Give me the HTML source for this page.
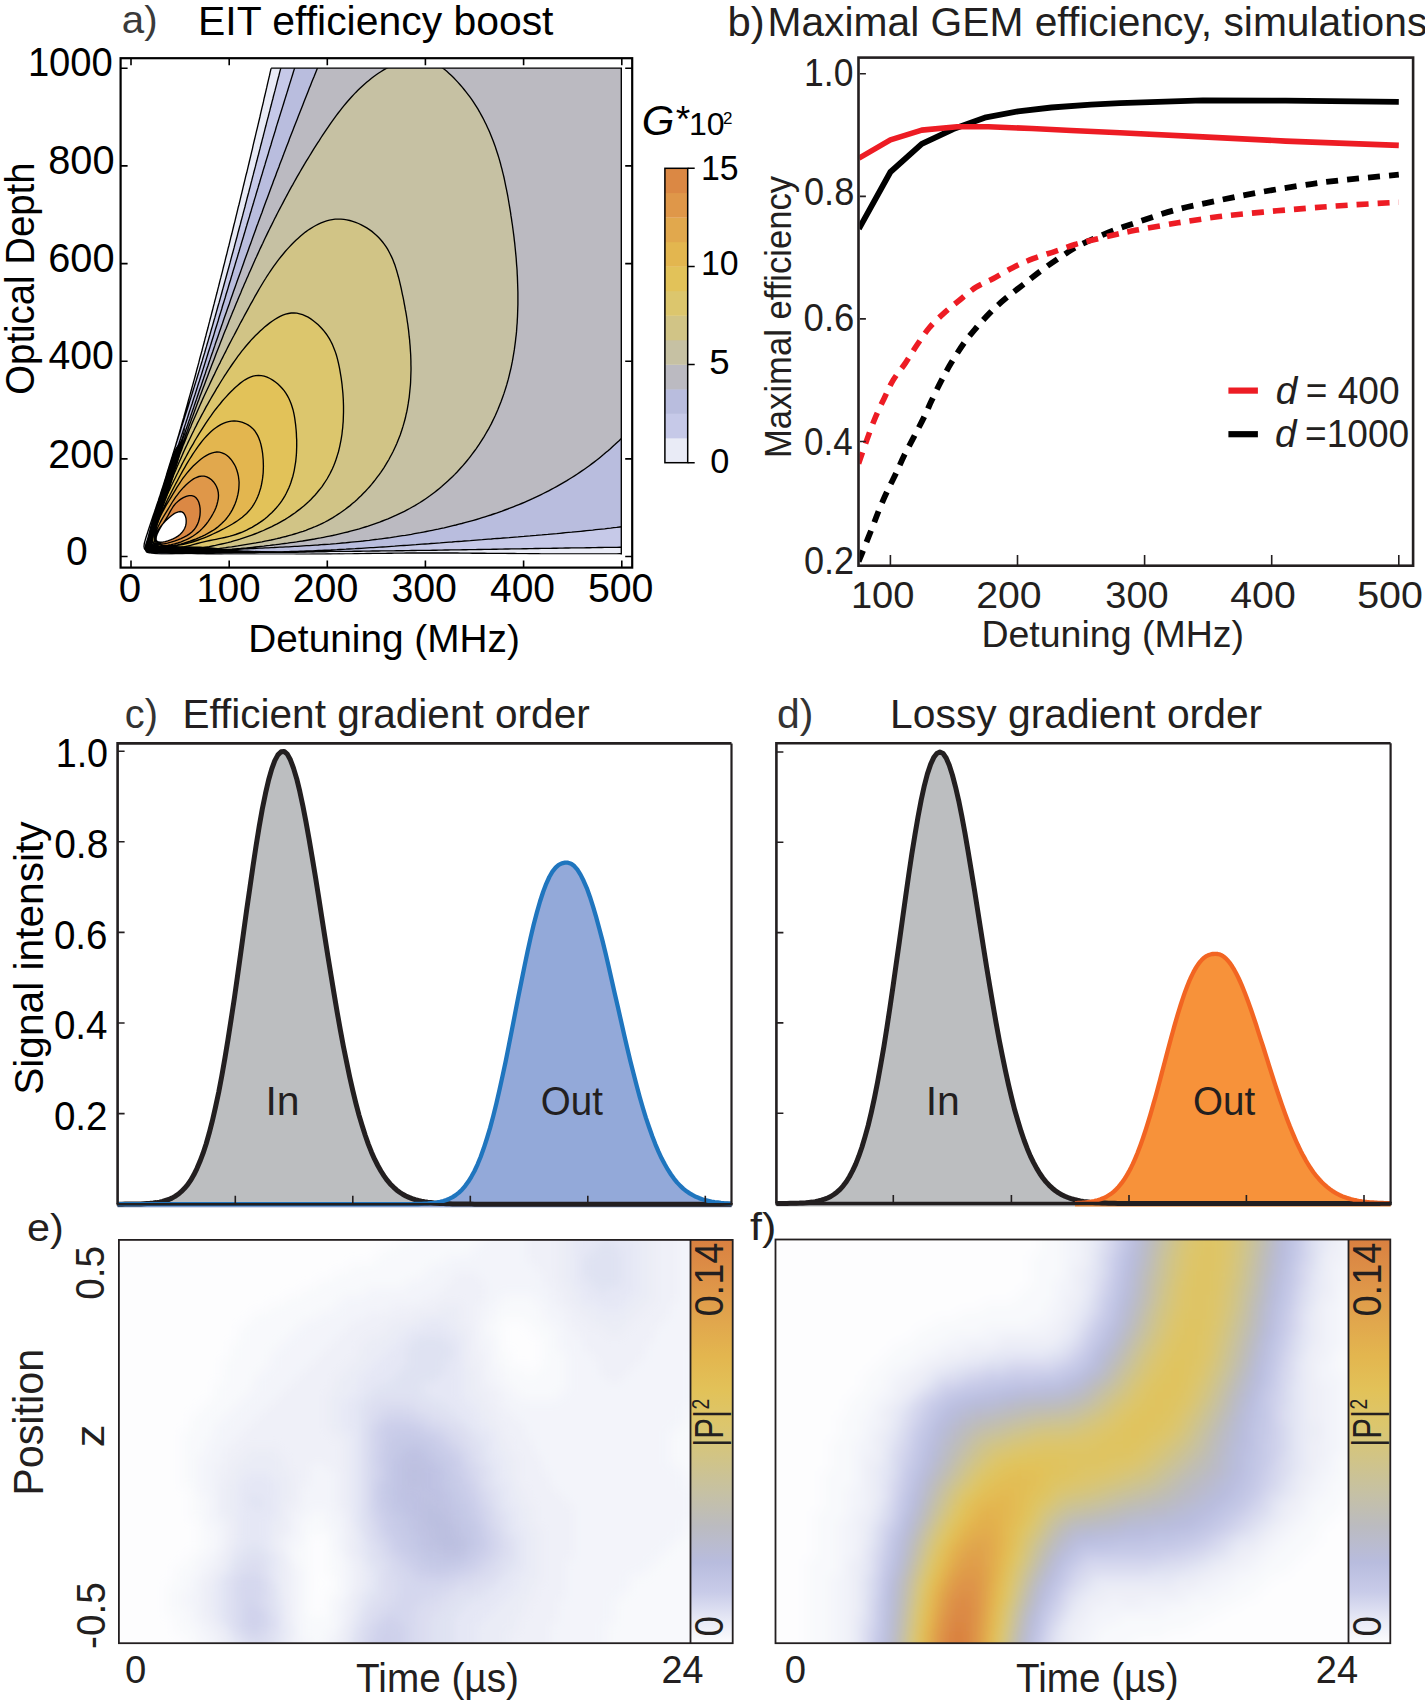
<!DOCTYPE html>
<html><head><meta charset="utf-8"><title>figure</title>
<style>html,body{margin:0;padding:0;background:#fff;}svg{display:block;}
text{font-family:"Liberation Sans",sans-serif;}</style></head>
<body><svg width="1425" height="1700" viewBox="0 0 1425 1700">
<rect width="1425" height="1700" fill="#fff"/>
<clipPath id="aclip"><rect x="111" y="68.3" width="510.3" height="486.2"/></clipPath>
<g clip-path="url(#aclip)">
<path d="M274.8,52.0 L274.2,55.0 L273.5,57.9 L272.8,60.8 L272.1,63.8 L271.5,66.7 L270.8,69.6 L270.1,72.6 L269.5,75.5 L268.8,78.4 L268.1,81.3 L267.4,84.3 L266.8,87.2 L266.1,90.1 L265.4,93.1 L264.7,96.0 L264.0,98.9 L263.4,101.9 L262.7,104.8 L262.0,107.7 L261.3,110.7 L260.6,113.6 L260.0,116.5 L259.3,119.5 L258.6,122.4 L257.9,125.3 L257.2,128.3 L256.5,131.2 L255.8,134.1 L255.1,137.1 L254.4,140.0 L253.7,142.9 L253.0,145.9 L252.4,148.8 L251.7,151.7 L251.0,154.7 L250.3,157.6 L249.6,160.5 L248.9,163.5 L248.2,166.4 L247.5,169.3 L246.8,172.3 L246.0,175.2 L245.3,178.1 L244.6,181.1 L243.9,184.0 L243.2,186.9 L242.5,189.9 L241.8,192.8 L241.1,195.7 L240.4,198.7 L239.7,201.6 L239.0,204.5 L238.2,207.4 L237.5,210.4 L236.8,213.3 L236.1,216.2 L235.4,219.2 L234.7,222.1 L233.9,225.0 L233.2,228.0 L232.5,230.9 L231.8,233.8 L231.0,236.7 L230.3,239.7 L229.6,242.6 L228.9,245.5 L228.1,248.4 L227.4,251.4 L226.7,254.3 L225.9,257.2 L225.2,260.1 L224.5,263.1 L223.7,266.0 L223.0,268.9 L222.3,271.8 L221.5,274.8 L220.8,277.7 L220.0,280.6 L219.3,283.5 L218.6,286.4 L217.8,289.4 L217.1,292.3 L216.3,295.2 L215.6,298.1 L214.8,301.0 L214.1,303.9 L213.3,306.9 L212.6,309.8 L211.8,312.7 L211.1,315.6 L210.3,318.5 L209.6,321.4 L208.8,324.3 L208.1,327.3 L207.3,330.2 L206.5,333.1 L205.8,336.0 L205.0,338.9 L204.3,341.8 L203.5,344.7 L202.7,347.6 L202.0,350.5 L201.2,353.4 L200.4,356.3 L199.6,359.2 L198.9,362.2 L198.1,365.1 L197.3,368.0 L196.5,370.9 L195.8,373.8 L195.0,376.7 L194.2,379.6 L193.4,382.5 L192.6,385.4 L191.8,388.3 L191.0,391.2 L190.2,394.1 L189.4,396.9 L188.6,399.8 L187.8,402.7 L187.0,405.6 L186.2,408.5 L185.4,411.4 L184.6,414.3 L183.8,417.2 L182.9,420.1 L182.1,423.0 L181.3,425.9 L180.5,428.8 L179.6,431.7 L178.8,434.6 L177.9,437.4 L177.1,440.3 L176.2,443.2 L175.4,446.1 L174.5,449.0 L173.6,451.9 L172.8,454.8 L171.9,457.7 L171.0,460.5 L170.1,463.4 L169.2,466.3 L168.3,469.2 L167.4,472.1 L166.5,475.0 L165.6,477.9 L164.7,480.7 L163.8,483.6 L162.9,486.5 L161.9,489.4 L161.0,492.3 L160.1,495.2 L159.1,498.0 L158.2,500.9 L157.2,503.8 L156.2,506.7 L155.3,509.6 L154.3,512.4 L153.3,515.3 L152.3,518.2 L151.3,521.2 L150.3,524.2 L149.3,527.2 L148.3,530.3 L147.3,533.5 L146.2,536.8 L145.2,540.1 L144.3,543.4 L144.0,546.4 L144.4,548.7 L145.9,550.1 L148.3,550.8 L151.1,551.1 L154.0,551.3 L156.8,551.6 L159.7,551.8 L162.6,552.0 L165.5,552.2 L168.4,552.4 L171.3,552.6 L174.2,552.8 L177.1,553.0 L180.1,553.1 L183.0,553.3 L185.9,553.5 L188.8,553.6 L191.8,553.7 L194.7,553.9 L197.7,554.0 L200.6,554.1 L203.6,554.2 L206.5,554.3 L209.5,554.4 L212.5,554.5 L215.5,554.6 L218.4,554.6 L221.4,554.7 L224.4,554.8 L227.4,554.8 L230.4,554.9 L233.4,554.9 L236.4,554.9 L239.4,555.0 L242.4,555.0 L245.4,555.0 L248.4,555.0 L251.4,555.0 L254.4,555.0 L257.4,555.0 L260.4,555.0 L263.5,555.0 L266.5,555.0 L269.5,555.0 L272.5,555.0 L275.6,555.0 L278.6,555.0 L281.6,554.9 L284.7,554.9 L287.7,554.9 L290.7,554.8 L293.8,554.8 L296.8,554.7 L299.8,554.7 L302.9,554.7 L305.9,554.6 L309.0,554.6 L312.0,554.5 L315.1,554.5 L318.1,554.4 L321.2,554.4 L324.2,554.3 L327.3,554.2 L330.3,554.2 L333.3,554.1 L336.4,554.1 L339.4,554.0 L342.5,554.0 L345.5,553.9 L348.6,553.9 L351.6,553.8 L354.7,553.7 L357.7,553.7 L360.8,553.6 L363.8,553.6 L366.9,553.5 L369.9,553.5 L372.9,553.4 L376.0,553.4 L379.0,553.3 L382.1,553.3 L385.1,553.3 L388.1,553.2 L391.2,553.2 L394.2,553.1 L397.2,553.1 L400.2,553.1 L403.3,553.1 L406.3,553.0 L409.3,553.0 L412.3,553.0 L415.4,553.0 L418.4,553.0 L421.4,553.0 L424.4,553.0 L427.4,553.0 L430.4,553.0 L433.4,553.0 L436.4,553.0 L439.4,553.0 L442.4,553.0 L445.4,553.0 L448.4,553.0 L451.4,553.0 L454.4,553.0 L457.4,553.0 L460.4,553.1 L463.4,553.1 L466.4,553.1 L469.4,553.1 L472.4,553.2 L475.4,553.2 L478.4,553.2 L481.4,553.2 L484.4,553.2 L487.4,553.3 L490.4,553.3 L493.4,553.3 L496.4,553.4 L499.4,553.4 L502.4,553.4 L505.3,553.4 L508.3,553.5 L511.3,553.5 L514.3,553.5 L517.3,553.6 L520.3,553.6 L523.3,553.6 L526.3,553.6 L529.3,553.7 L532.3,553.7 L535.3,553.7 L538.3,553.7 L541.3,553.8 L544.3,553.8 L547.3,553.8 L550.3,553.8 L553.3,553.8 L556.3,553.9 L559.3,553.9 L562.3,553.9 L565.3,553.9 L568.3,553.9 L571.3,553.9 L574.3,553.9 L577.3,553.9 L580.3,553.9 L583.3,553.9 L586.4,553.9 L589.4,553.9 L592.4,553.9 L595.4,553.9 L598.4,553.9 L601.5,553.9 L604.5,553.9 L607.5,553.8 L610.5,553.8 L613.6,553.8 L616.6,553.8 L619.6,553.7 L622.7,553.7 L625.7,553.6 L628.8,553.6 L631.8,553.6 L634.9,553.5 L637.9,553.4 L641.0,553.4 L644.0,553.3 L647.1,553.3 L650.2,553.2 L660,600 L660,40 L274.8,40 Z" fill="#E9EBF6"/>
<path d="M285.0,52.1 L284.2,55.0 L283.5,57.9 L282.7,60.9 L281.9,63.8 L281.2,66.7 L280.4,69.7 L279.6,72.6 L278.9,75.5 L278.1,78.5 L277.3,81.4 L276.6,84.3 L275.8,87.3 L275.1,90.2 L274.3,93.1 L273.5,96.0 L272.8,99.0 L272.0,101.9 L271.3,104.8 L270.5,107.7 L269.8,110.7 L269.0,113.6 L268.3,116.5 L267.5,119.4 L266.7,122.4 L266.0,125.3 L265.2,128.2 L264.5,131.1 L263.7,134.1 L263.0,137.0 L262.2,139.9 L261.5,142.8 L260.7,145.7 L260.0,148.7 L259.2,151.6 L258.5,154.5 L257.7,157.4 L257.0,160.3 L256.2,163.2 L255.5,166.2 L254.7,169.1 L253.9,172.0 L253.2,174.9 L252.4,177.8 L251.7,180.7 L250.9,183.7 L250.2,186.6 L249.4,189.5 L248.7,192.4 L247.9,195.3 L247.1,198.2 L246.4,201.1 L245.6,204.0 L244.9,207.0 L244.1,209.9 L243.3,212.8 L242.6,215.7 L241.8,218.6 L241.0,221.5 L240.3,224.4 L239.5,227.3 L238.7,230.2 L237.9,233.1 L237.2,236.1 L236.4,239.0 L235.6,241.9 L234.8,244.8 L234.1,247.7 L233.3,250.6 L232.5,253.5 L231.7,256.4 L230.9,259.3 L230.2,262.2 L229.4,265.1 L228.6,268.0 L227.8,270.9 L227.0,273.8 L226.2,276.7 L225.4,279.6 L224.6,282.5 L223.8,285.5 L223.0,288.4 L222.2,291.3 L221.4,294.2 L220.6,297.1 L219.8,300.0 L219.0,302.9 L218.1,305.8 L217.3,308.7 L216.5,311.6 L215.7,314.5 L214.9,317.4 L214.0,320.3 L213.2,323.2 L212.4,326.1 L211.5,329.0 L210.7,331.9 L209.9,334.8 L209.0,337.7 L208.2,340.6 L207.3,343.5 L206.5,346.4 L205.6,349.3 L204.8,352.2 L203.9,355.1 L203.0,358.0 L202.2,360.9 L201.3,363.7 L200.4,366.6 L199.6,369.5 L198.7,372.4 L197.8,375.3 L196.9,378.2 L196.0,381.1 L195.1,384.0 L194.2,386.9 L193.3,389.8 L192.4,392.7 L191.5,395.6 L190.6,398.5 L189.7,401.4 L188.8,404.3 L187.9,407.2 L187.0,410.1 L186.0,413.0 L185.1,415.9 L184.2,418.8 L183.3,421.6 L182.3,424.5 L181.4,427.4 L180.5,430.3 L179.6,433.2 L178.6,436.1 L177.7,439.0 L176.8,441.9 L175.9,444.8 L174.9,447.7 L174.0,450.6 L173.1,453.5 L172.2,456.4 L171.3,459.2 L170.4,462.1 L169.5,465.0 L168.6,467.9 L167.7,470.8 L166.8,473.7 L166.0,476.6 L165.1,479.5 L164.2,482.4 L163.4,485.2 L162.6,488.1 L161.7,491.0 L160.9,493.9 L160.1,496.8 L159.3,499.7 L158.5,502.6 L157.7,505.5 L156.9,508.3 L156.2,511.2 L155.4,514.1 L154.7,517.0 L153.9,519.9 L153.2,522.8 L152.5,525.6 L151.8,528.5 L151.2,531.4 L150.5,534.3 L149.9,537.2 L149.3,540.0 L148.8,542.8 L148.6,545.4 L148.8,547.8 L149.4,549.8 L150.6,551.5 L152.5,552.7 L155.1,553.5 L158.1,553.9 L161.4,554.1 L164.9,554.1 L168.5,554.1 L172.1,554.0 L175.6,553.9 L179.0,553.8 L182.4,553.8 L185.7,553.7 L189.0,553.6 L192.2,553.5 L195.4,553.5 L198.5,553.4 L201.6,553.3 L204.7,553.2 L207.7,553.1 L210.7,553.0 L213.7,553.0 L216.6,552.9 L219.6,552.8 L222.5,552.7 L225.5,552.6 L228.4,552.6 L231.3,552.5 L234.2,552.4 L237.1,552.4 L240.0,552.3 L242.9,552.2 L245.9,552.2 L248.8,552.1 L251.8,552.1 L254.7,552.0 L257.7,552.0 L260.7,552.0 L263.6,551.9 L266.6,551.9 L269.6,551.9 L272.6,551.8 L275.6,551.8 L278.6,551.8 L281.6,551.8 L284.6,551.7 L287.7,551.7 L290.7,551.7 L293.7,551.7 L296.7,551.7 L299.8,551.6 L302.8,551.6 L305.8,551.6 L308.9,551.6 L311.9,551.6 L314.9,551.6 L318.0,551.5 L321.0,551.5 L324.0,551.5 L327.1,551.5 L330.1,551.4 L333.1,551.4 L336.2,551.4 L339.2,551.4 L342.2,551.3 L345.2,551.3 L348.3,551.3 L351.3,551.3 L354.3,551.2 L357.3,551.2 L360.4,551.2 L363.4,551.1 L366.4,551.1 L369.4,551.1 L372.5,551.0 L375.5,551.0 L378.5,551.0 L381.5,550.9 L384.6,550.9 L387.6,550.9 L390.6,550.8 L393.6,550.8 L396.6,550.7 L399.7,550.7 L402.7,550.7 L405.7,550.6 L408.7,550.6 L411.7,550.5 L414.8,550.5 L417.8,550.4 L420.8,550.4 L423.8,550.4 L426.8,550.3 L429.8,550.3 L432.9,550.2 L435.9,550.2 L438.9,550.1 L441.9,550.1 L444.9,550.0 L447.9,550.0 L450.9,549.9 L454.0,549.9 L457.0,549.8 L460.0,549.8 L463.0,549.7 L466.0,549.7 L469.0,549.6 L472.0,549.6 L475.1,549.6 L478.1,549.5 L481.1,549.5 L484.1,549.4 L487.1,549.4 L490.1,549.3 L493.1,549.2 L496.2,549.2 L499.2,549.1 L502.2,549.1 L505.2,549.0 L508.2,549.0 L511.2,548.9 L514.2,548.9 L517.2,548.8 L520.3,548.8 L523.3,548.7 L526.3,548.7 L529.3,548.6 L532.3,548.6 L535.3,548.5 L538.3,548.5 L541.4,548.4 L544.4,548.4 L547.4,548.3 L550.4,548.3 L553.4,548.2 L556.4,548.2 L559.4,548.1 L562.5,548.1 L565.5,548.0 L568.5,548.0 L571.5,547.9 L574.5,547.9 L577.5,547.9 L580.6,547.8 L583.6,547.8 L586.6,547.7 L589.6,547.7 L592.6,547.6 L595.6,547.6 L598.7,547.5 L601.7,547.5 L604.7,547.4 L607.7,547.4 L610.7,547.4 L613.8,547.3 L616.8,547.3 L619.8,547.2 L622.8,547.2 L625.8,547.2 L628.9,547.1 L631.9,547.1 L634.9,547.0 L637.9,547.0 L641.0,547.0 L644.0,546.9 L647.0,546.9 L650.0,546.9 L660,546.8 L660,40 L284.3,40 Z" fill="#C6C9E8"/>
<path d="M299.8,51.9 L298.9,54.8 L297.9,57.7 L297.0,60.6 L296.1,63.5 L295.2,66.5 L294.2,69.4 L293.3,72.3 L292.4,75.2 L291.5,78.1 L290.6,81.0 L289.7,83.9 L288.8,86.8 L287.9,89.7 L287.0,92.6 L286.1,95.5 L285.2,98.4 L284.3,101.3 L283.4,104.2 L282.5,107.1 L281.6,110.0 L280.7,112.9 L279.8,115.7 L278.9,118.6 L278.0,121.5 L277.1,124.4 L276.2,127.3 L275.4,130.2 L274.5,133.1 L273.6,136.0 L272.7,138.9 L271.8,141.8 L271.0,144.7 L270.1,147.5 L269.2,150.4 L268.4,153.3 L267.5,156.2 L266.6,159.1 L265.7,162.0 L264.9,164.9 L264.0,167.7 L263.1,170.6 L262.3,173.5 L261.4,176.4 L260.5,179.3 L259.7,182.2 L258.8,185.0 L258.0,187.9 L257.1,190.8 L256.2,193.7 L255.4,196.6 L254.5,199.4 L253.7,202.3 L252.8,205.2 L251.9,208.1 L251.1,211.0 L250.2,213.8 L249.4,216.7 L248.5,219.6 L247.6,222.5 L246.8,225.3 L245.9,228.2 L245.1,231.1 L244.2,234.0 L243.4,236.8 L242.5,239.7 L241.6,242.6 L240.8,245.5 L239.9,248.4 L239.1,251.2 L238.2,254.1 L237.4,257.0 L236.5,259.9 L235.6,262.7 L234.8,265.6 L233.9,268.5 L233.0,271.4 L232.2,274.2 L231.3,277.1 L230.5,280.0 L229.6,282.8 L228.7,285.7 L227.9,288.6 L227.0,291.5 L226.1,294.3 L225.3,297.2 L224.4,300.1 L223.5,303.0 L222.6,305.8 L221.8,308.7 L220.9,311.6 L220.0,314.5 L219.1,317.3 L218.3,320.2 L217.4,323.1 L216.5,326.0 L215.6,328.8 L214.7,331.7 L213.9,334.6 L213.0,337.5 L212.1,340.3 L211.2,343.2 L210.3,346.1 L209.4,349.0 L208.5,351.8 L207.6,354.7 L206.7,357.6 L205.8,360.5 L204.9,363.4 L204.0,366.2 L203.1,369.1 L202.2,372.0 L201.3,374.9 L200.4,377.7 L199.5,380.6 L198.5,383.5 L197.6,386.4 L196.7,389.3 L195.8,392.1 L194.9,395.0 L193.9,397.9 L193.0,400.8 L192.1,403.7 L191.1,406.6 L190.2,409.4 L189.2,412.3 L188.3,415.2 L187.4,418.1 L186.4,421.0 L185.5,423.9 L184.5,426.7 L183.5,429.6 L182.6,432.5 L181.6,435.4 L180.7,438.3 L179.7,441.2 L178.7,444.1 L177.7,447.0 L176.8,449.8 L175.8,452.7 L174.8,455.6 L173.8,458.5 L172.8,461.4 L171.8,464.3 L170.8,467.2 L169.8,470.1 L168.8,473.0 L167.8,475.9 L166.8,478.8 L165.8,481.7 L164.8,484.6 L163.7,487.5 L162.7,490.4 L161.7,493.3 L160.7,496.2 L159.7,499.1 L158.7,502.0 L157.8,504.9 L156.8,507.8 L155.9,510.8 L155.0,513.7 L154.1,516.6 L153.3,519.6 L152.5,522.5 L151.8,525.5 L151.1,528.4 L150.4,531.4 L149.8,534.4 L149.3,537.4 L148.8,540.4 L148.7,543.2 L149.0,545.6 L150.0,547.4 L151.9,548.5 L154.5,549.0 L157.4,549.2 L160.3,549.5 L163.2,549.7 L166.1,549.9 L169.0,550.1 L171.9,550.2 L174.8,550.4 L177.8,550.6 L180.7,550.7 L183.6,550.9 L186.6,551.0 L189.5,551.2 L192.5,551.3 L195.4,551.4 L198.4,551.5 L201.3,551.6 L204.3,551.7 L207.3,551.8 L210.2,551.9 L213.2,551.9 L216.2,552.0 L219.2,552.1 L222.1,552.1 L225.1,552.2 L228.1,552.2 L231.1,552.2 L234.1,552.2 L237.1,552.3 L240.1,552.3 L243.1,552.3 L246.1,552.3 L249.1,552.3 L252.1,552.2 L255.1,552.2 L258.1,552.2 L261.1,552.2 L264.1,552.1 L267.1,552.1 L270.1,552.0 L273.2,552.0 L276.2,551.9 L279.2,551.8 L282.2,551.8 L285.3,551.7 L288.3,551.6 L291.3,551.5 L294.3,551.4 L297.4,551.3 L300.4,551.2 L303.4,551.1 L306.5,551.0 L309.5,550.9 L312.5,550.8 L315.6,550.6 L318.6,550.5 L321.7,550.4 L324.7,550.2 L327.7,550.1 L330.8,550.0 L333.8,549.8 L336.9,549.7 L339.9,549.5 L343.0,549.3 L346.0,549.2 L349.0,549.0 L352.1,548.8 L355.1,548.7 L358.2,548.5 L361.2,548.3 L364.3,548.1 L367.3,547.9 L370.4,547.7 L373.4,547.6 L376.4,547.4 L379.5,547.2 L382.5,547.0 L385.6,546.8 L388.6,546.6 L391.7,546.4 L394.7,546.2 L397.7,545.9 L400.8,545.7 L403.8,545.5 L406.9,545.3 L409.9,545.1 L412.9,544.9 L416.0,544.7 L419.0,544.4 L422.0,544.2 L425.0,544.0 L428.1,543.8 L431.1,543.5 L434.1,543.3 L437.2,543.1 L440.2,542.9 L443.2,542.6 L446.2,542.4 L449.2,542.2 L452.2,542.0 L455.3,541.7 L458.3,541.5 L461.3,541.3 L464.3,541.0 L467.3,540.8 L470.3,540.6 L473.3,540.3 L476.3,540.1 L479.3,539.9 L482.3,539.7 L485.3,539.4 L488.3,539.2 L491.3,539.0 L494.2,538.7 L497.2,538.5 L500.2,538.3 L503.2,538.0 L506.2,537.8 L509.2,537.6 L512.1,537.3 L515.1,537.1 L518.1,536.9 L521.1,536.6 L524.0,536.4 L527.0,536.1 L530.0,535.9 L533.0,535.6 L536.0,535.4 L538.9,535.1 L541.9,534.9 L544.9,534.6 L547.9,534.4 L550.8,534.1 L553.8,533.8 L556.8,533.6 L559.8,533.3 L562.8,533.0 L565.7,532.7 L568.7,532.4 L571.7,532.2 L574.7,531.9 L577.7,531.6 L580.7,531.3 L583.7,531.0 L586.7,530.7 L589.7,530.4 L592.7,530.1 L595.7,529.7 L598.7,529.4 L601.7,529.1 L604.7,528.8 L607.7,528.4 L610.7,528.1 L613.7,527.7 L616.7,527.4 L619.8,527.0 L622.8,526.7 L625.8,526.3 L628.9,525.9 L631.9,525.5 L634.9,525.1 L638.0,524.8 L641.0,524.4 L644.1,523.9 L647.1,523.5 L650.2,523.1 L660,523.5 L660,40 L299.3,40 Z" fill="#B9BDDE"/>
<path d="M324.0,52.2 L322.8,54.9 L321.7,57.7 L320.6,60.4 L319.5,63.2 L318.3,65.9 L317.2,68.7 L316.1,71.5 L315.0,74.2 L313.9,77.0 L312.7,79.8 L311.6,82.6 L310.5,85.4 L309.4,88.1 L308.3,90.9 L307.2,93.7 L306.1,96.5 L305.0,99.3 L303.9,102.1 L302.8,104.9 L301.7,107.7 L300.6,110.5 L299.5,113.3 L298.4,116.1 L297.3,118.9 L296.2,121.7 L295.1,124.5 L294.0,127.3 L292.9,130.2 L291.8,133.0 L290.7,135.8 L289.6,138.6 L288.6,141.4 L287.5,144.3 L286.4,147.1 L285.3,149.9 L284.2,152.7 L283.2,155.6 L282.1,158.4 L281.0,161.2 L279.9,164.1 L278.9,166.9 L277.8,169.7 L276.7,172.6 L275.7,175.4 L274.6,178.3 L273.5,181.1 L272.5,183.9 L271.4,186.8 L270.4,189.6 L269.3,192.5 L268.3,195.3 L267.2,198.2 L266.1,201.0 L265.1,203.8 L264.0,206.7 L263.0,209.5 L262.0,212.4 L260.9,215.2 L259.9,218.1 L258.8,220.9 L257.8,223.8 L256.7,226.6 L255.7,229.5 L254.7,232.3 L253.6,235.2 L252.6,238.0 L251.6,240.9 L250.6,243.7 L249.5,246.6 L248.5,249.4 L247.5,252.3 L246.5,255.1 L245.4,258.0 L244.4,260.8 L243.4,263.7 L242.4,266.5 L241.4,269.4 L240.4,272.2 L239.4,275.1 L238.3,277.9 L237.3,280.7 L236.3,283.6 L235.3,286.4 L234.3,289.3 L233.3,292.1 L232.3,295.0 L231.3,297.8 L230.3,300.6 L229.4,303.5 L228.4,306.3 L227.4,309.1 L226.4,312.0 L225.4,314.8 L224.4,317.6 L223.4,320.5 L222.5,323.3 L221.5,326.1 L220.5,328.9 L219.5,331.8 L218.6,334.6 L217.6,337.4 L216.6,340.2 L215.6,343.0 L214.7,345.9 L213.7,348.7 L212.8,351.5 L211.8,354.3 L210.8,357.1 L209.9,359.9 L208.9,362.7 L208.0,365.5 L207.0,368.3 L206.0,371.1 L205.1,374.0 L204.1,376.8 L203.2,379.6 L202.2,382.4 L201.3,385.2 L200.3,388.0 L199.3,390.8 L198.4,393.6 L197.4,396.4 L196.5,399.3 L195.5,402.1 L194.5,404.9 L193.6,407.7 L192.6,410.5 L191.6,413.4 L190.6,416.2 L189.7,419.0 L188.7,421.8 L187.7,424.7 L186.7,427.5 L185.7,430.4 L184.8,433.2 L183.8,436.0 L182.8,438.9 L181.8,441.7 L180.8,444.6 L179.8,447.5 L178.8,450.3 L177.8,453.2 L176.7,456.1 L175.7,459.0 L174.7,461.8 L173.7,464.7 L172.6,467.6 L171.6,470.5 L170.5,473.4 L169.5,476.3 L168.4,479.3 L167.4,482.2 L166.3,485.1 L165.2,488.0 L164.2,491.0 L163.1,493.9 L162.0,496.9 L160.9,499.8 L159.8,502.8 L158.7,505.8 L157.6,508.8 L156.4,511.8 L155.3,514.8 L154.2,517.7 L153.2,520.7 L152.2,523.7 L151.4,526.5 L150.7,529.4 L150.2,532.2 L149.8,534.8 L149.7,537.4 L149.9,539.9 L150.4,542.3 L151.1,544.6 L152.3,546.6 L154.1,548.1 L156.2,549.4 L158.6,550.4 L161.1,551.2 L163.7,551.9 L166.4,552.4 L169.3,552.7 L172.2,553.0 L175.3,553.1 L178.4,553.1 L181.6,553.0 L184.8,552.9 L188.0,552.7 L191.3,552.5 L194.6,552.2 L197.8,552.0 L201.1,551.7 L204.3,551.5 L207.5,551.2 L210.7,551.0 L213.9,550.8 L217.0,550.5 L220.1,550.3 L223.2,550.1 L226.3,550.0 L229.4,549.8 L232.4,549.6 L235.5,549.4 L238.5,549.3 L241.5,549.1 L244.5,548.9 L247.5,548.8 L250.5,548.6 L253.4,548.5 L256.4,548.3 L259.4,548.2 L262.3,548.1 L265.2,547.9 L268.2,547.8 L271.1,547.6 L274.0,547.5 L277.0,547.3 L279.9,547.2 L282.8,547.1 L285.8,546.9 L288.7,546.8 L291.6,546.6 L294.6,546.4 L297.5,546.3 L300.5,546.1 L303.4,545.9 L306.4,545.7 L309.3,545.6 L312.3,545.4 L315.3,545.2 L318.3,545.0 L321.2,544.7 L324.2,544.5 L327.2,544.3 L330.2,544.1 L333.2,543.8 L336.2,543.6 L339.2,543.3 L342.2,543.0 L345.2,542.8 L348.2,542.5 L351.2,542.2 L354.2,541.9 L357.2,541.6 L360.2,541.3 L363.2,541.0 L366.3,540.6 L369.3,540.3 L372.3,539.9 L375.3,539.5 L378.3,539.2 L381.3,538.8 L384.3,538.4 L387.3,538.0 L390.4,537.6 L393.4,537.1 L396.4,536.7 L399.4,536.2 L402.4,535.7 L405.4,535.3 L408.4,534.8 L411.4,534.3 L414.4,533.7 L417.4,533.2 L420.4,532.7 L423.4,532.1 L426.3,531.5 L429.3,530.9 L432.3,530.3 L435.3,529.7 L438.2,529.1 L441.2,528.4 L444.2,527.8 L447.1,527.1 L450.1,526.4 L453.0,525.7 L456.0,525.0 L458.9,524.2 L461.8,523.5 L464.8,522.7 L467.7,521.9 L470.6,521.1 L473.5,520.3 L476.4,519.5 L479.3,518.6 L482.2,517.7 L485.0,516.8 L487.9,515.9 L490.8,515.0 L493.6,514.0 L496.5,513.1 L499.3,512.1 L502.1,511.1 L504.9,510.0 L507.7,509.0 L510.5,507.9 L513.3,506.8 L516.1,505.7 L518.9,504.6 L521.6,503.5 L524.4,502.3 L527.1,501.1 L529.9,499.9 L532.6,498.7 L535.3,497.4 L538.0,496.1 L540.7,494.8 L543.3,493.5 L546.0,492.2 L548.7,490.8 L551.3,489.4 L553.9,488.0 L556.5,486.6 L559.1,485.1 L561.7,483.6 L564.3,482.1 L566.9,480.6 L569.4,479.0 L571.9,477.5 L574.5,475.9 L577.0,474.2 L579.4,472.6 L581.9,470.9 L584.4,469.2 L586.8,467.5 L589.3,465.7 L591.7,463.9 L594.1,462.1 L596.5,460.3 L598.8,458.4 L601.2,456.5 L603.5,454.6 L605.8,452.6 L608.1,450.7 L610.4,448.7 L612.7,446.6 L614.9,444.6 L617.1,442.5 L619.4,440.4 L621.6,438.2 L623.7,436.1 L625.9,433.9 L628.0,431.6 L630.1,429.4 L632.2,427.1 L634.3,424.7 L636.4,422.4 L638.4,420.0 L640.5,417.6 L660,418 L660,40 L324,40 Z" fill="#BBBAC1"/>
<path d="M414.0,57.4 L411.0,58.2 L408.0,59.0 L405.0,60.0 L402.1,61.0 L399.3,62.1 L396.5,63.3 L393.8,64.5 L391.1,65.8 L388.5,67.2 L385.9,68.6 L383.3,70.1 L380.8,71.7 L378.4,73.3 L375.9,75.0 L373.5,76.7 L371.2,78.5 L368.9,80.4 L366.6,82.3 L364.4,84.2 L362.2,86.2 L360.0,88.2 L357.9,90.3 L355.8,92.4 L353.7,94.6 L351.7,96.8 L349.7,99.0 L347.7,101.3 L345.8,103.5 L343.8,105.9 L342.0,108.2 L340.1,110.6 L338.2,113.0 L336.4,115.4 L334.6,117.9 L332.8,120.3 L331.0,122.8 L329.3,125.3 L327.6,127.8 L325.9,130.4 L324.2,132.9 L322.5,135.4 L320.8,138.0 L319.2,140.6 L317.5,143.1 L315.9,145.7 L314.3,148.2 L312.6,150.8 L311.1,153.4 L309.5,156.0 L307.9,158.6 L306.3,161.1 L304.8,163.7 L303.2,166.3 L301.7,168.9 L300.2,171.5 L298.7,174.1 L297.2,176.7 L295.7,179.4 L294.2,182.0 L292.8,184.6 L291.3,187.2 L289.8,189.9 L288.4,192.5 L287.0,195.1 L285.6,197.8 L284.2,200.4 L282.8,203.1 L281.4,205.7 L280.0,208.4 L278.6,211.0 L277.2,213.7 L275.9,216.4 L274.5,219.0 L273.2,221.7 L271.9,224.4 L270.5,227.1 L269.2,229.7 L267.9,232.4 L266.6,235.1 L265.3,237.8 L264.0,240.5 L262.8,243.2 L261.5,245.9 L260.2,248.6 L259.0,251.3 L257.7,254.1 L256.5,256.8 L255.2,259.5 L254.0,262.2 L252.8,264.9 L251.6,267.7 L250.4,270.4 L249.2,273.1 L248.0,275.9 L246.8,278.6 L245.6,281.4 L244.4,284.1 L243.2,286.9 L242.0,289.6 L240.9,292.4 L239.7,295.2 L238.5,297.9 L237.4,300.7 L236.2,303.5 L235.1,306.2 L234.0,309.0 L232.8,311.8 L231.7,314.6 L230.5,317.4 L229.4,320.1 L228.3,322.9 L227.2,325.7 L226.1,328.5 L224.9,331.3 L223.8,334.1 L222.7,336.9 L221.6,339.7 L220.5,342.6 L219.4,345.4 L218.3,348.2 L217.2,351.0 L216.1,353.8 L215.1,356.6 L214.0,359.5 L212.9,362.3 L211.8,365.1 L210.7,368.0 L209.6,370.8 L208.6,373.6 L207.5,376.5 L206.4,379.3 L205.4,382.1 L204.3,385.0 L203.2,387.8 L202.2,390.6 L201.1,393.5 L200.0,396.3 L199.0,399.2 L197.9,402.0 L196.9,404.8 L195.8,407.7 L194.8,410.5 L193.7,413.4 L192.7,416.2 L191.6,419.0 L190.6,421.9 L189.5,424.7 L188.5,427.5 L187.5,430.4 L186.4,433.2 L185.4,436.0 L184.4,438.9 L183.3,441.7 L182.3,444.5 L181.3,447.4 L180.2,450.2 L179.2,453.0 L178.2,455.8 L177.1,458.6 L176.1,461.4 L175.1,464.3 L174.1,467.1 L173.1,469.9 L172.0,472.7 L171.0,475.5 L170.0,478.3 L169.0,481.1 L168.0,483.9 L166.9,486.7 L165.9,489.4 L164.9,492.2 L163.9,495.0 L162.9,497.8 L161.9,500.5 L160.8,503.3 L159.8,506.1 L158.8,509.0 L157.8,511.8 L156.7,514.7 L155.7,517.7 L154.7,520.7 L153.6,523.8 L152.6,527.0 L151.6,530.2 L150.8,533.3 L150.3,536.3 L150.1,539.2 L150.2,541.9 L150.8,544.2 L151.9,546.2 L153.6,547.7 L155.7,548.8 L158.3,549.6 L161.2,550.1 L164.3,550.3 L167.5,550.5 L170.8,550.6 L174.0,550.6 L177.3,550.7 L180.4,550.7 L183.6,550.7 L186.7,550.7 L189.9,550.7 L193.0,550.7 L196.0,550.7 L199.1,550.6 L202.2,550.5 L205.2,550.4 L208.2,550.3 L211.2,550.2 L214.2,550.1 L217.2,550.0 L220.1,549.8 L223.1,549.6 L226.0,549.4 L228.9,549.3 L231.9,549.1 L234.8,548.8 L237.7,548.6 L240.6,548.4 L243.5,548.1 L246.5,547.9 L249.4,547.6 L252.3,547.3 L255.2,547.0 L258.1,546.7 L261.0,546.4 L263.9,546.1 L266.9,545.7 L269.8,545.4 L272.7,545.0 L275.7,544.7 L278.7,544.3 L281.6,543.9 L284.6,543.5 L287.6,543.2 L290.6,542.7 L293.6,542.3 L296.6,541.9 L299.6,541.4 L302.6,541.0 L305.6,540.5 L308.6,540.0 L311.6,539.5 L314.6,539.0 L317.6,538.4 L320.6,537.9 L323.6,537.3 L326.6,536.7 L329.6,536.1 L332.6,535.5 L335.6,534.8 L338.6,534.1 L341.6,533.4 L344.6,532.7 L347.6,532.0 L350.5,531.2 L353.5,530.4 L356.4,529.6 L359.3,528.8 L362.3,527.9 L365.2,527.0 L368.1,526.1 L371.0,525.1 L373.9,524.1 L376.7,523.1 L379.6,522.1 L382.4,521.0 L385.2,519.9 L388.0,518.8 L390.8,517.6 L393.5,516.4 L396.3,515.2 L399.0,513.9 L401.7,512.6 L404.4,511.3 L407.1,509.9 L409.7,508.5 L412.3,507.0 L414.9,505.6 L417.5,504.0 L420.0,502.5 L422.5,500.9 L425.0,499.2 L427.5,497.5 L429.9,495.8 L432.3,494.0 L434.7,492.2 L437.0,490.4 L439.4,488.5 L441.7,486.6 L443.9,484.6 L446.2,482.6 L448.4,480.6 L450.5,478.6 L452.7,476.5 L454.8,474.4 L456.9,472.2 L458.9,470.0 L460.9,467.8 L462.9,465.6 L464.9,463.3 L466.8,461.0 L468.7,458.7 L470.5,456.3 L472.3,453.9 L474.1,451.5 L475.9,449.1 L477.6,446.6 L479.3,444.2 L480.9,441.7 L482.5,439.1 L484.1,436.6 L485.6,434.0 L487.1,431.4 L488.6,428.8 L490.0,426.2 L491.4,423.6 L492.7,420.9 L494.0,418.2 L495.3,415.5 L496.5,412.8 L497.7,410.1 L498.8,407.3 L499.9,404.6 L501.0,401.8 L502.0,399.0 L503.0,396.2 L504.0,393.4 L504.9,390.6 L505.8,387.8 L506.7,384.9 L507.5,382.0 L508.3,379.2 L509.0,376.3 L509.7,373.4 L510.4,370.5 L511.1,367.6 L511.7,364.6 L512.3,361.7 L512.8,358.8 L513.3,355.8 L513.8,352.8 L514.3,349.9 L514.7,346.9 L515.1,343.9 L515.5,340.9 L515.8,337.9 L516.2,334.9 L516.5,331.9 L516.7,328.9 L516.9,325.8 L517.2,322.8 L517.3,319.8 L517.5,316.7 L517.6,313.7 L517.7,310.6 L517.8,307.6 L517.9,304.5 L517.9,301.5 L517.9,298.4 L517.9,295.3 L517.9,292.3 L517.8,289.2 L517.7,286.1 L517.6,283.0 L517.5,280.0 L517.4,276.9 L517.2,273.8 L517.1,270.8 L516.9,267.7 L516.6,264.6 L516.4,261.6 L516.2,258.5 L515.9,255.4 L515.6,252.4 L515.3,249.3 L515.0,246.2 L514.7,243.2 L514.3,240.1 L514.0,237.1 L513.6,234.1 L513.2,231.0 L512.8,228.0 L512.4,225.0 L511.9,221.9 L511.5,218.9 L511.0,215.9 L510.6,212.9 L510.1,209.9 L509.6,206.9 L509.1,204.0 L508.6,201.0 L508.1,198.0 L507.6,195.1 L507.0,192.1 L506.4,189.2 L505.8,186.3 L505.2,183.3 L504.6,180.4 L504.0,177.5 L503.3,174.7 L502.6,171.8 L501.9,168.9 L501.1,166.1 L500.4,163.2 L499.6,160.4 L498.8,157.6 L497.9,154.8 L497.0,152.0 L496.1,149.2 L495.2,146.4 L494.2,143.7 L493.2,140.9 L492.1,138.2 L491.0,135.5 L489.9,132.8 L488.7,130.1 L487.5,127.5 L486.3,124.8 L485.0,122.2 L483.7,119.5 L482.3,116.9 L480.9,114.4 L479.5,111.8 L478.0,109.2 L476.4,106.7 L474.8,104.2 L473.2,101.7 L471.5,99.2 L469.7,96.7 L467.9,94.3 L466.0,91.9 L464.1,89.5 L462.2,87.1 L460.1,84.7 L458.0,82.4 L455.9,80.1 L453.7,77.8 L451.4,75.6 L449.1,73.4 L446.8,71.3 L444.3,69.3 L441.8,67.5 L439.3,65.7 L436.7,64.1 L434.1,62.7 L431.4,61.4 L428.6,60.3 L425.8,59.5 L423.0,58.8 L420.0,58.3 L417.1,58.1 L414.1,58.2 Z" fill="#C6C1A3"/>
<path d="M340.9,219.1 L338.0,219.1 L335.1,219.2 L332.2,219.6 L329.4,220.2 L326.6,220.9 L323.8,221.8 L321.1,222.9 L318.4,224.1 L315.7,225.5 L313.1,227.0 L310.5,228.6 L307.9,230.3 L305.4,232.1 L303.0,234.1 L300.6,236.1 L298.2,238.2 L295.9,240.3 L293.6,242.5 L291.4,244.8 L289.2,247.1 L287.1,249.4 L285.0,251.8 L283.0,254.2 L281.1,256.5 L279.2,258.9 L277.3,261.3 L275.5,263.8 L273.8,266.2 L272.1,268.6 L270.4,271.1 L268.8,273.5 L267.1,276.0 L265.6,278.5 L264.0,281.0 L262.5,283.5 L261.0,286.0 L259.5,288.5 L258.0,291.1 L256.6,293.6 L255.1,296.2 L253.7,298.8 L252.3,301.3 L250.8,303.9 L249.4,306.5 L248.0,309.1 L246.5,311.8 L245.1,314.4 L243.7,317.0 L242.3,319.7 L240.8,322.3 L239.4,325.0 L238.0,327.7 L236.6,330.4 L235.2,333.1 L233.8,335.8 L232.3,338.5 L230.9,341.2 L229.5,343.9 L228.1,346.6 L226.8,349.3 L225.4,352.1 L224.0,354.8 L222.6,357.6 L221.2,360.3 L219.9,363.1 L218.5,365.8 L217.1,368.6 L215.8,371.3 L214.5,374.1 L213.1,376.9 L211.8,379.6 L210.5,382.4 L209.2,385.2 L207.9,388.0 L206.6,390.7 L205.3,393.5 L204.0,396.3 L202.7,399.1 L201.5,401.9 L200.2,404.7 L199.0,407.4 L197.8,410.2 L196.6,413.0 L195.4,415.8 L194.2,418.5 L193.0,421.3 L191.8,424.1 L190.7,426.9 L189.5,429.6 L188.4,432.4 L187.3,435.1 L186.2,437.9 L185.1,440.7 L184.0,443.4 L182.9,446.1 L181.9,448.9 L180.9,451.6 L179.8,454.3 L178.8,457.1 L177.8,459.8 L176.9,462.5 L175.9,465.2 L174.9,467.9 L174.0,470.6 L173.0,473.4 L172.0,476.1 L171.0,478.9 L170.0,481.7 L169.0,484.5 L167.9,487.3 L166.8,490.2 L165.6,493.1 L164.3,496.1 L163.1,499.1 L161.8,502.2 L160.4,505.3 L159.1,508.4 L157.9,511.5 L156.6,514.6 L155.5,517.6 L154.5,520.7 L153.5,523.7 L152.8,526.6 L152.2,529.5 L151.7,532.3 L151.5,535.1 L151.6,537.7 L151.9,540.2 L152.5,542.4 L153.6,544.4 L155.1,546.0 L157.1,547.3 L159.5,548.2 L162.2,548.9 L165.0,549.5 L168.0,549.9 L171.1,550.2 L174.1,550.4 L177.1,550.6 L180.1,550.7 L183.2,550.8 L186.2,550.8 L189.2,550.8 L192.2,550.7 L195.3,550.6 L198.3,550.5 L201.3,550.3 L204.4,550.1 L207.4,549.8 L210.4,549.5 L213.4,549.2 L216.5,548.8 L219.5,548.5 L222.5,548.1 L225.6,547.7 L228.6,547.2 L231.6,546.8 L234.7,546.3 L237.7,545.9 L240.8,545.4 L243.8,544.9 L246.8,544.4 L249.9,543.9 L252.9,543.4 L255.9,542.9 L258.9,542.3 L262.0,541.8 L265.0,541.2 L268.0,540.6 L271.0,540.0 L274.0,539.3 L276.9,538.7 L279.9,538.0 L282.8,537.2 L285.8,536.5 L288.7,535.7 L291.6,534.9 L294.5,534.0 L297.4,533.2 L300.3,532.2 L303.1,531.3 L305.9,530.3 L308.7,529.2 L311.5,528.1 L314.3,527.0 L317.0,525.8 L319.7,524.6 L322.4,523.3 L325.1,522.0 L327.7,520.6 L330.3,519.1 L332.9,517.6 L335.4,516.0 L337.9,514.4 L340.4,512.8 L342.9,511.0 L345.3,509.3 L347.7,507.4 L350.1,505.6 L352.4,503.6 L354.7,501.7 L356.9,499.7 L359.1,497.6 L361.3,495.5 L363.4,493.3 L365.5,491.2 L367.6,488.9 L369.6,486.7 L371.6,484.4 L373.5,482.0 L375.4,479.6 L377.2,477.2 L379.0,474.8 L380.8,472.3 L382.5,469.8 L384.2,467.3 L385.8,464.7 L387.3,462.1 L388.9,459.5 L390.3,456.8 L391.7,454.2 L393.1,451.5 L394.4,448.8 L395.7,446.0 L396.9,443.3 L398.0,440.5 L399.1,437.7 L400.2,434.9 L401.2,432.1 L402.1,429.3 L403.0,426.4 L403.8,423.6 L404.6,420.7 L405.4,417.8 L406.0,414.9 L406.7,412.0 L407.3,409.1 L407.8,406.2 L408.3,403.2 L408.7,400.3 L409.2,397.3 L409.5,394.3 L409.8,391.3 L410.1,388.3 L410.4,385.3 L410.6,382.3 L410.7,379.3 L410.8,376.3 L410.9,373.3 L411.0,370.3 L411.0,367.2 L410.9,364.2 L410.9,361.1 L410.8,358.1 L410.7,355.1 L410.5,352.0 L410.3,349.0 L410.1,345.9 L409.8,342.8 L409.6,339.8 L409.2,336.7 L408.9,333.7 L408.6,330.6 L408.2,327.6 L407.8,324.5 L407.3,321.5 L406.9,318.5 L406.4,315.4 L405.9,312.4 L405.3,309.4 L404.8,306.3 L404.2,303.3 L403.7,300.3 L403.1,297.3 L402.4,294.3 L401.8,291.3 L401.2,288.3 L400.5,285.3 L399.8,282.4 L399.1,279.4 L398.3,276.5 L397.5,273.6 L396.7,270.7 L395.8,267.9 L394.9,265.1 L393.8,262.3 L392.8,259.6 L391.6,256.9 L390.3,254.3 L389.0,251.7 L387.6,249.2 L386.0,246.7 L384.4,244.3 L382.6,242.0 L380.7,239.7 L378.7,237.5 L376.6,235.4 L374.3,233.4 L371.9,231.4 L369.4,229.6 L366.8,227.9 L364.1,226.3 L361.3,224.8 L358.5,223.5 L355.6,222.3 L352.7,221.3 L349.8,220.5 L346.8,219.8 L343.9,219.4 L340.9,219.1Z" fill="#D1C486"/>
<path d="M294.0,312.9 L291.2,313.0 L288.4,313.5 L285.6,314.2 L282.8,315.2 L280.1,316.4 L277.4,317.9 L274.7,319.5 L272.1,321.3 L269.5,323.1 L267.0,325.1 L264.6,327.1 L262.2,329.2 L259.9,331.3 L257.7,333.4 L255.5,335.5 L253.4,337.7 L251.3,339.9 L249.3,342.2 L247.3,344.5 L245.4,346.8 L243.5,349.1 L241.6,351.4 L239.8,353.8 L238.0,356.2 L236.3,358.6 L234.5,361.1 L232.8,363.5 L231.1,366.0 L229.5,368.4 L227.8,370.9 L226.2,373.4 L224.5,375.9 L222.9,378.5 L221.3,381.0 L219.8,383.5 L218.2,386.1 L216.6,388.7 L215.1,391.3 L213.6,393.8 L212.1,396.4 L210.6,399.0 L209.1,401.7 L207.6,404.3 L206.1,406.9 L204.7,409.6 L203.3,412.2 L201.8,414.9 L200.4,417.6 L199.0,420.2 L197.6,422.9 L196.3,425.6 L194.9,428.3 L193.6,431.0 L192.2,433.7 L190.9,436.5 L189.6,439.2 L188.3,441.9 L187.0,444.7 L185.7,447.4 L184.5,450.1 L183.2,452.9 L182.0,455.7 L180.8,458.4 L179.5,461.2 L178.3,464.0 L177.1,466.7 L176.0,469.5 L174.8,472.3 L173.6,475.1 L172.5,477.9 L171.3,480.6 L170.2,483.4 L169.1,486.2 L167.9,489.0 L166.8,491.8 L165.8,494.6 L164.7,497.4 L163.6,500.2 L162.5,503.0 L161.5,505.9 L160.4,508.7 L159.4,511.6 L158.3,514.6 L157.3,517.5 L156.3,520.6 L155.2,523.7 L154.2,526.8 L153.3,529.9 L152.6,533.0 L152.2,535.9 L152.1,538.6 L152.6,541.0 L153.6,543.0 L155.1,544.7 L157.2,546.0 L159.6,547.1 L162.2,547.9 L164.8,548.6 L167.5,549.1 L170.2,549.5 L173.0,549.8 L175.9,550.0 L178.8,550.0 L181.7,550.0 L184.7,549.8 L187.7,549.6 L190.7,549.3 L193.8,548.9 L196.9,548.5 L199.9,548.1 L203.0,547.6 L206.1,547.1 L209.2,546.6 L212.3,546.0 L215.4,545.4 L218.5,544.7 L221.6,544.0 L224.6,543.3 L227.7,542.6 L230.8,541.8 L233.8,540.9 L236.8,540.1 L239.9,539.2 L242.9,538.2 L245.9,537.2 L248.8,536.2 L251.8,535.1 L254.7,534.0 L257.6,532.9 L260.5,531.7 L263.4,530.5 L266.2,529.2 L269.0,527.9 L271.8,526.6 L274.5,525.2 L277.2,523.8 L279.9,522.3 L282.5,520.8 L285.2,519.3 L287.7,517.7 L290.2,516.1 L292.7,514.4 L295.2,512.7 L297.5,510.9 L299.9,509.1 L302.2,507.2 L304.4,505.4 L306.6,503.4 L308.8,501.4 L310.9,499.4 L312.9,497.3 L314.9,495.2 L316.8,493.0 L318.6,490.8 L320.4,488.6 L322.2,486.3 L323.8,483.9 L325.4,481.5 L327.0,479.0 L328.4,476.5 L329.8,474.0 L331.1,471.4 L332.4,468.8 L333.6,466.1 L334.7,463.3 L335.7,460.6 L336.6,457.7 L337.5,454.9 L338.4,452.0 L339.1,449.1 L339.8,446.1 L340.4,443.1 L341.0,440.1 L341.5,437.1 L342.0,434.0 L342.3,430.9 L342.7,427.8 L342.9,424.7 L343.2,421.6 L343.3,418.5 L343.4,415.4 L343.5,412.2 L343.5,409.1 L343.5,405.9 L343.4,402.8 L343.3,399.7 L343.1,396.5 L342.9,393.4 L342.6,390.3 L342.3,387.2 L342.0,384.1 L341.6,381.1 L341.2,378.1 L340.7,375.1 L340.2,372.1 L339.7,369.1 L339.1,366.2 L338.5,363.3 L337.8,360.4 L337.1,357.6 L336.3,354.8 L335.4,352.1 L334.4,349.4 L333.3,346.7 L332.2,344.1 L330.9,341.5 L329.5,338.9 L327.9,336.4 L326.3,334.0 L324.5,331.6 L322.5,329.3 L320.4,327.0 L318.2,324.8 L315.8,322.7 L313.3,320.7 L310.8,318.9 L308.1,317.2 L305.3,315.8 L302.6,314.7 L299.7,313.8 L296.9,313.2 L294.0,312.9Z" fill="#DCC66D"/>
<path d="M261.4,375.6 L258.5,375.4 L255.7,375.6 L253.0,376.2 L250.3,377.2 L247.6,378.4 L245.0,379.8 L242.5,381.5 L240.0,383.4 L237.6,385.4 L235.2,387.5 L232.9,389.8 L230.6,392.0 L228.4,394.3 L226.3,396.6 L224.2,398.9 L222.1,401.3 L220.2,403.7 L218.2,406.1 L216.3,408.5 L214.4,410.9 L212.6,413.4 L210.9,415.9 L209.1,418.3 L207.4,420.8 L205.7,423.3 L204.1,425.8 L202.5,428.4 L200.9,430.9 L199.3,433.4 L197.8,435.9 L196.2,438.5 L194.7,441.0 L193.3,443.6 L191.8,446.1 L190.3,448.7 L188.9,451.3 L187.5,453.9 L186.1,456.5 L184.7,459.1 L183.3,461.8 L181.9,464.4 L180.6,467.1 L179.2,469.8 L177.9,472.5 L176.5,475.2 L175.2,478.0 L173.8,480.7 L172.5,483.5 L171.1,486.3 L169.8,489.1 L168.4,491.9 L167.1,494.8 L165.7,497.7 L164.3,500.6 L163.0,503.5 L161.7,506.4 L160.4,509.4 L159.2,512.3 L158.1,515.2 L157.1,518.2 L156.2,521.1 L155.4,524.0 L154.8,526.9 L154.3,529.7 L154.0,532.5 L153.9,535.3 L154.0,538.0 L154.5,540.6 L155.3,542.8 L156.6,544.8 L158.4,546.3 L160.5,547.5 L162.8,548.3 L165.4,548.8 L168.1,549.1 L171.0,549.0 L174.1,548.8 L177.3,548.3 L180.5,547.7 L183.9,547.0 L187.2,546.1 L190.6,545.3 L194.0,544.4 L197.3,543.5 L200.6,542.7 L203.8,541.9 L206.9,541.2 L210.0,540.5 L213.0,539.9 L216.0,539.3 L218.9,538.7 L221.7,538.1 L224.6,537.5 L227.4,536.8 L230.1,536.1 L232.9,535.3 L235.6,534.5 L238.4,533.5 L241.1,532.5 L243.9,531.3 L246.6,530.1 L249.3,528.7 L252.0,527.3 L254.7,525.7 L257.3,524.1 L259.9,522.4 L262.5,520.6 L265.0,518.7 L267.4,516.7 L269.7,514.6 L272.0,512.5 L274.1,510.3 L276.2,508.0 L278.2,505.7 L280.0,503.3 L281.8,500.9 L283.4,498.3 L284.9,495.8 L286.3,493.2 L287.6,490.5 L288.9,487.8 L290.0,485.0 L291.0,482.2 L291.9,479.3 L292.8,476.5 L293.5,473.6 L294.2,470.6 L294.7,467.6 L295.2,464.6 L295.7,461.6 L296.0,458.6 L296.3,455.5 L296.5,452.5 L296.6,449.4 L296.7,446.3 L296.7,443.2 L296.7,440.1 L296.5,437.0 L296.4,433.9 L296.2,430.8 L295.9,427.8 L295.6,424.7 L295.2,421.6 L294.8,418.6 L294.3,415.6 L293.7,412.6 L293.0,409.7 L292.1,406.8 L291.2,404.0 L290.1,401.2 L288.9,398.5 L287.5,395.9 L286.0,393.3 L284.3,390.8 L282.3,388.5 L280.2,386.2 L277.9,384.0 L275.4,382.0 L272.7,380.1 L270.0,378.5 L267.1,377.2 L264.2,376.2 L261.4,375.6Z" fill="#E2C259"/>
<path d="M236.9,421.2 L234.1,421.0 L231.3,421.2 L228.6,421.7 L225.9,422.4 L223.3,423.4 L220.7,424.6 L218.2,426.1 L215.8,427.7 L213.4,429.5 L211.1,431.5 L208.8,433.7 L206.6,436.0 L204.4,438.4 L202.3,440.9 L200.3,443.5 L198.3,446.1 L196.4,448.8 L194.6,451.5 L192.8,454.2 L191.1,456.9 L189.4,459.5 L187.8,462.2 L186.3,464.7 L184.8,467.3 L183.3,469.8 L181.9,472.3 L180.6,474.7 L179.2,477.2 L177.9,479.7 L176.6,482.2 L175.2,484.7 L173.9,487.2 L172.6,489.8 L171.2,492.5 L169.8,495.2 L168.4,497.9 L167.0,500.8 L165.6,503.6 L164.2,506.6 L162.8,509.5 L161.4,512.5 L160.1,515.5 L158.9,518.5 L157.8,521.5 L156.8,524.5 L155.9,527.5 L155.2,530.5 L154.6,533.4 L154.2,536.3 L154.1,539.0 L154.5,541.4 L155.6,543.3 L157.5,544.6 L160.0,545.2 L162.9,545.6 L165.8,545.8 L168.7,545.9 L171.6,545.8 L174.6,545.6 L177.5,545.3 L180.5,544.8 L183.5,544.3 L186.4,543.6 L189.4,542.8 L192.4,542.0 L195.4,541.0 L198.3,540.0 L201.3,538.9 L204.2,537.8 L207.2,536.6 L210.1,535.3 L213.0,534.0 L215.9,532.7 L218.7,531.3 L221.5,529.9 L224.3,528.5 L227.1,527.0 L229.8,525.5 L232.4,524.0 L235.0,522.4 L237.5,520.8 L239.9,519.0 L242.3,517.2 L244.5,515.3 L246.6,513.4 L248.6,511.3 L250.5,509.1 L252.2,506.8 L253.8,504.4 L255.3,501.8 L256.6,499.2 L257.8,496.5 L258.9,493.7 L259.8,490.9 L260.7,488.0 L261.4,485.0 L262.0,482.0 L262.5,478.9 L262.9,475.7 L263.2,472.6 L263.3,469.4 L263.4,466.2 L263.3,463.0 L263.2,459.7 L262.9,456.5 L262.6,453.3 L262.1,450.1 L261.5,447.0 L260.8,443.9 L259.9,440.9 L258.8,438.1 L257.6,435.4 L256.1,432.9 L254.5,430.5 L252.6,428.4 L250.4,426.5 L248.0,424.9 L245.4,423.5 L242.6,422.4 L239.7,421.6 L236.9,421.2Z" fill="#E3B64F"/>
<path d="M219.5,452.2 L216.9,452.0 L214.3,452.4 L211.6,453.1 L208.9,454.2 L206.2,455.6 L203.5,457.3 L200.8,459.3 L198.2,461.4 L195.7,463.7 L193.2,466.1 L190.9,468.5 L188.7,471.0 L186.7,473.4 L184.8,475.8 L183.0,478.1 L181.4,480.5 L179.9,482.8 L178.4,485.1 L176.9,487.4 L175.5,489.8 L174.1,492.2 L172.6,494.7 L171.0,497.3 L169.4,500.0 L167.8,502.7 L166.1,505.5 L164.5,508.4 L162.9,511.3 L161.4,514.3 L159.9,517.2 L158.6,520.2 L157.5,523.2 L156.5,526.1 L155.7,529.1 L155.1,532.0 L154.9,534.8 L154.9,537.5 L155.3,539.9 L156.3,542.0 L157.7,543.6 L159.7,544.8 L162.2,545.5 L164.9,545.9 L167.9,546.0 L171.1,545.8 L174.2,545.4 L177.4,544.8 L180.6,544.1 L183.8,543.2 L187.0,542.2 L190.1,541.2 L193.2,540.0 L196.2,538.9 L199.1,537.7 L202.0,536.4 L204.7,535.1 L207.4,533.7 L210.0,532.2 L212.5,530.7 L215.0,529.1 L217.3,527.4 L219.5,525.5 L221.7,523.6 L223.7,521.6 L225.7,519.5 L227.5,517.2 L229.2,514.8 L230.8,512.3 L232.4,509.6 L233.7,506.9 L235.0,504.0 L236.1,501.0 L237.0,498.0 L237.8,494.9 L238.4,491.8 L238.8,488.6 L239.0,485.5 L239.1,482.3 L238.8,479.2 L238.4,476.0 L237.7,473.0 L236.8,470.0 L235.7,467.0 L234.3,464.3 L232.6,461.6 L230.8,459.2 L228.8,457.1 L226.7,455.3 L224.4,453.8 L222.0,452.8 L219.5,452.2Z" fill="#E1A84D"/>
<path d="M204.2,476.1 L201.6,476.1 L198.9,476.5 L196.2,477.5 L193.5,478.9 L190.9,480.7 L188.4,482.7 L185.9,485.0 L183.5,487.4 L181.3,489.9 L179.2,492.4 L177.4,494.8 L175.6,497.2 L174.0,499.6 L172.4,502.0 L170.9,504.5 L169.4,507.0 L167.8,509.6 L166.1,512.3 L164.4,515.2 L162.6,518.2 L160.9,521.2 L159.3,524.2 L157.8,527.2 L156.7,530.1 L155.8,533.0 L155.4,535.7 L155.3,538.2 L155.8,540.4 L156.7,542.2 L158.1,543.6 L160.1,544.6 L162.4,545.1 L165.1,545.3 L168.1,545.1 L171.2,544.6 L174.5,543.9 L177.8,543.0 L181.2,541.8 L184.4,540.5 L187.5,539.1 L190.4,537.6 L193.1,536.0 L195.6,534.2 L198.0,532.4 L200.3,530.5 L202.4,528.4 L204.4,526.3 L206.3,524.0 L208.1,521.6 L209.9,519.0 L211.5,516.3 L213.1,513.5 L214.6,510.7 L215.9,507.7 L216.9,504.7 L217.7,501.7 L218.3,498.7 L218.5,495.6 L218.3,492.7 L217.7,489.8 L216.7,487.0 L215.3,484.3 L213.6,481.9 L211.5,479.8 L209.2,478.1 L206.8,476.8 L204.2,476.1Z" fill="#DF9749"/>
<path d="M191.8,495.6 L189.1,495.7 L186.2,496.4 L183.3,497.7 L180.4,499.4 L177.8,501.4 L175.5,503.6 L173.6,506.0 L172.0,508.5 L170.4,511.1 L168.9,513.9 L167.4,516.7 L165.6,519.6 L163.7,522.6 L161.8,525.5 L160.0,528.5 L158.4,531.4 L157.1,534.2 L156.3,536.8 L156.1,539.2 L156.4,541.3 L157.5,542.7 L159.3,543.5 L161.7,543.8 L164.5,543.6 L167.6,543.1 L171.0,542.2 L174.4,541.1 L177.8,539.9 L181.0,538.6 L184.0,537.2 L186.9,535.6 L189.5,533.9 L191.9,532.0 L194.0,529.8 L195.8,527.4 L197.3,524.7 L198.5,521.7 L199.4,518.5 L200.0,515.1 L200.2,511.7 L200.1,508.3 L199.6,505.2 L198.8,502.3 L197.6,499.8 L196.0,497.8 L194.1,496.3 L191.8,495.6Z" fill="#DB8844"/>
<path d="M181.9,511.9 L180.3,511.5 L178.4,511.8 L176.4,512.5 L174.2,513.7 L172.0,515.2 L169.8,517.0 L167.6,519.0 L165.4,521.1 L163.4,523.3 L161.5,525.4 L159.8,527.6 L158.4,529.8 L157.2,532.0 L156.3,534.1 L155.8,536.1 L155.7,538.1 L156.0,539.9 L156.9,541.2 L158.4,542.0 L160.4,542.2 L162.7,542.1 L165.2,541.6 L167.8,540.8 L170.5,539.9 L173.0,538.8 L175.5,537.6 L177.9,536.1 L180.0,534.4 L181.9,532.6 L183.5,530.5 L184.7,528.3 L185.6,525.9 L186.1,523.3 L186.2,520.8 L186.0,518.4 L185.4,516.2 L184.5,514.3 L183.4,512.8 L181.9,511.9Z" fill="#FFFFFF"/>
<path d="M274.8,52.0 L274.2,55.0 L273.5,57.9 L272.8,60.8 L272.1,63.8 L271.5,66.7 L270.8,69.6 L270.1,72.6 L269.5,75.5 L268.8,78.4 L268.1,81.3 L267.4,84.3 L266.8,87.2 L266.1,90.1 L265.4,93.1 L264.7,96.0 L264.0,98.9 L263.4,101.9 L262.7,104.8 L262.0,107.7 L261.3,110.7 L260.6,113.6 L260.0,116.5 L259.3,119.5 L258.6,122.4 L257.9,125.3 L257.2,128.3 L256.5,131.2 L255.8,134.1 L255.1,137.1 L254.4,140.0 L253.7,142.9 L253.0,145.9 L252.4,148.8 L251.7,151.7 L251.0,154.7 L250.3,157.6 L249.6,160.5 L248.9,163.5 L248.2,166.4 L247.5,169.3 L246.8,172.3 L246.0,175.2 L245.3,178.1 L244.6,181.1 L243.9,184.0 L243.2,186.9 L242.5,189.9 L241.8,192.8 L241.1,195.7 L240.4,198.7 L239.7,201.6 L239.0,204.5 L238.2,207.4 L237.5,210.4 L236.8,213.3 L236.1,216.2 L235.4,219.2 L234.7,222.1 L233.9,225.0 L233.2,228.0 L232.5,230.9 L231.8,233.8 L231.0,236.7 L230.3,239.7 L229.6,242.6 L228.9,245.5 L228.1,248.4 L227.4,251.4 L226.7,254.3 L225.9,257.2 L225.2,260.1 L224.5,263.1 L223.7,266.0 L223.0,268.9 L222.3,271.8 L221.5,274.8 L220.8,277.7 L220.0,280.6 L219.3,283.5 L218.6,286.4 L217.8,289.4 L217.1,292.3 L216.3,295.2 L215.6,298.1 L214.8,301.0 L214.1,303.9 L213.3,306.9 L212.6,309.8 L211.8,312.7 L211.1,315.6 L210.3,318.5 L209.6,321.4 L208.8,324.3 L208.1,327.3 L207.3,330.2 L206.5,333.1 L205.8,336.0 L205.0,338.9 L204.3,341.8 L203.5,344.7 L202.7,347.6 L202.0,350.5 L201.2,353.4 L200.4,356.3 L199.6,359.2 L198.9,362.2 L198.1,365.1 L197.3,368.0 L196.5,370.9 L195.8,373.8 L195.0,376.7 L194.2,379.6 L193.4,382.5 L192.6,385.4 L191.8,388.3 L191.0,391.2 L190.2,394.1 L189.4,396.9 L188.6,399.8 L187.8,402.7 L187.0,405.6 L186.2,408.5 L185.4,411.4 L184.6,414.3 L183.8,417.2 L182.9,420.1 L182.1,423.0 L181.3,425.9 L180.5,428.8 L179.6,431.7 L178.8,434.6 L177.9,437.4 L177.1,440.3 L176.2,443.2 L175.4,446.1 L174.5,449.0 L173.6,451.9 L172.8,454.8 L171.9,457.7 L171.0,460.5 L170.1,463.4 L169.2,466.3 L168.3,469.2 L167.4,472.1 L166.5,475.0 L165.6,477.9 L164.7,480.7 L163.8,483.6 L162.9,486.5 L161.9,489.4 L161.0,492.3 L160.1,495.2 L159.1,498.0 L158.2,500.9 L157.2,503.8 L156.2,506.7 L155.3,509.6 L154.3,512.4 L153.3,515.3 L152.3,518.2 L151.3,521.2 L150.3,524.2 L149.3,527.2 L148.3,530.3 L147.3,533.5 L146.2,536.8 L145.2,540.1 L144.3,543.4 L144.0,546.4 L144.4,548.7 L145.9,550.1 L148.3,550.8 L151.1,551.1 L154.0,551.3 L156.8,551.6 L159.7,551.8 L162.6,552.0 L165.5,552.2 L168.4,552.4 L171.3,552.6 L174.2,552.8 L177.1,553.0 L180.1,553.1 L183.0,553.3 L185.9,553.5 L188.8,553.6 L191.8,553.7 L194.7,553.9 L197.7,554.0 L200.6,554.1 L203.6,554.2 L206.5,554.3 L209.5,554.4 L212.5,554.5 L215.5,554.6 L218.4,554.6 L221.4,554.7 L224.4,554.8 L227.4,554.8 L230.4,554.9 L233.4,554.9 L236.4,554.9 L239.4,555.0 L242.4,555.0 L245.4,555.0 L248.4,555.0 L251.4,555.0 L254.4,555.0 L257.4,555.0 L260.4,555.0 L263.5,555.0 L266.5,555.0 L269.5,555.0 L272.5,555.0 L275.6,555.0 L278.6,555.0 L281.6,554.9 L284.7,554.9 L287.7,554.9 L290.7,554.8 L293.8,554.8 L296.8,554.7 L299.8,554.7 L302.9,554.7 L305.9,554.6 L309.0,554.6 L312.0,554.5 L315.1,554.5 L318.1,554.4 L321.2,554.4 L324.2,554.3 L327.3,554.2 L330.3,554.2 L333.3,554.1 L336.4,554.1 L339.4,554.0 L342.5,554.0 L345.5,553.9 L348.6,553.9 L351.6,553.8 L354.7,553.7 L357.7,553.7 L360.8,553.6 L363.8,553.6 L366.9,553.5 L369.9,553.5 L372.9,553.4 L376.0,553.4 L379.0,553.3 L382.1,553.3 L385.1,553.3 L388.1,553.2 L391.2,553.2 L394.2,553.1 L397.2,553.1 L400.2,553.1 L403.3,553.1 L406.3,553.0 L409.3,553.0 L412.3,553.0 L415.4,553.0 L418.4,553.0 L421.4,553.0 L424.4,553.0 L427.4,553.0 L430.4,553.0 L433.4,553.0 L436.4,553.0 L439.4,553.0 L442.4,553.0 L445.4,553.0 L448.4,553.0 L451.4,553.0 L454.4,553.0 L457.4,553.0 L460.4,553.1 L463.4,553.1 L466.4,553.1 L469.4,553.1 L472.4,553.2 L475.4,553.2 L478.4,553.2 L481.4,553.2 L484.4,553.2 L487.4,553.3 L490.4,553.3 L493.4,553.3 L496.4,553.4 L499.4,553.4 L502.4,553.4 L505.3,553.4 L508.3,553.5 L511.3,553.5 L514.3,553.5 L517.3,553.6 L520.3,553.6 L523.3,553.6 L526.3,553.6 L529.3,553.7 L532.3,553.7 L535.3,553.7 L538.3,553.7 L541.3,553.8 L544.3,553.8 L547.3,553.8 L550.3,553.8 L553.3,553.8 L556.3,553.9 L559.3,553.9 L562.3,553.9 L565.3,553.9 L568.3,553.9 L571.3,553.9 L574.3,553.9 L577.3,553.9 L580.3,553.9 L583.3,553.9 L586.4,553.9 L589.4,553.9 L592.4,553.9 L595.4,553.9 L598.4,553.9 L601.5,553.9 L604.5,553.9 L607.5,553.8 L610.5,553.8 L613.6,553.8 L616.6,553.8 L619.6,553.7 L622.7,553.7 L625.7,553.6 L628.8,553.6 L631.8,553.6 L634.9,553.5 L637.9,553.4 L641.0,553.4 L644.0,553.3 L647.1,553.3 L650.2,553.2 M285.0,52.1 L284.2,55.0 L283.5,57.9 L282.7,60.9 L281.9,63.8 L281.2,66.7 L280.4,69.7 L279.6,72.6 L278.9,75.5 L278.1,78.5 L277.3,81.4 L276.6,84.3 L275.8,87.3 L275.1,90.2 L274.3,93.1 L273.5,96.0 L272.8,99.0 L272.0,101.9 L271.3,104.8 L270.5,107.7 L269.8,110.7 L269.0,113.6 L268.3,116.5 L267.5,119.4 L266.7,122.4 L266.0,125.3 L265.2,128.2 L264.5,131.1 L263.7,134.1 L263.0,137.0 L262.2,139.9 L261.5,142.8 L260.7,145.7 L260.0,148.7 L259.2,151.6 L258.5,154.5 L257.7,157.4 L257.0,160.3 L256.2,163.2 L255.5,166.2 L254.7,169.1 L253.9,172.0 L253.2,174.9 L252.4,177.8 L251.7,180.7 L250.9,183.7 L250.2,186.6 L249.4,189.5 L248.7,192.4 L247.9,195.3 L247.1,198.2 L246.4,201.1 L245.6,204.0 L244.9,207.0 L244.1,209.9 L243.3,212.8 L242.6,215.7 L241.8,218.6 L241.0,221.5 L240.3,224.4 L239.5,227.3 L238.7,230.2 L237.9,233.1 L237.2,236.1 L236.4,239.0 L235.6,241.9 L234.8,244.8 L234.1,247.7 L233.3,250.6 L232.5,253.5 L231.7,256.4 L230.9,259.3 L230.2,262.2 L229.4,265.1 L228.6,268.0 L227.8,270.9 L227.0,273.8 L226.2,276.7 L225.4,279.6 L224.6,282.5 L223.8,285.5 L223.0,288.4 L222.2,291.3 L221.4,294.2 L220.6,297.1 L219.8,300.0 L219.0,302.9 L218.1,305.8 L217.3,308.7 L216.5,311.6 L215.7,314.5 L214.9,317.4 L214.0,320.3 L213.2,323.2 L212.4,326.1 L211.5,329.0 L210.7,331.9 L209.9,334.8 L209.0,337.7 L208.2,340.6 L207.3,343.5 L206.5,346.4 L205.6,349.3 L204.8,352.2 L203.9,355.1 L203.0,358.0 L202.2,360.9 L201.3,363.7 L200.4,366.6 L199.6,369.5 L198.7,372.4 L197.8,375.3 L196.9,378.2 L196.0,381.1 L195.1,384.0 L194.2,386.9 L193.3,389.8 L192.4,392.7 L191.5,395.6 L190.6,398.5 L189.7,401.4 L188.8,404.3 L187.9,407.2 L187.0,410.1 L186.0,413.0 L185.1,415.9 L184.2,418.8 L183.3,421.6 L182.3,424.5 L181.4,427.4 L180.5,430.3 L179.6,433.2 L178.6,436.1 L177.7,439.0 L176.8,441.9 L175.9,444.8 L174.9,447.7 L174.0,450.6 L173.1,453.5 L172.2,456.4 L171.3,459.2 L170.4,462.1 L169.5,465.0 L168.6,467.9 L167.7,470.8 L166.8,473.7 L166.0,476.6 L165.1,479.5 L164.2,482.4 L163.4,485.2 L162.6,488.1 L161.7,491.0 L160.9,493.9 L160.1,496.8 L159.3,499.7 L158.5,502.6 L157.7,505.5 L156.9,508.3 L156.2,511.2 L155.4,514.1 L154.7,517.0 L153.9,519.9 L153.2,522.8 L152.5,525.6 L151.8,528.5 L151.2,531.4 L150.5,534.3 L149.9,537.2 L149.3,540.0 L148.8,542.8 L148.6,545.4 L148.8,547.8 L149.4,549.8 L150.6,551.5 L152.5,552.7 L155.1,553.5 L158.1,553.9 L161.4,554.1 L164.9,554.1 L168.5,554.1 L172.1,554.0 L175.6,553.9 L179.0,553.8 L182.4,553.8 L185.7,553.7 L189.0,553.6 L192.2,553.5 L195.4,553.5 L198.5,553.4 L201.6,553.3 L204.7,553.2 L207.7,553.1 L210.7,553.0 L213.7,553.0 L216.6,552.9 L219.6,552.8 L222.5,552.7 L225.5,552.6 L228.4,552.6 L231.3,552.5 L234.2,552.4 L237.1,552.4 L240.0,552.3 L242.9,552.2 L245.9,552.2 L248.8,552.1 L251.8,552.1 L254.7,552.0 L257.7,552.0 L260.7,552.0 L263.6,551.9 L266.6,551.9 L269.6,551.9 L272.6,551.8 L275.6,551.8 L278.6,551.8 L281.6,551.8 L284.6,551.7 L287.7,551.7 L290.7,551.7 L293.7,551.7 L296.7,551.7 L299.8,551.6 L302.8,551.6 L305.8,551.6 L308.9,551.6 L311.9,551.6 L314.9,551.6 L318.0,551.5 L321.0,551.5 L324.0,551.5 L327.1,551.5 L330.1,551.4 L333.1,551.4 L336.2,551.4 L339.2,551.4 L342.2,551.3 L345.2,551.3 L348.3,551.3 L351.3,551.3 L354.3,551.2 L357.3,551.2 L360.4,551.2 L363.4,551.1 L366.4,551.1 L369.4,551.1 L372.5,551.0 L375.5,551.0 L378.5,551.0 L381.5,550.9 L384.6,550.9 L387.6,550.9 L390.6,550.8 L393.6,550.8 L396.6,550.7 L399.7,550.7 L402.7,550.7 L405.7,550.6 L408.7,550.6 L411.7,550.5 L414.8,550.5 L417.8,550.4 L420.8,550.4 L423.8,550.4 L426.8,550.3 L429.8,550.3 L432.9,550.2 L435.9,550.2 L438.9,550.1 L441.9,550.1 L444.9,550.0 L447.9,550.0 L450.9,549.9 L454.0,549.9 L457.0,549.8 L460.0,549.8 L463.0,549.7 L466.0,549.7 L469.0,549.6 L472.0,549.6 L475.1,549.6 L478.1,549.5 L481.1,549.5 L484.1,549.4 L487.1,549.4 L490.1,549.3 L493.1,549.2 L496.2,549.2 L499.2,549.1 L502.2,549.1 L505.2,549.0 L508.2,549.0 L511.2,548.9 L514.2,548.9 L517.2,548.8 L520.3,548.8 L523.3,548.7 L526.3,548.7 L529.3,548.6 L532.3,548.6 L535.3,548.5 L538.3,548.5 L541.4,548.4 L544.4,548.4 L547.4,548.3 L550.4,548.3 L553.4,548.2 L556.4,548.2 L559.4,548.1 L562.5,548.1 L565.5,548.0 L568.5,548.0 L571.5,547.9 L574.5,547.9 L577.5,547.9 L580.6,547.8 L583.6,547.8 L586.6,547.7 L589.6,547.7 L592.6,547.6 L595.6,547.6 L598.7,547.5 L601.7,547.5 L604.7,547.4 L607.7,547.4 L610.7,547.4 L613.8,547.3 L616.8,547.3 L619.8,547.2 L622.8,547.2 L625.8,547.2 L628.9,547.1 L631.9,547.1 L634.9,547.0 L637.9,547.0 L641.0,547.0 L644.0,546.9 L647.0,546.9 L650.0,546.9 M299.8,51.9 L298.9,54.8 L297.9,57.7 L297.0,60.6 L296.1,63.5 L295.2,66.5 L294.2,69.4 L293.3,72.3 L292.4,75.2 L291.5,78.1 L290.6,81.0 L289.7,83.9 L288.8,86.8 L287.9,89.7 L287.0,92.6 L286.1,95.5 L285.2,98.4 L284.3,101.3 L283.4,104.2 L282.5,107.1 L281.6,110.0 L280.7,112.9 L279.8,115.7 L278.9,118.6 L278.0,121.5 L277.1,124.4 L276.2,127.3 L275.4,130.2 L274.5,133.1 L273.6,136.0 L272.7,138.9 L271.8,141.8 L271.0,144.7 L270.1,147.5 L269.2,150.4 L268.4,153.3 L267.5,156.2 L266.6,159.1 L265.7,162.0 L264.9,164.9 L264.0,167.7 L263.1,170.6 L262.3,173.5 L261.4,176.4 L260.5,179.3 L259.7,182.2 L258.8,185.0 L258.0,187.9 L257.1,190.8 L256.2,193.7 L255.4,196.6 L254.5,199.4 L253.7,202.3 L252.8,205.2 L251.9,208.1 L251.1,211.0 L250.2,213.8 L249.4,216.7 L248.5,219.6 L247.6,222.5 L246.8,225.3 L245.9,228.2 L245.1,231.1 L244.2,234.0 L243.4,236.8 L242.5,239.7 L241.6,242.6 L240.8,245.5 L239.9,248.4 L239.1,251.2 L238.2,254.1 L237.4,257.0 L236.5,259.9 L235.6,262.7 L234.8,265.6 L233.9,268.5 L233.0,271.4 L232.2,274.2 L231.3,277.1 L230.5,280.0 L229.6,282.8 L228.7,285.7 L227.9,288.6 L227.0,291.5 L226.1,294.3 L225.3,297.2 L224.4,300.1 L223.5,303.0 L222.6,305.8 L221.8,308.7 L220.9,311.6 L220.0,314.5 L219.1,317.3 L218.3,320.2 L217.4,323.1 L216.5,326.0 L215.6,328.8 L214.7,331.7 L213.9,334.6 L213.0,337.5 L212.1,340.3 L211.2,343.2 L210.3,346.1 L209.4,349.0 L208.5,351.8 L207.6,354.7 L206.7,357.6 L205.8,360.5 L204.9,363.4 L204.0,366.2 L203.1,369.1 L202.2,372.0 L201.3,374.9 L200.4,377.7 L199.5,380.6 L198.5,383.5 L197.6,386.4 L196.7,389.3 L195.8,392.1 L194.9,395.0 L193.9,397.9 L193.0,400.8 L192.1,403.7 L191.1,406.6 L190.2,409.4 L189.2,412.3 L188.3,415.2 L187.4,418.1 L186.4,421.0 L185.5,423.9 L184.5,426.7 L183.5,429.6 L182.6,432.5 L181.6,435.4 L180.7,438.3 L179.7,441.2 L178.7,444.1 L177.7,447.0 L176.8,449.8 L175.8,452.7 L174.8,455.6 L173.8,458.5 L172.8,461.4 L171.8,464.3 L170.8,467.2 L169.8,470.1 L168.8,473.0 L167.8,475.9 L166.8,478.8 L165.8,481.7 L164.8,484.6 L163.7,487.5 L162.7,490.4 L161.7,493.3 L160.7,496.2 L159.7,499.1 L158.7,502.0 L157.8,504.9 L156.8,507.8 L155.9,510.8 L155.0,513.7 L154.1,516.6 L153.3,519.6 L152.5,522.5 L151.8,525.5 L151.1,528.4 L150.4,531.4 L149.8,534.4 L149.3,537.4 L148.8,540.4 L148.7,543.2 L149.0,545.6 L150.0,547.4 L151.9,548.5 L154.5,549.0 L157.4,549.2 L160.3,549.5 L163.2,549.7 L166.1,549.9 L169.0,550.1 L171.9,550.2 L174.8,550.4 L177.8,550.6 L180.7,550.7 L183.6,550.9 L186.6,551.0 L189.5,551.2 L192.5,551.3 L195.4,551.4 L198.4,551.5 L201.3,551.6 L204.3,551.7 L207.3,551.8 L210.2,551.9 L213.2,551.9 L216.2,552.0 L219.2,552.1 L222.1,552.1 L225.1,552.2 L228.1,552.2 L231.1,552.2 L234.1,552.2 L237.1,552.3 L240.1,552.3 L243.1,552.3 L246.1,552.3 L249.1,552.3 L252.1,552.2 L255.1,552.2 L258.1,552.2 L261.1,552.2 L264.1,552.1 L267.1,552.1 L270.1,552.0 L273.2,552.0 L276.2,551.9 L279.2,551.8 L282.2,551.8 L285.3,551.7 L288.3,551.6 L291.3,551.5 L294.3,551.4 L297.4,551.3 L300.4,551.2 L303.4,551.1 L306.5,551.0 L309.5,550.9 L312.5,550.8 L315.6,550.6 L318.6,550.5 L321.7,550.4 L324.7,550.2 L327.7,550.1 L330.8,550.0 L333.8,549.8 L336.9,549.7 L339.9,549.5 L343.0,549.3 L346.0,549.2 L349.0,549.0 L352.1,548.8 L355.1,548.7 L358.2,548.5 L361.2,548.3 L364.3,548.1 L367.3,547.9 L370.4,547.7 L373.4,547.6 L376.4,547.4 L379.5,547.2 L382.5,547.0 L385.6,546.8 L388.6,546.6 L391.7,546.4 L394.7,546.2 L397.7,545.9 L400.8,545.7 L403.8,545.5 L406.9,545.3 L409.9,545.1 L412.9,544.9 L416.0,544.7 L419.0,544.4 L422.0,544.2 L425.0,544.0 L428.1,543.8 L431.1,543.5 L434.1,543.3 L437.2,543.1 L440.2,542.9 L443.2,542.6 L446.2,542.4 L449.2,542.2 L452.2,542.0 L455.3,541.7 L458.3,541.5 L461.3,541.3 L464.3,541.0 L467.3,540.8 L470.3,540.6 L473.3,540.3 L476.3,540.1 L479.3,539.9 L482.3,539.7 L485.3,539.4 L488.3,539.2 L491.3,539.0 L494.2,538.7 L497.2,538.5 L500.2,538.3 L503.2,538.0 L506.2,537.8 L509.2,537.6 L512.1,537.3 L515.1,537.1 L518.1,536.9 L521.1,536.6 L524.0,536.4 L527.0,536.1 L530.0,535.9 L533.0,535.6 L536.0,535.4 L538.9,535.1 L541.9,534.9 L544.9,534.6 L547.9,534.4 L550.8,534.1 L553.8,533.8 L556.8,533.6 L559.8,533.3 L562.8,533.0 L565.7,532.7 L568.7,532.4 L571.7,532.2 L574.7,531.9 L577.7,531.6 L580.7,531.3 L583.7,531.0 L586.7,530.7 L589.7,530.4 L592.7,530.1 L595.7,529.7 L598.7,529.4 L601.7,529.1 L604.7,528.8 L607.7,528.4 L610.7,528.1 L613.7,527.7 L616.7,527.4 L619.8,527.0 L622.8,526.7 L625.8,526.3 L628.9,525.9 L631.9,525.5 L634.9,525.1 L638.0,524.8 L641.0,524.4 L644.1,523.9 L647.1,523.5 L650.2,523.1 M324.0,52.2 L322.8,54.9 L321.7,57.7 L320.6,60.4 L319.5,63.2 L318.3,65.9 L317.2,68.7 L316.1,71.5 L315.0,74.2 L313.9,77.0 L312.7,79.8 L311.6,82.6 L310.5,85.4 L309.4,88.1 L308.3,90.9 L307.2,93.7 L306.1,96.5 L305.0,99.3 L303.9,102.1 L302.8,104.9 L301.7,107.7 L300.6,110.5 L299.5,113.3 L298.4,116.1 L297.3,118.9 L296.2,121.7 L295.1,124.5 L294.0,127.3 L292.9,130.2 L291.8,133.0 L290.7,135.8 L289.6,138.6 L288.6,141.4 L287.5,144.3 L286.4,147.1 L285.3,149.9 L284.2,152.7 L283.2,155.6 L282.1,158.4 L281.0,161.2 L279.9,164.1 L278.9,166.9 L277.8,169.7 L276.7,172.6 L275.7,175.4 L274.6,178.3 L273.5,181.1 L272.5,183.9 L271.4,186.8 L270.4,189.6 L269.3,192.5 L268.3,195.3 L267.2,198.2 L266.1,201.0 L265.1,203.8 L264.0,206.7 L263.0,209.5 L262.0,212.4 L260.9,215.2 L259.9,218.1 L258.8,220.9 L257.8,223.8 L256.7,226.6 L255.7,229.5 L254.7,232.3 L253.6,235.2 L252.6,238.0 L251.6,240.9 L250.6,243.7 L249.5,246.6 L248.5,249.4 L247.5,252.3 L246.5,255.1 L245.4,258.0 L244.4,260.8 L243.4,263.7 L242.4,266.5 L241.4,269.4 L240.4,272.2 L239.4,275.1 L238.3,277.9 L237.3,280.7 L236.3,283.6 L235.3,286.4 L234.3,289.3 L233.3,292.1 L232.3,295.0 L231.3,297.8 L230.3,300.6 L229.4,303.5 L228.4,306.3 L227.4,309.1 L226.4,312.0 L225.4,314.8 L224.4,317.6 L223.4,320.5 L222.5,323.3 L221.5,326.1 L220.5,328.9 L219.5,331.8 L218.6,334.6 L217.6,337.4 L216.6,340.2 L215.6,343.0 L214.7,345.9 L213.7,348.7 L212.8,351.5 L211.8,354.3 L210.8,357.1 L209.9,359.9 L208.9,362.7 L208.0,365.5 L207.0,368.3 L206.0,371.1 L205.1,374.0 L204.1,376.8 L203.2,379.6 L202.2,382.4 L201.3,385.2 L200.3,388.0 L199.3,390.8 L198.4,393.6 L197.4,396.4 L196.5,399.3 L195.5,402.1 L194.5,404.9 L193.6,407.7 L192.6,410.5 L191.6,413.4 L190.6,416.2 L189.7,419.0 L188.7,421.8 L187.7,424.7 L186.7,427.5 L185.7,430.4 L184.8,433.2 L183.8,436.0 L182.8,438.9 L181.8,441.7 L180.8,444.6 L179.8,447.5 L178.8,450.3 L177.8,453.2 L176.7,456.1 L175.7,459.0 L174.7,461.8 L173.7,464.7 L172.6,467.6 L171.6,470.5 L170.5,473.4 L169.5,476.3 L168.4,479.3 L167.4,482.2 L166.3,485.1 L165.2,488.0 L164.2,491.0 L163.1,493.9 L162.0,496.9 L160.9,499.8 L159.8,502.8 L158.7,505.8 L157.6,508.8 L156.4,511.8 L155.3,514.8 L154.2,517.7 L153.2,520.7 L152.2,523.7 L151.4,526.5 L150.7,529.4 L150.2,532.2 L149.8,534.8 L149.7,537.4 L149.9,539.9 L150.4,542.3 L151.1,544.6 L152.3,546.6 L154.1,548.1 L156.2,549.4 L158.6,550.4 L161.1,551.2 L163.7,551.9 L166.4,552.4 L169.3,552.7 L172.2,553.0 L175.3,553.1 L178.4,553.1 L181.6,553.0 L184.8,552.9 L188.0,552.7 L191.3,552.5 L194.6,552.2 L197.8,552.0 L201.1,551.7 L204.3,551.5 L207.5,551.2 L210.7,551.0 L213.9,550.8 L217.0,550.5 L220.1,550.3 L223.2,550.1 L226.3,550.0 L229.4,549.8 L232.4,549.6 L235.5,549.4 L238.5,549.3 L241.5,549.1 L244.5,548.9 L247.5,548.8 L250.5,548.6 L253.4,548.5 L256.4,548.3 L259.4,548.2 L262.3,548.1 L265.2,547.9 L268.2,547.8 L271.1,547.6 L274.0,547.5 L277.0,547.3 L279.9,547.2 L282.8,547.1 L285.8,546.9 L288.7,546.8 L291.6,546.6 L294.6,546.4 L297.5,546.3 L300.5,546.1 L303.4,545.9 L306.4,545.7 L309.3,545.6 L312.3,545.4 L315.3,545.2 L318.3,545.0 L321.2,544.7 L324.2,544.5 L327.2,544.3 L330.2,544.1 L333.2,543.8 L336.2,543.6 L339.2,543.3 L342.2,543.0 L345.2,542.8 L348.2,542.5 L351.2,542.2 L354.2,541.9 L357.2,541.6 L360.2,541.3 L363.2,541.0 L366.3,540.6 L369.3,540.3 L372.3,539.9 L375.3,539.5 L378.3,539.2 L381.3,538.8 L384.3,538.4 L387.3,538.0 L390.4,537.6 L393.4,537.1 L396.4,536.7 L399.4,536.2 L402.4,535.7 L405.4,535.3 L408.4,534.8 L411.4,534.3 L414.4,533.7 L417.4,533.2 L420.4,532.7 L423.4,532.1 L426.3,531.5 L429.3,530.9 L432.3,530.3 L435.3,529.7 L438.2,529.1 L441.2,528.4 L444.2,527.8 L447.1,527.1 L450.1,526.4 L453.0,525.7 L456.0,525.0 L458.9,524.2 L461.8,523.5 L464.8,522.7 L467.7,521.9 L470.6,521.1 L473.5,520.3 L476.4,519.5 L479.3,518.6 L482.2,517.7 L485.0,516.8 L487.9,515.9 L490.8,515.0 L493.6,514.0 L496.5,513.1 L499.3,512.1 L502.1,511.1 L504.9,510.0 L507.7,509.0 L510.5,507.9 L513.3,506.8 L516.1,505.7 L518.9,504.6 L521.6,503.5 L524.4,502.3 L527.1,501.1 L529.9,499.9 L532.6,498.7 L535.3,497.4 L538.0,496.1 L540.7,494.8 L543.3,493.5 L546.0,492.2 L548.7,490.8 L551.3,489.4 L553.9,488.0 L556.5,486.6 L559.1,485.1 L561.7,483.6 L564.3,482.1 L566.9,480.6 L569.4,479.0 L571.9,477.5 L574.5,475.9 L577.0,474.2 L579.4,472.6 L581.9,470.9 L584.4,469.2 L586.8,467.5 L589.3,465.7 L591.7,463.9 L594.1,462.1 L596.5,460.3 L598.8,458.4 L601.2,456.5 L603.5,454.6 L605.8,452.6 L608.1,450.7 L610.4,448.7 L612.7,446.6 L614.9,444.6 L617.1,442.5 L619.4,440.4 L621.6,438.2 L623.7,436.1 L625.9,433.9 L628.0,431.6 L630.1,429.4 L632.2,427.1 L634.3,424.7 L636.4,422.4 L638.4,420.0 L640.5,417.6 M414.0,57.4 L411.0,58.2 L408.0,59.0 L405.0,60.0 L402.1,61.0 L399.3,62.1 L396.5,63.3 L393.8,64.5 L391.1,65.8 L388.5,67.2 L385.9,68.6 L383.3,70.1 L380.8,71.7 L378.4,73.3 L375.9,75.0 L373.5,76.7 L371.2,78.5 L368.9,80.4 L366.6,82.3 L364.4,84.2 L362.2,86.2 L360.0,88.2 L357.9,90.3 L355.8,92.4 L353.7,94.6 L351.7,96.8 L349.7,99.0 L347.7,101.3 L345.8,103.5 L343.8,105.9 L342.0,108.2 L340.1,110.6 L338.2,113.0 L336.4,115.4 L334.6,117.9 L332.8,120.3 L331.0,122.8 L329.3,125.3 L327.6,127.8 L325.9,130.4 L324.2,132.9 L322.5,135.4 L320.8,138.0 L319.2,140.6 L317.5,143.1 L315.9,145.7 L314.3,148.2 L312.6,150.8 L311.1,153.4 L309.5,156.0 L307.9,158.6 L306.3,161.1 L304.8,163.7 L303.2,166.3 L301.7,168.9 L300.2,171.5 L298.7,174.1 L297.2,176.7 L295.7,179.4 L294.2,182.0 L292.8,184.6 L291.3,187.2 L289.8,189.9 L288.4,192.5 L287.0,195.1 L285.6,197.8 L284.2,200.4 L282.8,203.1 L281.4,205.7 L280.0,208.4 L278.6,211.0 L277.2,213.7 L275.9,216.4 L274.5,219.0 L273.2,221.7 L271.9,224.4 L270.5,227.1 L269.2,229.7 L267.9,232.4 L266.6,235.1 L265.3,237.8 L264.0,240.5 L262.8,243.2 L261.5,245.9 L260.2,248.6 L259.0,251.3 L257.7,254.1 L256.5,256.8 L255.2,259.5 L254.0,262.2 L252.8,264.9 L251.6,267.7 L250.4,270.4 L249.2,273.1 L248.0,275.9 L246.8,278.6 L245.6,281.4 L244.4,284.1 L243.2,286.9 L242.0,289.6 L240.9,292.4 L239.7,295.2 L238.5,297.9 L237.4,300.7 L236.2,303.5 L235.1,306.2 L234.0,309.0 L232.8,311.8 L231.7,314.6 L230.5,317.4 L229.4,320.1 L228.3,322.9 L227.2,325.7 L226.1,328.5 L224.9,331.3 L223.8,334.1 L222.7,336.9 L221.6,339.7 L220.5,342.6 L219.4,345.4 L218.3,348.2 L217.2,351.0 L216.1,353.8 L215.1,356.6 L214.0,359.5 L212.9,362.3 L211.8,365.1 L210.7,368.0 L209.6,370.8 L208.6,373.6 L207.5,376.5 L206.4,379.3 L205.4,382.1 L204.3,385.0 L203.2,387.8 L202.2,390.6 L201.1,393.5 L200.0,396.3 L199.0,399.2 L197.9,402.0 L196.9,404.8 L195.8,407.7 L194.8,410.5 L193.7,413.4 L192.7,416.2 L191.6,419.0 L190.6,421.9 L189.5,424.7 L188.5,427.5 L187.5,430.4 L186.4,433.2 L185.4,436.0 L184.4,438.9 L183.3,441.7 L182.3,444.5 L181.3,447.4 L180.2,450.2 L179.2,453.0 L178.2,455.8 L177.1,458.6 L176.1,461.4 L175.1,464.3 L174.1,467.1 L173.1,469.9 L172.0,472.7 L171.0,475.5 L170.0,478.3 L169.0,481.1 L168.0,483.9 L166.9,486.7 L165.9,489.4 L164.9,492.2 L163.9,495.0 L162.9,497.8 L161.9,500.5 L160.8,503.3 L159.8,506.1 L158.8,509.0 L157.8,511.8 L156.7,514.7 L155.7,517.7 L154.7,520.7 L153.6,523.8 L152.6,527.0 L151.6,530.2 L150.8,533.3 L150.3,536.3 L150.1,539.2 L150.2,541.9 L150.8,544.2 L151.9,546.2 L153.6,547.7 L155.7,548.8 L158.3,549.6 L161.2,550.1 L164.3,550.3 L167.5,550.5 L170.8,550.6 L174.0,550.6 L177.3,550.7 L180.4,550.7 L183.6,550.7 L186.7,550.7 L189.9,550.7 L193.0,550.7 L196.0,550.7 L199.1,550.6 L202.2,550.5 L205.2,550.4 L208.2,550.3 L211.2,550.2 L214.2,550.1 L217.2,550.0 L220.1,549.8 L223.1,549.6 L226.0,549.4 L228.9,549.3 L231.9,549.1 L234.8,548.8 L237.7,548.6 L240.6,548.4 L243.5,548.1 L246.5,547.9 L249.4,547.6 L252.3,547.3 L255.2,547.0 L258.1,546.7 L261.0,546.4 L263.9,546.1 L266.9,545.7 L269.8,545.4 L272.7,545.0 L275.7,544.7 L278.7,544.3 L281.6,543.9 L284.6,543.5 L287.6,543.2 L290.6,542.7 L293.6,542.3 L296.6,541.9 L299.6,541.4 L302.6,541.0 L305.6,540.5 L308.6,540.0 L311.6,539.5 L314.6,539.0 L317.6,538.4 L320.6,537.9 L323.6,537.3 L326.6,536.7 L329.6,536.1 L332.6,535.5 L335.6,534.8 L338.6,534.1 L341.6,533.4 L344.6,532.7 L347.6,532.0 L350.5,531.2 L353.5,530.4 L356.4,529.6 L359.3,528.8 L362.3,527.9 L365.2,527.0 L368.1,526.1 L371.0,525.1 L373.9,524.1 L376.7,523.1 L379.6,522.1 L382.4,521.0 L385.2,519.9 L388.0,518.8 L390.8,517.6 L393.5,516.4 L396.3,515.2 L399.0,513.9 L401.7,512.6 L404.4,511.3 L407.1,509.9 L409.7,508.5 L412.3,507.0 L414.9,505.6 L417.5,504.0 L420.0,502.5 L422.5,500.9 L425.0,499.2 L427.5,497.5 L429.9,495.8 L432.3,494.0 L434.7,492.2 L437.0,490.4 L439.4,488.5 L441.7,486.6 L443.9,484.6 L446.2,482.6 L448.4,480.6 L450.5,478.6 L452.7,476.5 L454.8,474.4 L456.9,472.2 L458.9,470.0 L460.9,467.8 L462.9,465.6 L464.9,463.3 L466.8,461.0 L468.7,458.7 L470.5,456.3 L472.3,453.9 L474.1,451.5 L475.9,449.1 L477.6,446.6 L479.3,444.2 L480.9,441.7 L482.5,439.1 L484.1,436.6 L485.6,434.0 L487.1,431.4 L488.6,428.8 L490.0,426.2 L491.4,423.6 L492.7,420.9 L494.0,418.2 L495.3,415.5 L496.5,412.8 L497.7,410.1 L498.8,407.3 L499.9,404.6 L501.0,401.8 L502.0,399.0 L503.0,396.2 L504.0,393.4 L504.9,390.6 L505.8,387.8 L506.7,384.9 L507.5,382.0 L508.3,379.2 L509.0,376.3 L509.7,373.4 L510.4,370.5 L511.1,367.6 L511.7,364.6 L512.3,361.7 L512.8,358.8 L513.3,355.8 L513.8,352.8 L514.3,349.9 L514.7,346.9 L515.1,343.9 L515.5,340.9 L515.8,337.9 L516.2,334.9 L516.5,331.9 L516.7,328.9 L516.9,325.8 L517.2,322.8 L517.3,319.8 L517.5,316.7 L517.6,313.7 L517.7,310.6 L517.8,307.6 L517.9,304.5 L517.9,301.5 L517.9,298.4 L517.9,295.3 L517.9,292.3 L517.8,289.2 L517.7,286.1 L517.6,283.0 L517.5,280.0 L517.4,276.9 L517.2,273.8 L517.1,270.8 L516.9,267.7 L516.6,264.6 L516.4,261.6 L516.2,258.5 L515.9,255.4 L515.6,252.4 L515.3,249.3 L515.0,246.2 L514.7,243.2 L514.3,240.1 L514.0,237.1 L513.6,234.1 L513.2,231.0 L512.8,228.0 L512.4,225.0 L511.9,221.9 L511.5,218.9 L511.0,215.9 L510.6,212.9 L510.1,209.9 L509.6,206.9 L509.1,204.0 L508.6,201.0 L508.1,198.0 L507.6,195.1 L507.0,192.1 L506.4,189.2 L505.8,186.3 L505.2,183.3 L504.6,180.4 L504.0,177.5 L503.3,174.7 L502.6,171.8 L501.9,168.9 L501.1,166.1 L500.4,163.2 L499.6,160.4 L498.8,157.6 L497.9,154.8 L497.0,152.0 L496.1,149.2 L495.2,146.4 L494.2,143.7 L493.2,140.9 L492.1,138.2 L491.0,135.5 L489.9,132.8 L488.7,130.1 L487.5,127.5 L486.3,124.8 L485.0,122.2 L483.7,119.5 L482.3,116.9 L480.9,114.4 L479.5,111.8 L478.0,109.2 L476.4,106.7 L474.8,104.2 L473.2,101.7 L471.5,99.2 L469.7,96.7 L467.9,94.3 L466.0,91.9 L464.1,89.5 L462.2,87.1 L460.1,84.7 L458.0,82.4 L455.9,80.1 L453.7,77.8 L451.4,75.6 L449.1,73.4 L446.8,71.3 L444.3,69.3 L441.8,67.5 L439.3,65.7 L436.7,64.1 L434.1,62.7 L431.4,61.4 L428.6,60.3 L425.8,59.5 L423.0,58.8 L420.0,58.3 L417.1,58.1 L414.1,58.2 M340.9,219.1 L338.0,219.1 L335.1,219.2 L332.2,219.6 L329.4,220.2 L326.6,220.9 L323.8,221.8 L321.1,222.9 L318.4,224.1 L315.7,225.5 L313.1,227.0 L310.5,228.6 L307.9,230.3 L305.4,232.1 L303.0,234.1 L300.6,236.1 L298.2,238.2 L295.9,240.3 L293.6,242.5 L291.4,244.8 L289.2,247.1 L287.1,249.4 L285.0,251.8 L283.0,254.2 L281.1,256.5 L279.2,258.9 L277.3,261.3 L275.5,263.8 L273.8,266.2 L272.1,268.6 L270.4,271.1 L268.8,273.5 L267.1,276.0 L265.6,278.5 L264.0,281.0 L262.5,283.5 L261.0,286.0 L259.5,288.5 L258.0,291.1 L256.6,293.6 L255.1,296.2 L253.7,298.8 L252.3,301.3 L250.8,303.9 L249.4,306.5 L248.0,309.1 L246.5,311.8 L245.1,314.4 L243.7,317.0 L242.3,319.7 L240.8,322.3 L239.4,325.0 L238.0,327.7 L236.6,330.4 L235.2,333.1 L233.8,335.8 L232.3,338.5 L230.9,341.2 L229.5,343.9 L228.1,346.6 L226.8,349.3 L225.4,352.1 L224.0,354.8 L222.6,357.6 L221.2,360.3 L219.9,363.1 L218.5,365.8 L217.1,368.6 L215.8,371.3 L214.5,374.1 L213.1,376.9 L211.8,379.6 L210.5,382.4 L209.2,385.2 L207.9,388.0 L206.6,390.7 L205.3,393.5 L204.0,396.3 L202.7,399.1 L201.5,401.9 L200.2,404.7 L199.0,407.4 L197.8,410.2 L196.6,413.0 L195.4,415.8 L194.2,418.5 L193.0,421.3 L191.8,424.1 L190.7,426.9 L189.5,429.6 L188.4,432.4 L187.3,435.1 L186.2,437.9 L185.1,440.7 L184.0,443.4 L182.9,446.1 L181.9,448.9 L180.9,451.6 L179.8,454.3 L178.8,457.1 L177.8,459.8 L176.9,462.5 L175.9,465.2 L174.9,467.9 L174.0,470.6 L173.0,473.4 L172.0,476.1 L171.0,478.9 L170.0,481.7 L169.0,484.5 L167.9,487.3 L166.8,490.2 L165.6,493.1 L164.3,496.1 L163.1,499.1 L161.8,502.2 L160.4,505.3 L159.1,508.4 L157.9,511.5 L156.6,514.6 L155.5,517.6 L154.5,520.7 L153.5,523.7 L152.8,526.6 L152.2,529.5 L151.7,532.3 L151.5,535.1 L151.6,537.7 L151.9,540.2 L152.5,542.4 L153.6,544.4 L155.1,546.0 L157.1,547.3 L159.5,548.2 L162.2,548.9 L165.0,549.5 L168.0,549.9 L171.1,550.2 L174.1,550.4 L177.1,550.6 L180.1,550.7 L183.2,550.8 L186.2,550.8 L189.2,550.8 L192.2,550.7 L195.3,550.6 L198.3,550.5 L201.3,550.3 L204.4,550.1 L207.4,549.8 L210.4,549.5 L213.4,549.2 L216.5,548.8 L219.5,548.5 L222.5,548.1 L225.6,547.7 L228.6,547.2 L231.6,546.8 L234.7,546.3 L237.7,545.9 L240.8,545.4 L243.8,544.9 L246.8,544.4 L249.9,543.9 L252.9,543.4 L255.9,542.9 L258.9,542.3 L262.0,541.8 L265.0,541.2 L268.0,540.6 L271.0,540.0 L274.0,539.3 L276.9,538.7 L279.9,538.0 L282.8,537.2 L285.8,536.5 L288.7,535.7 L291.6,534.9 L294.5,534.0 L297.4,533.2 L300.3,532.2 L303.1,531.3 L305.9,530.3 L308.7,529.2 L311.5,528.1 L314.3,527.0 L317.0,525.8 L319.7,524.6 L322.4,523.3 L325.1,522.0 L327.7,520.6 L330.3,519.1 L332.9,517.6 L335.4,516.0 L337.9,514.4 L340.4,512.8 L342.9,511.0 L345.3,509.3 L347.7,507.4 L350.1,505.6 L352.4,503.6 L354.7,501.7 L356.9,499.7 L359.1,497.6 L361.3,495.5 L363.4,493.3 L365.5,491.2 L367.6,488.9 L369.6,486.7 L371.6,484.4 L373.5,482.0 L375.4,479.6 L377.2,477.2 L379.0,474.8 L380.8,472.3 L382.5,469.8 L384.2,467.3 L385.8,464.7 L387.3,462.1 L388.9,459.5 L390.3,456.8 L391.7,454.2 L393.1,451.5 L394.4,448.8 L395.7,446.0 L396.9,443.3 L398.0,440.5 L399.1,437.7 L400.2,434.9 L401.2,432.1 L402.1,429.3 L403.0,426.4 L403.8,423.6 L404.6,420.7 L405.4,417.8 L406.0,414.9 L406.7,412.0 L407.3,409.1 L407.8,406.2 L408.3,403.2 L408.7,400.3 L409.2,397.3 L409.5,394.3 L409.8,391.3 L410.1,388.3 L410.4,385.3 L410.6,382.3 L410.7,379.3 L410.8,376.3 L410.9,373.3 L411.0,370.3 L411.0,367.2 L410.9,364.2 L410.9,361.1 L410.8,358.1 L410.7,355.1 L410.5,352.0 L410.3,349.0 L410.1,345.9 L409.8,342.8 L409.6,339.8 L409.2,336.7 L408.9,333.7 L408.6,330.6 L408.2,327.6 L407.8,324.5 L407.3,321.5 L406.9,318.5 L406.4,315.4 L405.9,312.4 L405.3,309.4 L404.8,306.3 L404.2,303.3 L403.7,300.3 L403.1,297.3 L402.4,294.3 L401.8,291.3 L401.2,288.3 L400.5,285.3 L399.8,282.4 L399.1,279.4 L398.3,276.5 L397.5,273.6 L396.7,270.7 L395.8,267.9 L394.9,265.1 L393.8,262.3 L392.8,259.6 L391.6,256.9 L390.3,254.3 L389.0,251.7 L387.6,249.2 L386.0,246.7 L384.4,244.3 L382.6,242.0 L380.7,239.7 L378.7,237.5 L376.6,235.4 L374.3,233.4 L371.9,231.4 L369.4,229.6 L366.8,227.9 L364.1,226.3 L361.3,224.8 L358.5,223.5 L355.6,222.3 L352.7,221.3 L349.8,220.5 L346.8,219.8 L343.9,219.4 L340.9,219.1Z M294.0,312.9 L291.2,313.0 L288.4,313.5 L285.6,314.2 L282.8,315.2 L280.1,316.4 L277.4,317.9 L274.7,319.5 L272.1,321.3 L269.5,323.1 L267.0,325.1 L264.6,327.1 L262.2,329.2 L259.9,331.3 L257.7,333.4 L255.5,335.5 L253.4,337.7 L251.3,339.9 L249.3,342.2 L247.3,344.5 L245.4,346.8 L243.5,349.1 L241.6,351.4 L239.8,353.8 L238.0,356.2 L236.3,358.6 L234.5,361.1 L232.8,363.5 L231.1,366.0 L229.5,368.4 L227.8,370.9 L226.2,373.4 L224.5,375.9 L222.9,378.5 L221.3,381.0 L219.8,383.5 L218.2,386.1 L216.6,388.7 L215.1,391.3 L213.6,393.8 L212.1,396.4 L210.6,399.0 L209.1,401.7 L207.6,404.3 L206.1,406.9 L204.7,409.6 L203.3,412.2 L201.8,414.9 L200.4,417.6 L199.0,420.2 L197.6,422.9 L196.3,425.6 L194.9,428.3 L193.6,431.0 L192.2,433.7 L190.9,436.5 L189.6,439.2 L188.3,441.9 L187.0,444.7 L185.7,447.4 L184.5,450.1 L183.2,452.9 L182.0,455.7 L180.8,458.4 L179.5,461.2 L178.3,464.0 L177.1,466.7 L176.0,469.5 L174.8,472.3 L173.6,475.1 L172.5,477.9 L171.3,480.6 L170.2,483.4 L169.1,486.2 L167.9,489.0 L166.8,491.8 L165.8,494.6 L164.7,497.4 L163.6,500.2 L162.5,503.0 L161.5,505.9 L160.4,508.7 L159.4,511.6 L158.3,514.6 L157.3,517.5 L156.3,520.6 L155.2,523.7 L154.2,526.8 L153.3,529.9 L152.6,533.0 L152.2,535.9 L152.1,538.6 L152.6,541.0 L153.6,543.0 L155.1,544.7 L157.2,546.0 L159.6,547.1 L162.2,547.9 L164.8,548.6 L167.5,549.1 L170.2,549.5 L173.0,549.8 L175.9,550.0 L178.8,550.0 L181.7,550.0 L184.7,549.8 L187.7,549.6 L190.7,549.3 L193.8,548.9 L196.9,548.5 L199.9,548.1 L203.0,547.6 L206.1,547.1 L209.2,546.6 L212.3,546.0 L215.4,545.4 L218.5,544.7 L221.6,544.0 L224.6,543.3 L227.7,542.6 L230.8,541.8 L233.8,540.9 L236.8,540.1 L239.9,539.2 L242.9,538.2 L245.9,537.2 L248.8,536.2 L251.8,535.1 L254.7,534.0 L257.6,532.9 L260.5,531.7 L263.4,530.5 L266.2,529.2 L269.0,527.9 L271.8,526.6 L274.5,525.2 L277.2,523.8 L279.9,522.3 L282.5,520.8 L285.2,519.3 L287.7,517.7 L290.2,516.1 L292.7,514.4 L295.2,512.7 L297.5,510.9 L299.9,509.1 L302.2,507.2 L304.4,505.4 L306.6,503.4 L308.8,501.4 L310.9,499.4 L312.9,497.3 L314.9,495.2 L316.8,493.0 L318.6,490.8 L320.4,488.6 L322.2,486.3 L323.8,483.9 L325.4,481.5 L327.0,479.0 L328.4,476.5 L329.8,474.0 L331.1,471.4 L332.4,468.8 L333.6,466.1 L334.7,463.3 L335.7,460.6 L336.6,457.7 L337.5,454.9 L338.4,452.0 L339.1,449.1 L339.8,446.1 L340.4,443.1 L341.0,440.1 L341.5,437.1 L342.0,434.0 L342.3,430.9 L342.7,427.8 L342.9,424.7 L343.2,421.6 L343.3,418.5 L343.4,415.4 L343.5,412.2 L343.5,409.1 L343.5,405.9 L343.4,402.8 L343.3,399.7 L343.1,396.5 L342.9,393.4 L342.6,390.3 L342.3,387.2 L342.0,384.1 L341.6,381.1 L341.2,378.1 L340.7,375.1 L340.2,372.1 L339.7,369.1 L339.1,366.2 L338.5,363.3 L337.8,360.4 L337.1,357.6 L336.3,354.8 L335.4,352.1 L334.4,349.4 L333.3,346.7 L332.2,344.1 L330.9,341.5 L329.5,338.9 L327.9,336.4 L326.3,334.0 L324.5,331.6 L322.5,329.3 L320.4,327.0 L318.2,324.8 L315.8,322.7 L313.3,320.7 L310.8,318.9 L308.1,317.2 L305.3,315.8 L302.6,314.7 L299.7,313.8 L296.9,313.2 L294.0,312.9Z M261.4,375.6 L258.5,375.4 L255.7,375.6 L253.0,376.2 L250.3,377.2 L247.6,378.4 L245.0,379.8 L242.5,381.5 L240.0,383.4 L237.6,385.4 L235.2,387.5 L232.9,389.8 L230.6,392.0 L228.4,394.3 L226.3,396.6 L224.2,398.9 L222.1,401.3 L220.2,403.7 L218.2,406.1 L216.3,408.5 L214.4,410.9 L212.6,413.4 L210.9,415.9 L209.1,418.3 L207.4,420.8 L205.7,423.3 L204.1,425.8 L202.5,428.4 L200.9,430.9 L199.3,433.4 L197.8,435.9 L196.2,438.5 L194.7,441.0 L193.3,443.6 L191.8,446.1 L190.3,448.7 L188.9,451.3 L187.5,453.9 L186.1,456.5 L184.7,459.1 L183.3,461.8 L181.9,464.4 L180.6,467.1 L179.2,469.8 L177.9,472.5 L176.5,475.2 L175.2,478.0 L173.8,480.7 L172.5,483.5 L171.1,486.3 L169.8,489.1 L168.4,491.9 L167.1,494.8 L165.7,497.7 L164.3,500.6 L163.0,503.5 L161.7,506.4 L160.4,509.4 L159.2,512.3 L158.1,515.2 L157.1,518.2 L156.2,521.1 L155.4,524.0 L154.8,526.9 L154.3,529.7 L154.0,532.5 L153.9,535.3 L154.0,538.0 L154.5,540.6 L155.3,542.8 L156.6,544.8 L158.4,546.3 L160.5,547.5 L162.8,548.3 L165.4,548.8 L168.1,549.1 L171.0,549.0 L174.1,548.8 L177.3,548.3 L180.5,547.7 L183.9,547.0 L187.2,546.1 L190.6,545.3 L194.0,544.4 L197.3,543.5 L200.6,542.7 L203.8,541.9 L206.9,541.2 L210.0,540.5 L213.0,539.9 L216.0,539.3 L218.9,538.7 L221.7,538.1 L224.6,537.5 L227.4,536.8 L230.1,536.1 L232.9,535.3 L235.6,534.5 L238.4,533.5 L241.1,532.5 L243.9,531.3 L246.6,530.1 L249.3,528.7 L252.0,527.3 L254.7,525.7 L257.3,524.1 L259.9,522.4 L262.5,520.6 L265.0,518.7 L267.4,516.7 L269.7,514.6 L272.0,512.5 L274.1,510.3 L276.2,508.0 L278.2,505.7 L280.0,503.3 L281.8,500.9 L283.4,498.3 L284.9,495.8 L286.3,493.2 L287.6,490.5 L288.9,487.8 L290.0,485.0 L291.0,482.2 L291.9,479.3 L292.8,476.5 L293.5,473.6 L294.2,470.6 L294.7,467.6 L295.2,464.6 L295.7,461.6 L296.0,458.6 L296.3,455.5 L296.5,452.5 L296.6,449.4 L296.7,446.3 L296.7,443.2 L296.7,440.1 L296.5,437.0 L296.4,433.9 L296.2,430.8 L295.9,427.8 L295.6,424.7 L295.2,421.6 L294.8,418.6 L294.3,415.6 L293.7,412.6 L293.0,409.7 L292.1,406.8 L291.2,404.0 L290.1,401.2 L288.9,398.5 L287.5,395.9 L286.0,393.3 L284.3,390.8 L282.3,388.5 L280.2,386.2 L277.9,384.0 L275.4,382.0 L272.7,380.1 L270.0,378.5 L267.1,377.2 L264.2,376.2 L261.4,375.6Z M236.9,421.2 L234.1,421.0 L231.3,421.2 L228.6,421.7 L225.9,422.4 L223.3,423.4 L220.7,424.6 L218.2,426.1 L215.8,427.7 L213.4,429.5 L211.1,431.5 L208.8,433.7 L206.6,436.0 L204.4,438.4 L202.3,440.9 L200.3,443.5 L198.3,446.1 L196.4,448.8 L194.6,451.5 L192.8,454.2 L191.1,456.9 L189.4,459.5 L187.8,462.2 L186.3,464.7 L184.8,467.3 L183.3,469.8 L181.9,472.3 L180.6,474.7 L179.2,477.2 L177.9,479.7 L176.6,482.2 L175.2,484.7 L173.9,487.2 L172.6,489.8 L171.2,492.5 L169.8,495.2 L168.4,497.9 L167.0,500.8 L165.6,503.6 L164.2,506.6 L162.8,509.5 L161.4,512.5 L160.1,515.5 L158.9,518.5 L157.8,521.5 L156.8,524.5 L155.9,527.5 L155.2,530.5 L154.6,533.4 L154.2,536.3 L154.1,539.0 L154.5,541.4 L155.6,543.3 L157.5,544.6 L160.0,545.2 L162.9,545.6 L165.8,545.8 L168.7,545.9 L171.6,545.8 L174.6,545.6 L177.5,545.3 L180.5,544.8 L183.5,544.3 L186.4,543.6 L189.4,542.8 L192.4,542.0 L195.4,541.0 L198.3,540.0 L201.3,538.9 L204.2,537.8 L207.2,536.6 L210.1,535.3 L213.0,534.0 L215.9,532.7 L218.7,531.3 L221.5,529.9 L224.3,528.5 L227.1,527.0 L229.8,525.5 L232.4,524.0 L235.0,522.4 L237.5,520.8 L239.9,519.0 L242.3,517.2 L244.5,515.3 L246.6,513.4 L248.6,511.3 L250.5,509.1 L252.2,506.8 L253.8,504.4 L255.3,501.8 L256.6,499.2 L257.8,496.5 L258.9,493.7 L259.8,490.9 L260.7,488.0 L261.4,485.0 L262.0,482.0 L262.5,478.9 L262.9,475.7 L263.2,472.6 L263.3,469.4 L263.4,466.2 L263.3,463.0 L263.2,459.7 L262.9,456.5 L262.6,453.3 L262.1,450.1 L261.5,447.0 L260.8,443.9 L259.9,440.9 L258.8,438.1 L257.6,435.4 L256.1,432.9 L254.5,430.5 L252.6,428.4 L250.4,426.5 L248.0,424.9 L245.4,423.5 L242.6,422.4 L239.7,421.6 L236.9,421.2Z M219.5,452.2 L216.9,452.0 L214.3,452.4 L211.6,453.1 L208.9,454.2 L206.2,455.6 L203.5,457.3 L200.8,459.3 L198.2,461.4 L195.7,463.7 L193.2,466.1 L190.9,468.5 L188.7,471.0 L186.7,473.4 L184.8,475.8 L183.0,478.1 L181.4,480.5 L179.9,482.8 L178.4,485.1 L176.9,487.4 L175.5,489.8 L174.1,492.2 L172.6,494.7 L171.0,497.3 L169.4,500.0 L167.8,502.7 L166.1,505.5 L164.5,508.4 L162.9,511.3 L161.4,514.3 L159.9,517.2 L158.6,520.2 L157.5,523.2 L156.5,526.1 L155.7,529.1 L155.1,532.0 L154.9,534.8 L154.9,537.5 L155.3,539.9 L156.3,542.0 L157.7,543.6 L159.7,544.8 L162.2,545.5 L164.9,545.9 L167.9,546.0 L171.1,545.8 L174.2,545.4 L177.4,544.8 L180.6,544.1 L183.8,543.2 L187.0,542.2 L190.1,541.2 L193.2,540.0 L196.2,538.9 L199.1,537.7 L202.0,536.4 L204.7,535.1 L207.4,533.7 L210.0,532.2 L212.5,530.7 L215.0,529.1 L217.3,527.4 L219.5,525.5 L221.7,523.6 L223.7,521.6 L225.7,519.5 L227.5,517.2 L229.2,514.8 L230.8,512.3 L232.4,509.6 L233.7,506.9 L235.0,504.0 L236.1,501.0 L237.0,498.0 L237.8,494.9 L238.4,491.8 L238.8,488.6 L239.0,485.5 L239.1,482.3 L238.8,479.2 L238.4,476.0 L237.7,473.0 L236.8,470.0 L235.7,467.0 L234.3,464.3 L232.6,461.6 L230.8,459.2 L228.8,457.1 L226.7,455.3 L224.4,453.8 L222.0,452.8 L219.5,452.2Z M204.2,476.1 L201.6,476.1 L198.9,476.5 L196.2,477.5 L193.5,478.9 L190.9,480.7 L188.4,482.7 L185.9,485.0 L183.5,487.4 L181.3,489.9 L179.2,492.4 L177.4,494.8 L175.6,497.2 L174.0,499.6 L172.4,502.0 L170.9,504.5 L169.4,507.0 L167.8,509.6 L166.1,512.3 L164.4,515.2 L162.6,518.2 L160.9,521.2 L159.3,524.2 L157.8,527.2 L156.7,530.1 L155.8,533.0 L155.4,535.7 L155.3,538.2 L155.8,540.4 L156.7,542.2 L158.1,543.6 L160.1,544.6 L162.4,545.1 L165.1,545.3 L168.1,545.1 L171.2,544.6 L174.5,543.9 L177.8,543.0 L181.2,541.8 L184.4,540.5 L187.5,539.1 L190.4,537.6 L193.1,536.0 L195.6,534.2 L198.0,532.4 L200.3,530.5 L202.4,528.4 L204.4,526.3 L206.3,524.0 L208.1,521.6 L209.9,519.0 L211.5,516.3 L213.1,513.5 L214.6,510.7 L215.9,507.7 L216.9,504.7 L217.7,501.7 L218.3,498.7 L218.5,495.6 L218.3,492.7 L217.7,489.8 L216.7,487.0 L215.3,484.3 L213.6,481.9 L211.5,479.8 L209.2,478.1 L206.8,476.8 L204.2,476.1Z M191.8,495.6 L189.1,495.7 L186.2,496.4 L183.3,497.7 L180.4,499.4 L177.8,501.4 L175.5,503.6 L173.6,506.0 L172.0,508.5 L170.4,511.1 L168.9,513.9 L167.4,516.7 L165.6,519.6 L163.7,522.6 L161.8,525.5 L160.0,528.5 L158.4,531.4 L157.1,534.2 L156.3,536.8 L156.1,539.2 L156.4,541.3 L157.5,542.7 L159.3,543.5 L161.7,543.8 L164.5,543.6 L167.6,543.1 L171.0,542.2 L174.4,541.1 L177.8,539.9 L181.0,538.6 L184.0,537.2 L186.9,535.6 L189.5,533.9 L191.9,532.0 L194.0,529.8 L195.8,527.4 L197.3,524.7 L198.5,521.7 L199.4,518.5 L200.0,515.1 L200.2,511.7 L200.1,508.3 L199.6,505.2 L198.8,502.3 L197.6,499.8 L196.0,497.8 L194.1,496.3 L191.8,495.6Z M181.9,511.9 L180.3,511.5 L178.4,511.8 L176.4,512.5 L174.2,513.7 L172.0,515.2 L169.8,517.0 L167.6,519.0 L165.4,521.1 L163.4,523.3 L161.5,525.4 L159.8,527.6 L158.4,529.8 L157.2,532.0 L156.3,534.1 L155.8,536.1 L155.7,538.1 L156.0,539.9 L156.9,541.2 L158.4,542.0 L160.4,542.2 L162.7,542.1 L165.2,541.6 L167.8,540.8 L170.5,539.9 L173.0,538.8 L175.5,537.6 L177.9,536.1 L180.0,534.4 L181.9,532.6 L183.5,530.5 L184.7,528.3 L185.6,525.9 L186.1,523.3 L186.2,520.8 L186.0,518.4 L185.4,516.2 L184.5,514.3 L183.4,512.8 L181.9,511.9Z" fill="none" stroke="#000" stroke-width="1.35"/>
<path d="M184.5,428C183.9,430 182.7,436.3 181,440C179.3,443.7 176.2,446.7 174.5,450C172.8,453.3 172.8,454.4 171,460C169.2,465.6 165.5,477.6 163.6,483.6C161.7,489.6 161.1,491.3 159.7,495.8C158.3,500.3 156.4,506 155,510.5C153.6,515 152.4,518.6 151.2,523C149.9,527.4 148.6,533 147.5,537C146.4,541 144.9,544.6 144.6,547C144.2,549.4 144.6,550.1 145.4,551.2C146.2,552.3 145.4,553 149.5,553.4C153.6,553.8 154.9,553.7 170,553.7C185.1,553.8 211.7,553.7 240,553.7C268.3,553.7 323.3,553.6 340,553.6 L340,553.1C333.3,553 311.7,552.5 300,552.2C288.3,551.9 280,551.6 270,551.3C260,551 248.3,550.7 240,550.2C231.7,549.7 226.7,549 220,548.4C213.3,547.8 208.3,547 200,546.6C191.7,546.2 176.7,546 170,545.9C163.3,545.8 162.8,545.9 160,545.7C157.2,545.5 154.7,545.7 153.5,544.8C152.3,543.9 152.3,542.6 152.6,540.5C152.9,538.4 154.3,535.4 155.4,532C156.5,528.6 157.7,524.5 159.2,520C160.7,515.5 162.5,510 164.2,505C165.9,500 167.9,495 169.5,490C171.1,485 172.5,480 174,475C175.5,470 177.4,464.2 178.6,460C179.8,455.8 180.3,453.3 181,450C181.7,446.7 182.3,443.7 183,440C183.7,436.3 184.8,430 185.2,428 Z" fill="#000"/>
</g>
<path d="M271.1,68.1 H621.3 V554.5" fill="none" stroke="#000" stroke-width="1.35"/>
<rect x="120.6" y="58.2" width="511.6" height="509.4" fill="none" stroke="#000" stroke-width="2.2"/>
<path d="M131,567.6 v-7 M131,58.2 v7 M229.2,567.6 v-7 M229.2,58.2 v7 M327.3,567.6 v-7 M327.3,58.2 v7 M425.4,567.6 v-7 M425.4,58.2 v7 M523.6,567.6 v-7 M523.6,58.2 v7 M621.8,567.6 v-7 M621.8,58.2 v7 M120.6,556.5 h7 M632.2,556.5 h-7 M120.6,458.9 h7 M632.2,458.9 h-7 M120.6,361.2 h7 M632.2,361.2 h-7 M120.6,263.6 h7 M632.2,263.6 h-7 M120.6,165.9 h7 M632.2,165.9 h-7 M120.6,68.3 h7 M632.2,68.3 h-7" stroke="#000" stroke-width="1.6" fill="none"/>
<text x="27.9" y="76.1" font-size="40" textLength="84.9" lengthAdjust="spacingAndGlyphs">1000</text>
<text x="48.2" y="173.8" font-size="40" textLength="66.3" lengthAdjust="spacingAndGlyphs">800</text>
<text x="48.2" y="271.8" font-size="40" textLength="66.3" lengthAdjust="spacingAndGlyphs">600</text>
<text x="48.4" y="368.9" font-size="40" textLength="65.3" lengthAdjust="spacingAndGlyphs">400</text>
<text x="48.3" y="467.5" font-size="40" textLength="65.9" lengthAdjust="spacingAndGlyphs">200</text>
<text x="66.1" y="565" font-size="40" textLength="21.7" lengthAdjust="spacingAndGlyphs">0</text>
<text x="118.8" y="602.4" font-size="40" textLength="22.4" lengthAdjust="spacingAndGlyphs">0</text>
<text x="196.5" y="602.4" font-size="40" textLength="64" lengthAdjust="spacingAndGlyphs">100</text>
<text x="292.7" y="602.4" font-size="40" textLength="65.6" lengthAdjust="spacingAndGlyphs">200</text>
<text x="391.4" y="602.4" font-size="40" textLength="65.6" lengthAdjust="spacingAndGlyphs">300</text>
<text x="490" y="602.4" font-size="40" textLength="65" lengthAdjust="spacingAndGlyphs">400</text>
<text x="587.9" y="602.4" font-size="40" textLength="65.6" lengthAdjust="spacingAndGlyphs">500</text>
<text x="248.3" y="651.7" font-size="39.5" textLength="271.5" lengthAdjust="spacingAndGlyphs">Detuning (MHz)</text>
<text transform="translate(33.8,394.7) rotate(-90)" font-size="40" textLength="232.3" lengthAdjust="spacingAndGlyphs">Optical Depth</text>
<text x="121.8" y="32.8" font-size="39.5" fill="#3a3a3a" textLength="35.8" lengthAdjust="spacingAndGlyphs">a)</text>
<text x="198.1" y="34.7" font-size="41.5" textLength="355.4" lengthAdjust="spacingAndGlyphs">EIT efficiency boost</text>
<rect x="664.9" y="438.2" width="22.8" height="24.8" fill="#E9EBF6"/>
<rect x="664.9" y="413.6" width="22.8" height="24.8" fill="#C6C9E8"/>
<rect x="664.9" y="389.1" width="22.8" height="24.8" fill="#B9BDDE"/>
<rect x="664.9" y="364.6" width="22.8" height="24.8" fill="#BBBAC1"/>
<rect x="664.9" y="340" width="22.8" height="24.8" fill="#C6C1A3"/>
<rect x="664.9" y="315.5" width="22.8" height="24.8" fill="#D1C486"/>
<rect x="664.9" y="291" width="22.8" height="24.8" fill="#DCC66D"/>
<rect x="664.9" y="266.4" width="22.8" height="24.8" fill="#E2C259"/>
<rect x="664.9" y="241.9" width="22.8" height="24.8" fill="#E3B64F"/>
<rect x="664.9" y="217.4" width="22.8" height="24.8" fill="#E1A84D"/>
<rect x="664.9" y="192.8" width="22.8" height="24.8" fill="#DF9749"/>
<rect x="664.9" y="168.3" width="22.8" height="24.8" fill="#DB8844"/>
<rect x="664.9" y="168.3" width="22.8" height="294.4" fill="none" stroke="#000" stroke-width="1.5"/>
<text x="701" y="179.9" font-size="35.5" textLength="37.6" lengthAdjust="spacingAndGlyphs">15</text>
<text x="701" y="275.1" font-size="35.5" textLength="37.6" lengthAdjust="spacingAndGlyphs">10</text>
<text x="709.2" y="374.4" font-size="35.5" textLength="20.4" lengthAdjust="spacingAndGlyphs">5</text>
<text x="710.2" y="472.6" font-size="35.5" textLength="19.1" lengthAdjust="spacingAndGlyphs">0</text>
<path d="M687.7,168.3 h7 M687.7,266.4 h7 M687.7,364.6 h7 M687.7,462.7 h7" stroke="#000" stroke-width="1.5"/>
<text x="641.7" y="134.6" font-size="42" font-style="italic" >G</text>
<text x="674.2" y="131.5" font-size="37" font-style="italic" >*</text>
<text x="689" y="135" font-size="32" >10</text>
<text x="723" y="124.2" font-size="17" >2</text>
<clipPath id="bclip"><rect x="859.5" y="58" width="553" height="507"/></clipPath>
<g clip-path="url(#bclip)" fill="none" stroke-linejoin="round">
<path d="M858.6,561.5C859.2,560 860.1,558 862.4,552.3C864.7,546.6 869.4,534.8 872.3,527.5C875.2,520.2 877.2,514.4 879.7,508.4C882.2,502.4 884.4,497.3 887.1,491.5C889.8,485.7 892.9,479.9 895.8,473.8C898.7,467.7 901.3,461.3 904.4,455C907.5,448.7 911,442.6 914.3,436.2C917.6,429.8 921.3,422.8 924.2,416.9C927.1,411 928.7,406.7 931.6,400.6C934.5,394.5 938.2,386.7 941.5,380.4C944.8,374.1 947.7,368.8 951.4,362.6C955.1,356.5 959.6,349.3 963.7,343.5C967.8,337.7 971.6,333.3 976.1,328C980.6,322.7 986,316.8 990.9,311.9C995.8,306.9 1000.4,302.8 1005.8,298.3C1011.2,293.8 1017.3,289.2 1023.1,284.7C1028.9,280.2 1034.2,275.7 1040.4,271.1C1046.6,266.5 1053.9,261.4 1060.1,257.3C1066.3,253.2 1071.2,249.8 1077.4,246.4C1083.6,243.1 1090.6,240.1 1097.2,237.2C1103.8,234.3 1111.1,231.3 1117,229.1C1122.9,226.9 1122.9,227 1132.4,223.9C1141.9,220.8 1160,214.2 1173.8,210.4C1187.6,206.6 1201.4,204 1215.2,201.1C1229,198.2 1242.8,195.3 1256.6,192.8C1270.4,190.3 1284.2,188.1 1298,186C1311.8,183.9 1322.6,182.3 1339.4,180.4C1356.2,178.5 1388.9,175.6 1398.8,174.6" stroke="#000" stroke-width="5.8" stroke-dasharray="12,9"/>
<path d="M858.6,463.5C861.1,456.6 869.1,432.9 873.5,421.9C877.9,410.8 881.4,404.2 884.7,397.2C888,390.2 889.8,385.7 893.3,379.9C896.8,374.1 901.8,368.4 905.7,362.6C909.6,356.8 912.9,351.1 916.8,345.3C920.7,339.5 924.6,333.4 929.1,328C933.6,322.6 939,317.6 944,313.1C949,308.6 953.4,305.1 958.8,300.8C964.1,296.5 970.3,290.9 976.1,287.2C981.9,283.5 987.2,281.8 993.4,278.5C999.6,275.2 1006.6,270.7 1013.2,267.4C1019.8,264.1 1026,261.4 1033,258.7C1040,256 1048.2,253.7 1055.2,251.3C1062.2,248.9 1068.4,246.5 1075,244.5C1081.6,242.5 1087.7,241.2 1094.7,239.5C1101.7,237.8 1110,235.8 1117,234.2C1124,232.6 1126.4,232 1136.6,230.1C1146.8,228.2 1164.2,225.1 1178,222.8C1191.8,220.6 1205.3,218.4 1219.4,216.6C1233.5,214.8 1248.3,213.5 1262.8,212.1C1277.3,210.7 1292.1,209.5 1306.3,208.3C1320.5,207.2 1332.3,206.2 1347.7,205.2C1363.1,204.2 1390.3,202.7 1398.8,202.2" stroke="#ED1C24" stroke-width="5.6" stroke-dasharray="12,9"/>
<path d="M858.9,228.8 L890.4,172 L921.8,143.9 L953.3,129.1 L984.7,117.7 L1018.1,111.4 L1051.5,107.5 L1090.8,104.6 L1120,103.2 L1202.8,100.3 L1285.6,100.7 L1398.8,101.8" stroke="#000" stroke-width="5.8"/>
<path d="M858.9,158.2 L890.4,139.9 L921.8,130.1 L957.2,126.8 L988.6,126.8 L1031.9,128.5 L1071.2,130.5 L1120,132.8 L1202.8,136.9 L1285.6,141.1 L1398.8,145.4" stroke="#ED1C24" stroke-width="5.6"/>
</g>
<rect x="858.5" y="57.6" width="554.6" height="508.1" fill="none" stroke="#231F20" stroke-width="2.6"/>
<path d="M859.9,73.8 h6 M859.9,196.4 h6 M859.9,318.9 h6 M859.9,441.5 h6 M890.4,565.6 v-10.5 M1017.5,565.6 v-10.5 M1144.6,565.6 v-10.5 M1271.7,565.6 v-10.5 M1398.8,565.6 v-10.5" stroke="#231F20" stroke-width="1.6"/>
<text x="804.1" y="86.1" font-size="38" fill="#231F20" textLength="49.3" lengthAdjust="spacingAndGlyphs">1.0</text>
<text x="804" y="205.1" font-size="38" fill="#231F20" textLength="50.3" lengthAdjust="spacingAndGlyphs">0.8</text>
<text x="803.6" y="330.8" font-size="38" fill="#231F20" textLength="50.7" lengthAdjust="spacingAndGlyphs">0.6</text>
<text x="804.1" y="454.5" font-size="38" fill="#231F20" textLength="48.7" lengthAdjust="spacingAndGlyphs">0.4</text>
<text x="804" y="574" font-size="38" fill="#231F20" textLength="50.2" lengthAdjust="spacingAndGlyphs">0.2</text>
<text x="850.9" y="608.3" font-size="37" fill="#231F20" textLength="63.5" lengthAdjust="spacingAndGlyphs">100</text>
<text x="976.2" y="608.3" font-size="37" fill="#231F20" textLength="65.4" lengthAdjust="spacingAndGlyphs">200</text>
<text x="1105.3" y="608.3" font-size="37" fill="#231F20" textLength="63.3" lengthAdjust="spacingAndGlyphs">300</text>
<text x="1230.3" y="608.3" font-size="37" fill="#231F20" textLength="65.4" lengthAdjust="spacingAndGlyphs">400</text>
<text x="1357.2" y="608.3" font-size="37" fill="#231F20" textLength="65.7" lengthAdjust="spacingAndGlyphs">500</text>
<text x="981.4" y="647.2" font-size="37.5" fill="#231F20" textLength="262.6" lengthAdjust="spacingAndGlyphs">Detuning (MHz)</text>
<text transform="translate(790.5,458) rotate(-90)" font-size="37.5" fill="#231F20" textLength="282.1" lengthAdjust="spacingAndGlyphs">Maximal efficiency</text>
<text x="727.4" y="36.2" font-size="41" fill="#231F20" textLength="37.2" lengthAdjust="spacingAndGlyphs">b)</text>
<text x="767.5" y="36.2" font-size="41" fill="#231F20" textLength="659.8" lengthAdjust="spacingAndGlyphs">Maximal GEM efficiency, simulations</text>
<path d="M1228.4,390.6 h29.5" stroke="#ED1C24" stroke-width="6.2"/>
<path d="M1228.4,434.2 h29.5" stroke="#000" stroke-width="6.2"/>
<text x="1275.8" y="403.6" font-size="38.5" font-style="italic" fill="#231F20" textLength="21.5" lengthAdjust="spacingAndGlyphs">d</text>
<text x="1305.8" y="403.6" font-size="38.5" fill="#231F20" textLength="93.8" lengthAdjust="spacingAndGlyphs">= 400</text>
<text x="1275.1" y="447.1" font-size="38.5" font-style="italic" fill="#231F20" textLength="21.5" lengthAdjust="spacingAndGlyphs">d</text>
<text x="1305.1" y="447.1" font-size="38.5" fill="#231F20" textLength="104.1" lengthAdjust="spacingAndGlyphs">=1000</text>
<clipPath id="clip118"><rect x="117.6" y="743.4" width="613.9" height="463.8"/></clipPath>
<g clip-path="url(#clip118)">
<path d="M112.6,1204.2 L115.7,1204.2 L118.8,1204.2 L122,1204.2 L125.1,1204.1 L128.2,1204.1 L131.3,1204.1 L134.4,1204 L137.6,1203.9 L140.7,1203.9 L143.8,1203.7 L146.9,1203.5 L150,1203.3 L153.2,1203 L156.3,1202.6 L159.4,1202.1 L162.5,1201.4 L165.6,1200.5 L168.8,1199.5 L171.9,1198.1 L175,1196.4 L178.1,1194.3 L181.2,1191.7 L184.3,1188.6 L187.5,1184.9 L190.6,1180.4 L193.7,1175.1 L196.8,1168.8 L199.9,1161.6 L203.1,1153.2 L206.2,1143.7 L209.3,1132.8 L212.4,1120.7 L215.5,1107.1 L218.7,1092.2 L221.8,1075.9 L224.9,1058.3 L228,1039.5 L231.1,1019.5 L234.3,998.6 L237.4,976.9 L240.5,954.7 L243.6,932.2 L246.7,909.7 L249.9,887.6 L253,866.1 L256.1,845.6 L259.2,826.5 L262.3,809 L265.5,793.4 L268.6,780 L271.7,769.1 L274.8,760.6 L277.9,754.9 L281.1,751.8 L284.2,751.4 L287.3,754.1 L290.4,759.8 L293.5,768.1 L296.7,778.7 L299.8,791.4 L302.9,805.9 L306,821.9 L309.1,839.2 L312.2,857.5 L315.4,876.6 L318.5,896.2 L321.6,916.1 L324.7,936 L327.8,955.7 L331,975.1 L334.1,994 L337.2,1012.3 L340.3,1029.8 L343.4,1046.4 L346.6,1062.1 L349.7,1076.9 L352.8,1090.6 L355.9,1103.4 L359,1115.1 L362.2,1125.8 L365.3,1135.5 L368.4,1144.3 L371.5,1152.2 L374.6,1159.2 L377.8,1165.5 L380.9,1171 L384,1175.9 L387.1,1180.2 L390.2,1183.9 L393.4,1187.1 L396.5,1189.9 L399.6,1192.2 L402.7,1194.3 L405.8,1196 L409,1197.4 L412.1,1198.6 L415.2,1199.7 L418.3,1200.5 L421.4,1201.2 L424.5,1201.8 L427.7,1202.3 L430.8,1202.6 L433.9,1203 L437,1203.2 L440.1,1203.4 L443.3,1203.6 L446.4,1203.7 L449.5,1203.8 L452.6,1203.9 L455.7,1204 L458.9,1204 L462,1204.1 L465.1,1204.1 L468.2,1204.1 L471.3,1204.1 L474.5,1204.2 L477.6,1204.2 L480.7,1204.2 L483.8,1204.2 L486.9,1204.2 L490.1,1204.2 L493.2,1204.2 L496.3,1204.2 L499.4,1204.2 L502.5,1204.2 L505.7,1204.2 L508.8,1204.2 L511.9,1204.2 L515,1204.2 L518.1,1204.2 L521.3,1204.2 L524.4,1204.2 L527.5,1204.2 L530.6,1204.2 L533.7,1204.2 L536.9,1204.2 L540,1204.2 L543.1,1204.2 L546.2,1204.2 L549.3,1204.2 L552.4,1204.2 L555.6,1204.2 L558.7,1204.2 L561.8,1204.2 L564.9,1204.2 L568,1204.2 L571.2,1204.2 L574.3,1204.2 L577.4,1204.2 L580.5,1204.2 L583.6,1204.2 L586.8,1204.2 L589.9,1204.2 L593,1204.2 L596.1,1204.2 L599.2,1204.2 L602.4,1204.2 L605.5,1204.2 L608.6,1204.2 L611.7,1204.2 L614.8,1204.2 L618,1204.2 L621.1,1204.2 L624.2,1204.2 L627.3,1204.2 L630.4,1204.2 L633.6,1204.2 L636.7,1204.2 L639.8,1204.2 L642.9,1204.2 L646,1204.2 L649.2,1204.2 L652.3,1204.2 L655.4,1204.2 L658.5,1204.2 L661.6,1204.2 L664.8,1204.2 L667.9,1204.2 L671,1204.2 L674.1,1204.2 L677.2,1204.2 L680.3,1204.2 L683.5,1204.2 L686.6,1204.2 L689.7,1204.2 L692.8,1204.2 L695.9,1204.2 L699.1,1204.2 L702.2,1204.2 L705.3,1204.2 L708.4,1204.2 L711.5,1204.2 L714.7,1204.2 L717.8,1204.2 L720.9,1204.2 L724,1204.2 L727.1,1204.2 L730.3,1204.2 L733.4,1204.2 L736.5,1204.2 L736.5,1209.2 L112.6,1209.2 Z" fill="#BCBEC0"/>
<path d="M112.6,1204.2 L115.7,1204.2 L118.8,1204.2 L122,1204.2 L125.1,1204.2 L128.2,1204.2 L131.3,1204.2 L134.4,1204.2 L137.6,1204.2 L140.7,1204.2 L143.8,1204.2 L146.9,1204.2 L150,1204.2 L153.2,1204.2 L156.3,1204.2 L159.4,1204.2 L162.5,1204.2 L165.6,1204.2 L168.8,1204.2 L171.9,1204.2 L175,1204.2 L178.1,1204.2 L181.2,1204.2 L184.3,1204.2 L187.5,1204.2 L190.6,1204.2 L193.7,1204.2 L196.8,1204.2 L199.9,1204.2 L203.1,1204.2 L206.2,1204.2 L209.3,1204.2 L212.4,1204.2 L215.5,1204.2 L218.7,1204.2 L221.8,1204.2 L224.9,1204.2 L228,1204.2 L231.1,1204.2 L234.3,1204.2 L237.4,1204.2 L240.5,1204.2 L243.6,1204.2 L246.7,1204.2 L249.9,1204.2 L253,1204.2 L256.1,1204.2 L259.2,1204.2 L262.3,1204.2 L265.5,1204.2 L268.6,1204.2 L271.7,1204.2 L274.8,1204.2 L277.9,1204.2 L281.1,1204.2 L284.2,1204.2 L287.3,1204.2 L290.4,1204.2 L293.5,1204.2 L296.7,1204.2 L299.8,1204.2 L302.9,1204.2 L306,1204.2 L309.1,1204.2 L312.2,1204.2 L315.4,1204.2 L318.5,1204.2 L321.6,1204.2 L324.7,1204.2 L327.8,1204.2 L331,1204.2 L334.1,1204.2 L337.2,1204.2 L340.3,1204.2 L343.4,1204.2 L346.6,1204.2 L349.7,1204.2 L352.8,1204.2 L355.9,1204.2 L359,1204.2 L362.2,1204.2 L365.3,1204.2 L368.4,1204.2 L371.5,1204.2 L374.6,1204.2 L377.8,1204.2 L380.9,1204.2 L384,1204.2 L387.1,1204.2 L390.2,1204.2 L393.4,1204.2 L396.5,1204.2 L399.6,1204.2 L402.7,1204.2 L405.8,1204.1 L409,1204.1 L412.1,1204.1 L415.2,1204 L418.3,1204 L421.4,1203.9 L424.5,1203.7 L427.7,1203.5 L430.8,1203.2 L433.9,1202.9 L437,1202.4 L440.1,1201.8 L443.3,1201 L446.4,1200 L449.5,1198.7 L452.6,1197.1 L455.7,1195.1 L458.9,1192.6 L462,1189.7 L465.1,1186.1 L468.2,1181.8 L471.3,1176.8 L474.5,1171 L477.6,1164.3 L480.7,1156.7 L483.8,1148.1 L486.9,1138.5 L490.1,1127.9 L493.2,1116.3 L496.3,1103.7 L499.4,1090.3 L502.5,1076.1 L505.7,1061.2 L508.8,1045.7 L511.9,1029.9 L515,1013.9 L518.1,997.9 L521.3,982 L524.4,966.6 L527.5,951.7 L530.6,937.6 L533.7,924.5 L536.9,912.4 L540,901.5 L543.1,892 L546.2,883.8 L549.3,877 L552.4,871.7 L555.6,867.7 L558.7,864.9 L561.8,863.3 L564.9,862.7 L568,862.7 L571.2,863.8 L574.3,866.1 L577.4,869.7 L580.5,874.6 L583.6,880.8 L586.8,888.1 L589.9,896.7 L593,906.3 L596.1,916.8 L599.2,928.2 L602.4,940.4 L605.5,953.1 L608.6,966.3 L611.7,979.9 L614.8,993.7 L618,1007.5 L621.1,1021.3 L624.2,1034.9 L627.3,1048.3 L630.4,1061.2 L633.6,1073.8 L636.7,1085.8 L639.8,1097.2 L642.9,1108 L646,1118.1 L649.2,1127.5 L652.3,1136.2 L655.4,1144.3 L658.5,1151.6 L661.6,1158.3 L664.8,1164.3 L667.9,1169.7 L671,1174.5 L674.1,1178.8 L677.2,1182.6 L680.3,1185.9 L683.5,1188.8 L686.6,1191.3 L689.7,1193.4 L692.8,1195.2 L695.9,1196.8 L699.1,1198.1 L702.2,1199.2 L705.3,1200.2 L708.4,1200.9 L711.5,1201.6 L714.7,1202.1 L717.8,1202.5 L720.9,1202.9 L724,1203.2 L727.1,1203.4 L730.3,1203.6 L733.4,1203.7 L736.5,1203.8 L736.5,1209.2 L112.6,1209.2 Z" fill="#93A9D9"/>
<path d="M112.6,1204.2 L115.7,1204.2 L118.8,1204.2 L122,1204.2 L125.1,1204.1 L128.2,1204.1 L131.3,1204.1 L134.4,1204 L137.6,1203.9 L140.7,1203.9 L143.8,1203.7 L146.9,1203.5 L150,1203.3 L153.2,1203 L156.3,1202.6 L159.4,1202.1 L162.5,1201.4 L165.6,1200.5 L168.8,1199.5 L171.9,1198.1 L175,1196.4 L178.1,1194.3 L181.2,1191.7 L184.3,1188.6 L187.5,1184.9 L190.6,1180.4 L193.7,1175.1 L196.8,1168.8 L199.9,1161.6 L203.1,1153.2 L206.2,1143.7 L209.3,1132.8 L212.4,1120.7 L215.5,1107.1 L218.7,1092.2 L221.8,1075.9 L224.9,1058.3 L228,1039.5 L231.1,1019.5 L234.3,998.6 L237.4,976.9 L240.5,954.7 L243.6,932.2 L246.7,909.7 L249.9,887.6 L253,866.1 L256.1,845.6 L259.2,826.5 L262.3,809 L265.5,793.4 L268.6,780 L271.7,769.1 L274.8,760.6 L277.9,754.9 L281.1,751.8 L284.2,751.4 L287.3,754.1 L290.4,759.8 L293.5,768.1 L296.7,778.7 L299.8,791.4 L302.9,805.9 L306,821.9 L309.1,839.2 L312.2,857.5 L315.4,876.6 L318.5,896.2 L321.6,916.1 L324.7,936 L327.8,955.7 L331,975.1 L334.1,994 L337.2,1012.3 L340.3,1029.8 L343.4,1046.4 L346.6,1062.1 L349.7,1076.9 L352.8,1090.6 L355.9,1103.4 L359,1115.1 L362.2,1125.8 L365.3,1135.5 L368.4,1144.3 L371.5,1152.2 L374.6,1159.2 L377.8,1165.5 L380.9,1171 L384,1175.9 L387.1,1180.2 L390.2,1183.9 L393.4,1187.1 L396.5,1189.9 L399.6,1192.2 L402.7,1194.3 L405.8,1196 L409,1197.4 L412.1,1198.6 L415.2,1199.7 L418.3,1200.5 L421.4,1201.2 L424.5,1201.8 L427.7,1202.3 L430.8,1202.6 L433.9,1203 L437,1203.2 L440.1,1203.4 L443.3,1203.6 L446.4,1203.7 L449.5,1203.8 L452.6,1203.9 L455.7,1204 L458.9,1204 L462,1204.1 L465.1,1204.1 L468.2,1204.1 L471.3,1204.1 L474.5,1204.2 L477.6,1204.2 L480.7,1204.2 L483.8,1204.2 L486.9,1204.2 L490.1,1204.2 L493.2,1204.2 L496.3,1204.2 L499.4,1204.2 L502.5,1204.2 L505.7,1204.2 L508.8,1204.2 L511.9,1204.2 L515,1204.2 L518.1,1204.2 L521.3,1204.2 L524.4,1204.2 L527.5,1204.2 L530.6,1204.2 L533.7,1204.2 L536.9,1204.2 L540,1204.2 L543.1,1204.2 L546.2,1204.2 L549.3,1204.2 L552.4,1204.2 L555.6,1204.2 L558.7,1204.2 L561.8,1204.2 L564.9,1204.2 L568,1204.2 L571.2,1204.2 L574.3,1204.2 L577.4,1204.2 L580.5,1204.2 L583.6,1204.2 L586.8,1204.2 L589.9,1204.2 L593,1204.2 L596.1,1204.2 L599.2,1204.2 L602.4,1204.2 L605.5,1204.2 L608.6,1204.2 L611.7,1204.2 L614.8,1204.2 L618,1204.2 L621.1,1204.2 L624.2,1204.2 L627.3,1204.2 L630.4,1204.2 L633.6,1204.2 L636.7,1204.2 L639.8,1204.2 L642.9,1204.2 L646,1204.2 L649.2,1204.2 L652.3,1204.2 L655.4,1204.2 L658.5,1204.2 L661.6,1204.2 L664.8,1204.2 L667.9,1204.2 L671,1204.2 L674.1,1204.2 L677.2,1204.2 L680.3,1204.2 L683.5,1204.2 L686.6,1204.2 L689.7,1204.2 L692.8,1204.2 L695.9,1204.2 L699.1,1204.2 L702.2,1204.2 L705.3,1204.2 L708.4,1204.2 L711.5,1204.2 L714.7,1204.2 L717.8,1204.2 L720.9,1204.2 L724,1204.2 L727.1,1204.2 L730.3,1204.2 L733.4,1204.2 L736.5,1204.2" fill="none" stroke="#231F20" stroke-width="5" stroke-linejoin="round"/>
<path d="M112.6,1204.2 L115.7,1204.2 L118.8,1204.2 L122,1204.2 L125.1,1204.2 L128.2,1204.2 L131.3,1204.2 L134.4,1204.2 L137.6,1204.2 L140.7,1204.2 L143.8,1204.2 L146.9,1204.2 L150,1204.2 L153.2,1204.2 L156.3,1204.2 L159.4,1204.2 L162.5,1204.2 L165.6,1204.2 L168.8,1204.2 L171.9,1204.2 L175,1204.2 L178.1,1204.2 L181.2,1204.2 L184.3,1204.2 L187.5,1204.2 L190.6,1204.2 L193.7,1204.2 L196.8,1204.2 L199.9,1204.2 L203.1,1204.2 L206.2,1204.2 L209.3,1204.2 L212.4,1204.2 L215.5,1204.2 L218.7,1204.2 L221.8,1204.2 L224.9,1204.2 L228,1204.2 L231.1,1204.2 L234.3,1204.2 L237.4,1204.2 L240.5,1204.2 L243.6,1204.2 L246.7,1204.2 L249.9,1204.2 L253,1204.2 L256.1,1204.2 L259.2,1204.2 L262.3,1204.2 L265.5,1204.2 L268.6,1204.2 L271.7,1204.2 L274.8,1204.2 L277.9,1204.2 L281.1,1204.2 L284.2,1204.2 L287.3,1204.2 L290.4,1204.2 L293.5,1204.2 L296.7,1204.2 L299.8,1204.2 L302.9,1204.2 L306,1204.2 L309.1,1204.2 L312.2,1204.2 L315.4,1204.2 L318.5,1204.2 L321.6,1204.2 L324.7,1204.2 L327.8,1204.2 L331,1204.2 L334.1,1204.2 L337.2,1204.2 L340.3,1204.2 L343.4,1204.2 L346.6,1204.2 L349.7,1204.2 L352.8,1204.2 L355.9,1204.2 L359,1204.2 L362.2,1204.2 L365.3,1204.2 L368.4,1204.2 L371.5,1204.2 L374.6,1204.2 L377.8,1204.2 L380.9,1204.2 L384,1204.2 L387.1,1204.2 L390.2,1204.2 L393.4,1204.2 L396.5,1204.2 L399.6,1204.2 L402.7,1204.2 L405.8,1204.1 L409,1204.1 L412.1,1204.1 L415.2,1204 L418.3,1204 L421.4,1203.9 L424.5,1203.7 L427.7,1203.5 L430.8,1203.2 L433.9,1202.9 L437,1202.4 L440.1,1201.8 L443.3,1201 L446.4,1200 L449.5,1198.7 L452.6,1197.1 L455.7,1195.1 L458.9,1192.6 L462,1189.7 L465.1,1186.1 L468.2,1181.8 L471.3,1176.8 L474.5,1171 L477.6,1164.3 L480.7,1156.7 L483.8,1148.1 L486.9,1138.5 L490.1,1127.9 L493.2,1116.3 L496.3,1103.7 L499.4,1090.3 L502.5,1076.1 L505.7,1061.2 L508.8,1045.7 L511.9,1029.9 L515,1013.9 L518.1,997.9 L521.3,982 L524.4,966.6 L527.5,951.7 L530.6,937.6 L533.7,924.5 L536.9,912.4 L540,901.5 L543.1,892 L546.2,883.8 L549.3,877 L552.4,871.7 L555.6,867.7 L558.7,864.9 L561.8,863.3 L564.9,862.7 L568,862.7 L571.2,863.8 L574.3,866.1 L577.4,869.7 L580.5,874.6 L583.6,880.8 L586.8,888.1 L589.9,896.7 L593,906.3 L596.1,916.8 L599.2,928.2 L602.4,940.4 L605.5,953.1 L608.6,966.3 L611.7,979.9 L614.8,993.7 L618,1007.5 L621.1,1021.3 L624.2,1034.9 L627.3,1048.3 L630.4,1061.2 L633.6,1073.8 L636.7,1085.8 L639.8,1097.2 L642.9,1108 L646,1118.1 L649.2,1127.5 L652.3,1136.2 L655.4,1144.3 L658.5,1151.6 L661.6,1158.3 L664.8,1164.3 L667.9,1169.7 L671,1174.5 L674.1,1178.8 L677.2,1182.6 L680.3,1185.9 L683.5,1188.8 L686.6,1191.3 L689.7,1193.4 L692.8,1195.2 L695.9,1196.8 L699.1,1198.1 L702.2,1199.2 L705.3,1200.2 L708.4,1200.9 L711.5,1201.6 L714.7,1202.1 L717.8,1202.5 L720.9,1202.9 L724,1203.2 L727.1,1203.4 L730.3,1203.6 L733.4,1203.7 L736.5,1203.8" fill="none" stroke="#1F75BE" stroke-width="4.3" stroke-linejoin="round"/>
</g>
<path d="M117.6,1204.2 V743.4 H731.5" fill="none" stroke="#231F20" stroke-width="2.6"/>
<path d="M731.5,743.4 V1204.2" fill="none" stroke="#231F20" stroke-width="2.2"/>
<path d="M116.6,1204.2 H732.7" fill="none" stroke="#231F20" stroke-width="2.6"/>
<path d="M117.6,751.2 h7 M117.6,841.8 h7 M117.6,932.4 h7 M117.6,1023 h7 M117.6,1113.6 h7 M235.3,1204.2 v-8.5 M352.8,1204.2 v-8.5 M470.3,1204.2 v-8.5 M587.8,1204.2 v-8.5 M705.3,1204.2 v-8.5" stroke="#231F20" stroke-width="1.6"/>
<text x="265.4" y="1114.8" font-size="40" fill="#231F20" textLength="34.1" lengthAdjust="spacingAndGlyphs">In</text>
<text x="540.8" y="1114.9" font-size="40" fill="#231F20" textLength="62.1" lengthAdjust="spacingAndGlyphs">Out</text>
<text x="124.8" y="727.9" font-size="40" fill="#333" textLength="33.1" lengthAdjust="spacingAndGlyphs">c)</text>
<text x="182.4" y="727.9" font-size="41" fill="#231F20" textLength="407.3" lengthAdjust="spacingAndGlyphs">Efficient gradient order</text>
<text x="55.7" y="766.7" font-size="40" textLength="52.4" lengthAdjust="spacingAndGlyphs">1.0</text>
<text x="54.2" y="858.1" font-size="40" textLength="54.1" lengthAdjust="spacingAndGlyphs">0.8</text>
<text x="53.9" y="948.7" font-size="40" textLength="53.6" lengthAdjust="spacingAndGlyphs">0.6</text>
<text x="53.9" y="1039.1" font-size="40" textLength="53.6" lengthAdjust="spacingAndGlyphs">0.4</text>
<text x="53.9" y="1129.5" font-size="40" textLength="53.6" lengthAdjust="spacingAndGlyphs">0.2</text>
<text transform="translate(43.1,1094.8) rotate(-90)" font-size="40" textLength="273.4" lengthAdjust="spacingAndGlyphs">Signal intensity</text>
<clipPath id="clip777"><rect x="776.4" y="743.3" width="614.2" height="463.2"/></clipPath>
<g clip-path="url(#clip777)">
<path d="M771.4,1203.5 L774.5,1203.5 L777.6,1203.5 L780.8,1203.4 L783.9,1203.4 L787,1203.4 L790.1,1203.3 L793.2,1203.3 L796.4,1203.2 L799.5,1203.1 L802.6,1202.9 L805.7,1202.7 L808.9,1202.4 L812,1202.1 L815.1,1201.6 L818.2,1201 L821.3,1200.2 L824.5,1199.2 L827.6,1198 L830.7,1196.5 L833.8,1194.5 L836.9,1192.2 L840.1,1189.3 L843.2,1185.8 L846.3,1181.7 L849.4,1176.7 L852.5,1170.9 L855.7,1164.1 L858.8,1156.2 L861.9,1147.2 L865,1136.9 L868.2,1125.4 L871.3,1112.4 L874.4,1098.1 L877.5,1082.4 L880.6,1065.4 L883.8,1047.1 L886.9,1027.6 L890,1007.1 L893.1,985.8 L896.2,963.8 L899.4,941.4 L902.5,919 L905.6,896.8 L908.7,875 L911.8,854.2 L915,834.5 L918.1,816.4 L921.2,800 L924.3,785.8 L927.4,773.9 L930.6,764.4 L933.7,757.6 L936.8,753.5 L939.9,752 L943.1,753.5 L946.2,758 L949.3,765.3 L952.4,775 L955.5,786.8 L958.7,800.6 L961.8,816 L964.9,832.8 L968,850.7 L971.1,869.5 L974.3,888.8 L977.4,908.6 L980.5,928.4 L983.6,948.2 L986.7,967.7 L989.9,986.8 L993,1005.2 L996.1,1023 L999.2,1039.9 L1002.4,1056 L1005.5,1071 L1008.6,1085.1 L1011.7,1098.2 L1014.8,1110.3 L1018,1121.3 L1021.1,1131.4 L1024.2,1140.5 L1027.3,1148.7 L1030.4,1156.1 L1033.6,1162.6 L1036.7,1168.4 L1039.8,1173.5 L1042.9,1178 L1046,1181.9 L1049.2,1185.3 L1052.3,1188.2 L1055.4,1190.7 L1058.5,1192.9 L1061.7,1194.7 L1064.8,1196.2 L1067.9,1197.5 L1071,1198.6 L1074.1,1199.5 L1077.3,1200.3 L1080.4,1200.9 L1083.5,1201.4 L1086.6,1201.8 L1089.7,1202.2 L1092.9,1202.4 L1096,1202.7 L1099.1,1202.8 L1102.2,1203 L1105.3,1203.1 L1108.5,1203.2 L1111.6,1203.3 L1114.7,1203.3 L1117.8,1203.4 L1121,1203.4 L1124.1,1203.4 L1127.2,1203.4 L1130.3,1203.5 L1133.4,1203.5 L1136.6,1203.5 L1139.7,1203.5 L1142.8,1203.5 L1145.9,1203.5 L1149,1203.5 L1152.2,1203.5 L1155.3,1203.5 L1158.4,1203.5 L1161.5,1203.5 L1164.6,1203.5 L1167.8,1203.5 L1170.9,1203.5 L1174,1203.5 L1177.1,1203.5 L1180.3,1203.5 L1183.4,1203.5 L1186.5,1203.5 L1189.6,1203.5 L1192.7,1203.5 L1195.9,1203.5 L1199,1203.5 L1202.1,1203.5 L1205.2,1203.5 L1208.3,1203.5 L1211.5,1203.5 L1214.6,1203.5 L1217.7,1203.5 L1220.8,1203.5 L1223.9,1203.5 L1227.1,1203.5 L1230.2,1203.5 L1233.3,1203.5 L1236.4,1203.5 L1239.5,1203.5 L1242.7,1203.5 L1245.8,1203.5 L1248.9,1203.5 L1252,1203.5 L1255.2,1203.5 L1258.3,1203.5 L1261.4,1203.5 L1264.5,1203.5 L1267.6,1203.5 L1270.8,1203.5 L1273.9,1203.5 L1277,1203.5 L1280.1,1203.5 L1283.2,1203.5 L1286.4,1203.5 L1289.5,1203.5 L1292.6,1203.5 L1295.7,1203.5 L1298.8,1203.5 L1302,1203.5 L1305.1,1203.5 L1308.2,1203.5 L1311.3,1203.5 L1314.5,1203.5 L1317.6,1203.5 L1320.7,1203.5 L1323.8,1203.5 L1326.9,1203.5 L1330.1,1203.5 L1333.2,1203.5 L1336.3,1203.5 L1339.4,1203.5 L1342.5,1203.5 L1345.7,1203.5 L1348.8,1203.5 L1351.9,1203.5 L1355,1203.5 L1358.1,1203.5 L1361.3,1203.5 L1364.4,1203.5 L1367.5,1203.5 L1370.6,1203.5 L1373.8,1203.5 L1376.9,1203.5 L1380,1203.5 L1383.1,1203.5 L1386.2,1203.5 L1389.4,1203.5 L1392.5,1203.5 L1395.6,1203.5 L1395.6,1208.5 L771.4,1208.5 Z" fill="#BCBEC0"/>
<path d="M1075,1203.2 L1076.6,1203.1 L1078.2,1203 L1079.8,1202.9 L1081.4,1202.8 L1083,1202.7 L1084.6,1202.6 L1086.2,1202.4 L1087.8,1202.2 L1089.4,1202 L1091,1201.7 L1092.6,1201.4 L1094.2,1201.1 L1095.8,1200.7 L1097.4,1200.3 L1099,1199.8 L1100.6,1199.3 L1102.3,1198.6 L1103.9,1197.9 L1105.5,1197.2 L1107.1,1196.3 L1108.7,1195.3 L1110.3,1194.3 L1111.9,1193.1 L1113.5,1191.8 L1115.1,1190.4 L1116.7,1188.8 L1118.3,1187.1 L1119.9,1185.2 L1121.5,1183.2 L1123.1,1181 L1124.7,1178.7 L1126.3,1176.1 L1127.9,1173.4 L1129.5,1170.5 L1131.1,1167.4 L1132.7,1164.1 L1134.3,1160.6 L1135.9,1156.9 L1137.5,1153 L1139.1,1148.8 L1140.7,1144.5 L1142.3,1140 L1143.9,1135.3 L1145.5,1130.5 L1147.1,1125.4 L1148.7,1120.2 L1150.3,1114.8 L1151.9,1109.3 L1153.5,1103.6 L1155.2,1097.8 L1156.8,1092 L1158.4,1086 L1160,1080 L1161.6,1073.9 L1163.2,1067.8 L1164.8,1061.7 L1166.4,1055.6 L1168,1049.5 L1169.6,1043.5 L1171.2,1037.5 L1172.8,1031.7 L1174.4,1025.9 L1176,1020.3 L1177.6,1014.9 L1179.2,1009.6 L1180.8,1004.5 L1182.4,999.6 L1184,994.9 L1185.6,990.4 L1187.2,986.2 L1188.8,982.2 L1190.4,978.5 L1192,975.1 L1193.6,971.9 L1195.2,969 L1196.8,966.4 L1198.4,964 L1200,961.9 L1201.6,960.1 L1203.2,958.5 L1204.8,957.2 L1206.4,956.1 L1208,955.3 L1209.7,954.7 L1211.3,954.2 L1212.9,954 L1214.5,953.8 L1216.1,953.8 L1217.7,954 L1219.3,954.3 L1220.9,954.9 L1222.5,955.8 L1224.1,956.9 L1225.7,958.3 L1227.3,959.9 L1228.9,961.8 L1230.5,963.9 L1232.1,966.3 L1233.7,968.9 L1235.3,971.7 L1236.9,974.8 L1238.5,978 L1240.1,981.5 L1241.7,985.1 L1243.3,989 L1244.9,993 L1246.5,997.2 L1248.1,1001.5 L1249.7,1005.9 L1251.3,1010.5 L1252.9,1015.2 L1254.5,1020 L1256.1,1024.8 L1257.7,1029.8 L1259.3,1034.8 L1260.9,1039.8 L1262.6,1044.9 L1264.2,1050 L1265.8,1055.1 L1267.4,1060.2 L1269,1065.3 L1270.6,1070.4 L1272.2,1075.4 L1273.8,1080.4 L1275.4,1085.4 L1277,1090.2 L1278.6,1095 L1280.2,1099.8 L1281.8,1104.4 L1283.4,1108.9 L1285,1113.4 L1286.6,1117.7 L1288.2,1121.9 L1289.8,1126.1 L1291.4,1130 L1293,1133.9 L1294.6,1137.7 L1296.2,1141.3 L1297.8,1144.8 L1299.4,1148.1 L1301,1151.4 L1302.6,1154.5 L1304.2,1157.4 L1305.8,1160.3 L1307.4,1163 L1309,1165.6 L1310.6,1168.1 L1312.2,1170.4 L1313.8,1172.7 L1315.4,1174.8 L1317.1,1176.8 L1318.7,1178.7 L1320.3,1180.5 L1321.9,1182.2 L1323.5,1183.7 L1325.1,1185.2 L1326.7,1186.6 L1328.3,1187.9 L1329.9,1189.2 L1331.5,1190.3 L1333.1,1191.4 L1334.7,1192.4 L1336.3,1193.3 L1337.9,1194.2 L1339.5,1195 L1341.1,1195.7 L1342.7,1196.4 L1344.3,1197 L1345.9,1197.6 L1347.5,1198.2 L1349.1,1198.6 L1350.7,1199.1 L1352.3,1199.5 L1353.9,1199.9 L1355.5,1200.2 L1357.1,1200.6 L1358.7,1200.9 L1360.3,1201.1 L1361.9,1201.4 L1363.5,1201.6 L1365.1,1201.8 L1366.7,1202 L1368.3,1202.1 L1370,1202.3 L1371.6,1202.4 L1373.2,1202.5 L1374.8,1202.6 L1376.4,1202.7 L1378,1202.8 L1379.6,1202.9 L1381.2,1203 L1382.8,1203 L1384.4,1203.1 L1386,1203.1 L1387.6,1203.2 L1389.2,1203.2 L1390.8,1203.2 L1392.4,1203.3 L1394,1203.3 L1395.6,1203.3 L1395.6,1208.5 L1075,1208.5 Z" fill="#F7923A"/>
<path d="M771.4,1203.5 L774.5,1203.5 L777.6,1203.5 L780.8,1203.4 L783.9,1203.4 L787,1203.4 L790.1,1203.3 L793.2,1203.3 L796.4,1203.2 L799.5,1203.1 L802.6,1202.9 L805.7,1202.7 L808.9,1202.4 L812,1202.1 L815.1,1201.6 L818.2,1201 L821.3,1200.2 L824.5,1199.2 L827.6,1198 L830.7,1196.5 L833.8,1194.5 L836.9,1192.2 L840.1,1189.3 L843.2,1185.8 L846.3,1181.7 L849.4,1176.7 L852.5,1170.9 L855.7,1164.1 L858.8,1156.2 L861.9,1147.2 L865,1136.9 L868.2,1125.4 L871.3,1112.4 L874.4,1098.1 L877.5,1082.4 L880.6,1065.4 L883.8,1047.1 L886.9,1027.6 L890,1007.1 L893.1,985.8 L896.2,963.8 L899.4,941.4 L902.5,919 L905.6,896.8 L908.7,875 L911.8,854.2 L915,834.5 L918.1,816.4 L921.2,800 L924.3,785.8 L927.4,773.9 L930.6,764.4 L933.7,757.6 L936.8,753.5 L939.9,752 L943.1,753.5 L946.2,758 L949.3,765.3 L952.4,775 L955.5,786.8 L958.7,800.6 L961.8,816 L964.9,832.8 L968,850.7 L971.1,869.5 L974.3,888.8 L977.4,908.6 L980.5,928.4 L983.6,948.2 L986.7,967.7 L989.9,986.8 L993,1005.2 L996.1,1023 L999.2,1039.9 L1002.4,1056 L1005.5,1071 L1008.6,1085.1 L1011.7,1098.2 L1014.8,1110.3 L1018,1121.3 L1021.1,1131.4 L1024.2,1140.5 L1027.3,1148.7 L1030.4,1156.1 L1033.6,1162.6 L1036.7,1168.4 L1039.8,1173.5 L1042.9,1178 L1046,1181.9 L1049.2,1185.3 L1052.3,1188.2 L1055.4,1190.7 L1058.5,1192.9 L1061.7,1194.7 L1064.8,1196.2 L1067.9,1197.5 L1071,1198.6 L1074.1,1199.5 L1077.3,1200.3 L1080.4,1200.9 L1083.5,1201.4 L1086.6,1201.8 L1089.7,1202.2 L1092.9,1202.4 L1096,1202.7 L1099.1,1202.8 L1102.2,1203 L1105.3,1203.1 L1108.5,1203.2 L1111.6,1203.3 L1114.7,1203.3 L1117.8,1203.4 L1121,1203.4 L1124.1,1203.4 L1127.2,1203.4 L1130.3,1203.5 L1133.4,1203.5 L1136.6,1203.5 L1139.7,1203.5 L1142.8,1203.5 L1145.9,1203.5 L1149,1203.5 L1152.2,1203.5 L1155.3,1203.5 L1158.4,1203.5 L1161.5,1203.5 L1164.6,1203.5 L1167.8,1203.5 L1170.9,1203.5 L1174,1203.5 L1177.1,1203.5 L1180.3,1203.5 L1183.4,1203.5 L1186.5,1203.5 L1189.6,1203.5 L1192.7,1203.5 L1195.9,1203.5 L1199,1203.5 L1202.1,1203.5 L1205.2,1203.5 L1208.3,1203.5 L1211.5,1203.5 L1214.6,1203.5 L1217.7,1203.5 L1220.8,1203.5 L1223.9,1203.5 L1227.1,1203.5 L1230.2,1203.5 L1233.3,1203.5 L1236.4,1203.5 L1239.5,1203.5 L1242.7,1203.5 L1245.8,1203.5 L1248.9,1203.5 L1252,1203.5 L1255.2,1203.5 L1258.3,1203.5 L1261.4,1203.5 L1264.5,1203.5 L1267.6,1203.5 L1270.8,1203.5 L1273.9,1203.5 L1277,1203.5 L1280.1,1203.5 L1283.2,1203.5 L1286.4,1203.5 L1289.5,1203.5 L1292.6,1203.5 L1295.7,1203.5 L1298.8,1203.5 L1302,1203.5 L1305.1,1203.5 L1308.2,1203.5 L1311.3,1203.5 L1314.5,1203.5 L1317.6,1203.5 L1320.7,1203.5 L1323.8,1203.5 L1326.9,1203.5 L1330.1,1203.5 L1333.2,1203.5 L1336.3,1203.5 L1339.4,1203.5 L1342.5,1203.5 L1345.7,1203.5 L1348.8,1203.5 L1351.9,1203.5 L1355,1203.5 L1358.1,1203.5 L1361.3,1203.5 L1364.4,1203.5 L1367.5,1203.5 L1370.6,1203.5 L1373.8,1203.5 L1376.9,1203.5 L1380,1203.5 L1383.1,1203.5 L1386.2,1203.5 L1389.4,1203.5 L1392.5,1203.5 L1395.6,1203.5" fill="none" stroke="#231F20" stroke-width="5" stroke-linejoin="round"/>
<path d="M1075,1203.2 L1076.6,1203.1 L1078.2,1203 L1079.8,1202.9 L1081.4,1202.8 L1083,1202.7 L1084.6,1202.6 L1086.2,1202.4 L1087.8,1202.2 L1089.4,1202 L1091,1201.7 L1092.6,1201.4 L1094.2,1201.1 L1095.8,1200.7 L1097.4,1200.3 L1099,1199.8 L1100.6,1199.3 L1102.3,1198.6 L1103.9,1197.9 L1105.5,1197.2 L1107.1,1196.3 L1108.7,1195.3 L1110.3,1194.3 L1111.9,1193.1 L1113.5,1191.8 L1115.1,1190.4 L1116.7,1188.8 L1118.3,1187.1 L1119.9,1185.2 L1121.5,1183.2 L1123.1,1181 L1124.7,1178.7 L1126.3,1176.1 L1127.9,1173.4 L1129.5,1170.5 L1131.1,1167.4 L1132.7,1164.1 L1134.3,1160.6 L1135.9,1156.9 L1137.5,1153 L1139.1,1148.8 L1140.7,1144.5 L1142.3,1140 L1143.9,1135.3 L1145.5,1130.5 L1147.1,1125.4 L1148.7,1120.2 L1150.3,1114.8 L1151.9,1109.3 L1153.5,1103.6 L1155.2,1097.8 L1156.8,1092 L1158.4,1086 L1160,1080 L1161.6,1073.9 L1163.2,1067.8 L1164.8,1061.7 L1166.4,1055.6 L1168,1049.5 L1169.6,1043.5 L1171.2,1037.5 L1172.8,1031.7 L1174.4,1025.9 L1176,1020.3 L1177.6,1014.9 L1179.2,1009.6 L1180.8,1004.5 L1182.4,999.6 L1184,994.9 L1185.6,990.4 L1187.2,986.2 L1188.8,982.2 L1190.4,978.5 L1192,975.1 L1193.6,971.9 L1195.2,969 L1196.8,966.4 L1198.4,964 L1200,961.9 L1201.6,960.1 L1203.2,958.5 L1204.8,957.2 L1206.4,956.1 L1208,955.3 L1209.7,954.7 L1211.3,954.2 L1212.9,954 L1214.5,953.8 L1216.1,953.8 L1217.7,954 L1219.3,954.3 L1220.9,954.9 L1222.5,955.8 L1224.1,956.9 L1225.7,958.3 L1227.3,959.9 L1228.9,961.8 L1230.5,963.9 L1232.1,966.3 L1233.7,968.9 L1235.3,971.7 L1236.9,974.8 L1238.5,978 L1240.1,981.5 L1241.7,985.1 L1243.3,989 L1244.9,993 L1246.5,997.2 L1248.1,1001.5 L1249.7,1005.9 L1251.3,1010.5 L1252.9,1015.2 L1254.5,1020 L1256.1,1024.8 L1257.7,1029.8 L1259.3,1034.8 L1260.9,1039.8 L1262.6,1044.9 L1264.2,1050 L1265.8,1055.1 L1267.4,1060.2 L1269,1065.3 L1270.6,1070.4 L1272.2,1075.4 L1273.8,1080.4 L1275.4,1085.4 L1277,1090.2 L1278.6,1095 L1280.2,1099.8 L1281.8,1104.4 L1283.4,1108.9 L1285,1113.4 L1286.6,1117.7 L1288.2,1121.9 L1289.8,1126.1 L1291.4,1130 L1293,1133.9 L1294.6,1137.7 L1296.2,1141.3 L1297.8,1144.8 L1299.4,1148.1 L1301,1151.4 L1302.6,1154.5 L1304.2,1157.4 L1305.8,1160.3 L1307.4,1163 L1309,1165.6 L1310.6,1168.1 L1312.2,1170.4 L1313.8,1172.7 L1315.4,1174.8 L1317.1,1176.8 L1318.7,1178.7 L1320.3,1180.5 L1321.9,1182.2 L1323.5,1183.7 L1325.1,1185.2 L1326.7,1186.6 L1328.3,1187.9 L1329.9,1189.2 L1331.5,1190.3 L1333.1,1191.4 L1334.7,1192.4 L1336.3,1193.3 L1337.9,1194.2 L1339.5,1195 L1341.1,1195.7 L1342.7,1196.4 L1344.3,1197 L1345.9,1197.6 L1347.5,1198.2 L1349.1,1198.6 L1350.7,1199.1 L1352.3,1199.5 L1353.9,1199.9 L1355.5,1200.2 L1357.1,1200.6 L1358.7,1200.9 L1360.3,1201.1 L1361.9,1201.4 L1363.5,1201.6 L1365.1,1201.8 L1366.7,1202 L1368.3,1202.1 L1370,1202.3 L1371.6,1202.4 L1373.2,1202.5 L1374.8,1202.6 L1376.4,1202.7 L1378,1202.8 L1379.6,1202.9 L1381.2,1203 L1382.8,1203 L1384.4,1203.1 L1386,1203.1 L1387.6,1203.2 L1389.2,1203.2 L1390.8,1203.2 L1392.4,1203.3 L1394,1203.3 L1395.6,1203.3" fill="none" stroke="#F26522" stroke-width="4.3" stroke-linejoin="round"/>
</g>
<path d="M776.4,1203.5 V743.3 H1390.6" fill="none" stroke="#231F20" stroke-width="2.6"/>
<path d="M1390.6,743.3 V1203.5" fill="none" stroke="#231F20" stroke-width="2.2"/>
<path d="M775.4,1203.5 H1391.8" fill="none" stroke="#231F20" stroke-width="3.6"/>
<path d="M776.4,752 h7 M776.4,842.3 h7 M776.4,932.6 h7 M776.4,1022.9 h7 M776.4,1113.2 h7 M893.3,1203.5 v-8.5 M1011.4,1203.5 v-8.5 M1129,1203.5 v-8.5 M1246.4,1203.5 v-8.5 M1364,1203.5 v-8.5" stroke="#231F20" stroke-width="1.6"/>
<text x="925.7" y="1114.8" font-size="40" fill="#231F20" textLength="34.1" lengthAdjust="spacingAndGlyphs">In</text>
<text x="1193" y="1114.9" font-size="40" fill="#231F20" textLength="62.1" lengthAdjust="spacingAndGlyphs">Out</text>
<text x="777" y="727.9" font-size="40" fill="#333" textLength="36.3" lengthAdjust="spacingAndGlyphs">d)</text>
<text x="890.1" y="727.9" font-size="41" fill="#231F20" textLength="372.1" lengthAdjust="spacingAndGlyphs">Lossy gradient order</text>
<filter id="he" x="94.4" y="1215.4" width="620.6" height="452.3" filterUnits="userSpaceOnUse"><feGaussianBlur stdDeviation="5.5"/></filter>
<clipPath id="hec"><rect x="118.9" y="1239.9" width="571.6" height="403.3"/></clipPath>
<g clip-path="url(#hec)"><g filter="url(#he)">
<path fill="#FDFDFE" d="M94.4 1215.4h344v8h-344zM94.4 1223.4h336v8h-336zM94.4 1231.4h320v8h-320zM94.4 1239.4h304v8h-304zM94.4 1247.4h288v8h-288zM94.4 1255.4h280v8h-280zM94.4 1263.4h256v8h-256zM94.4 1271.4h240v8h-240zM94.4 1279.4h224v8h-224zM94.4 1287.4h208v8h-208zM94.4 1295.4h192v8h-192zM94.4 1303.4h176v8h-176zM94.4 1311.4h160v8h-160zM94.4 1319.4h152v8h-152zM502.4 1319.4h24v8h-24zM94.4 1327.4h144v8h-144zM502.4 1327.4h32v8h-32zM94.4 1335.4h144v8h-144zM502.4 1335.4h40v8h-40zM94.4 1343.4h136v8h-136zM502.4 1343.4h40v8h-40zM94.4 1351.4h136v8h-136zM510.4 1351.4h32v8h-32zM94.4 1359.4h128v8h-128zM510.4 1359.4h32v8h-32zM94.4 1367.4h128v8h-128zM526.4 1367.4h8v8h-8zM94.4 1375.4h128v8h-128zM94.4 1383.4h120v8h-120zM94.4 1391.4h120v8h-120zM94.4 1399.4h112v8h-112zM94.4 1407.4h104v8h-104zM94.4 1415.4h96v8h-96zM94.4 1423.4h96v8h-96zM94.4 1431.4h88v8h-88zM94.4 1439.4h88v8h-88zM94.4 1447.4h88v8h-88zM94.4 1455.4h88v8h-88zM94.4 1463.4h88v8h-88zM94.4 1471.4h88v8h-88zM94.4 1479.4h88v8h-88zM94.4 1487.4h96v8h-96zM94.4 1495.4h96v8h-96zM94.4 1503.4h96v8h-96zM94.4 1511.4h96v8h-96zM94.4 1519.4h104v8h-104zM94.4 1527.4h104v8h-104zM94.4 1535.4h104v8h-104zM310.4 1535.4h16v8h-16zM94.4 1543.4h104v8h-104zM310.4 1543.4h16v8h-16zM94.4 1551.4h96v8h-96zM310.4 1551.4h16v8h-16zM94.4 1559.4h88v8h-88zM310.4 1559.4h16v8h-16zM94.4 1567.4h80v8h-80zM310.4 1567.4h16v8h-16zM94.4 1575.4h80v8h-80zM310.4 1575.4h24v8h-24zM94.4 1583.4h72v8h-72zM310.4 1583.4h24v8h-24zM94.4 1591.4h72v8h-72zM310.4 1591.4h16v8h-16zM94.4 1599.4h72v8h-72zM310.4 1599.4h16v8h-16zM94.4 1607.4h72v8h-72zM310.4 1607.4h16v8h-16zM94.4 1615.4h80v8h-80zM94.4 1623.4h80v8h-80zM94.4 1631.4h88v8h-88zM710.4 1631.4h8v8h-8zM94.4 1639.4h96v8h-96zM702.4 1639.4h16v8h-16zM94.4 1647.4h96v8h-96zM694.4 1647.4h24v8h-24zM94.4 1655.4h104v8h-104zM694.4 1655.4h24v8h-24zM94.4 1663.4h104v8h-104zM686.4 1663.4h32v8h-32z"/>
<path fill="#F8F9FC" d="M438.4 1215.4h56v8h-56zM430.4 1223.4h64v8h-64zM414.4 1231.4h72v8h-72zM398.4 1239.4h80v8h-80zM382.4 1247.4h88v8h-88zM374.4 1255.4h72v8h-72zM350.4 1263.4h80v8h-80zM334.4 1271.4h88v8h-88zM318.4 1279.4h88v8h-88zM302.4 1287.4h64v8h-64zM286.4 1295.4h56v8h-56zM502.4 1295.4h32v8h-32zM270.4 1303.4h64v8h-64zM494.4 1303.4h48v8h-48zM710.4 1303.4h8v8h-8zM254.4 1311.4h64v8h-64zM494.4 1311.4h48v8h-48zM710.4 1311.4h8v8h-8zM246.4 1319.4h56v8h-56zM486.4 1319.4h16v8h-16zM526.4 1319.4h24v8h-24zM710.4 1319.4h8v8h-8zM238.4 1327.4h56v8h-56zM486.4 1327.4h16v8h-16zM534.4 1327.4h24v8h-24zM702.4 1327.4h16v8h-16zM238.4 1335.4h48v8h-48zM494.4 1335.4h8v8h-8zM542.4 1335.4h16v8h-16zM702.4 1335.4h16v8h-16zM230.4 1343.4h48v8h-48zM494.4 1343.4h8v8h-8zM542.4 1343.4h16v8h-16zM702.4 1343.4h16v8h-16zM230.4 1351.4h40v8h-40zM494.4 1351.4h16v8h-16zM542.4 1351.4h24v8h-24zM694.4 1351.4h24v8h-24zM222.4 1359.4h48v8h-48zM494.4 1359.4h16v8h-16zM542.4 1359.4h24v8h-24zM694.4 1359.4h24v8h-24zM222.4 1367.4h40v8h-40zM502.4 1367.4h24v8h-24zM534.4 1367.4h32v8h-32zM694.4 1367.4h24v8h-24zM222.4 1375.4h32v8h-32zM502.4 1375.4h64v8h-64zM694.4 1375.4h24v8h-24zM214.4 1383.4h40v8h-40zM510.4 1383.4h56v8h-56zM694.4 1383.4h24v8h-24zM214.4 1391.4h32v8h-32zM518.4 1391.4h40v8h-40zM694.4 1391.4h24v8h-24zM206.4 1399.4h32v8h-32zM694.4 1399.4h24v8h-24zM198.4 1407.4h32v8h-32zM686.4 1407.4h32v8h-32zM190.4 1415.4h32v8h-32zM686.4 1415.4h32v8h-32zM190.4 1423.4h24v8h-24zM678.4 1423.4h40v8h-40zM182.4 1431.4h32v8h-32zM670.4 1431.4h48v8h-48zM182.4 1439.4h24v8h-24zM670.4 1439.4h48v8h-48zM182.4 1447.4h24v8h-24zM670.4 1447.4h48v8h-48zM182.4 1455.4h16v8h-16zM670.4 1455.4h48v8h-48zM182.4 1463.4h16v8h-16zM678.4 1463.4h40v8h-40zM182.4 1471.4h16v8h-16zM686.4 1471.4h32v8h-32zM182.4 1479.4h16v8h-16zM686.4 1479.4h32v8h-32zM190.4 1487.4h8v8h-8zM694.4 1487.4h24v8h-24zM190.4 1495.4h16v8h-16zM694.4 1495.4h24v8h-24zM190.4 1503.4h16v8h-16zM694.4 1503.4h24v8h-24zM190.4 1511.4h16v8h-16zM310.4 1511.4h16v8h-16zM694.4 1511.4h24v8h-24zM198.4 1519.4h8v8h-8zM302.4 1519.4h24v8h-24zM686.4 1519.4h32v8h-32zM198.4 1527.4h16v8h-16zM302.4 1527.4h32v8h-32zM686.4 1527.4h32v8h-32zM198.4 1535.4h16v8h-16zM302.4 1535.4h8v8h-8zM326.4 1535.4h8v8h-8zM678.4 1535.4h40v8h-40zM198.4 1543.4h16v8h-16zM294.4 1543.4h16v8h-16zM326.4 1543.4h8v8h-8zM670.4 1543.4h48v8h-48zM190.4 1551.4h16v8h-16zM294.4 1551.4h16v8h-16zM326.4 1551.4h16v8h-16zM662.4 1551.4h56v8h-56zM182.4 1559.4h16v8h-16zM294.4 1559.4h16v8h-16zM326.4 1559.4h16v8h-16zM654.4 1559.4h64v8h-64zM174.4 1567.4h24v8h-24zM302.4 1567.4h8v8h-8zM326.4 1567.4h16v8h-16zM646.4 1567.4h72v8h-72zM174.4 1575.4h16v8h-16zM302.4 1575.4h8v8h-8zM334.4 1575.4h8v8h-8zM630.4 1575.4h88v8h-88zM166.4 1583.4h24v8h-24zM302.4 1583.4h8v8h-8zM334.4 1583.4h8v8h-8zM630.4 1583.4h88v8h-88zM166.4 1591.4h16v8h-16zM302.4 1591.4h8v8h-8zM326.4 1591.4h16v8h-16zM622.4 1591.4h96v8h-96zM166.4 1599.4h16v8h-16zM302.4 1599.4h8v8h-8zM326.4 1599.4h8v8h-8zM614.4 1599.4h104v8h-104zM166.4 1607.4h24v8h-24zM302.4 1607.4h8v8h-8zM326.4 1607.4h8v8h-8zM614.4 1607.4h104v8h-104zM174.4 1615.4h16v8h-16zM302.4 1615.4h32v8h-32zM614.4 1615.4h104v8h-104zM174.4 1623.4h24v8h-24zM302.4 1623.4h32v8h-32zM606.4 1623.4h112v8h-112zM182.4 1631.4h16v8h-16zM302.4 1631.4h24v8h-24zM606.4 1631.4h104v8h-104zM190.4 1639.4h16v8h-16zM310.4 1639.4h16v8h-16zM606.4 1639.4h96v8h-96zM190.4 1647.4h16v8h-16zM606.4 1647.4h88v8h-88zM198.4 1655.4h16v8h-16zM598.4 1655.4h96v8h-96zM198.4 1663.4h16v8h-16zM598.4 1663.4h88v8h-88z"/>
<path fill="#F3F4FA" d="M494.4 1215.4h40v8h-40zM678.4 1215.4h40v8h-40zM494.4 1223.4h32v8h-32zM678.4 1223.4h40v8h-40zM486.4 1231.4h40v8h-40zM678.4 1231.4h40v8h-40zM478.4 1239.4h48v8h-48zM678.4 1239.4h40v8h-40zM470.4 1247.4h56v8h-56zM678.4 1247.4h40v8h-40zM446.4 1255.4h80v8h-80zM678.4 1255.4h40v8h-40zM430.4 1263.4h104v8h-104zM678.4 1263.4h40v8h-40zM422.4 1271.4h32v8h-32zM478.4 1271.4h64v8h-64zM678.4 1271.4h40v8h-40zM406.4 1279.4h40v8h-40zM486.4 1279.4h56v8h-56zM678.4 1279.4h40v8h-40zM366.4 1287.4h72v8h-72zM486.4 1287.4h64v8h-64zM678.4 1287.4h40v8h-40zM342.4 1295.4h80v8h-80zM486.4 1295.4h16v8h-16zM534.4 1295.4h16v8h-16zM678.4 1295.4h40v8h-40zM334.4 1303.4h56v8h-56zM478.4 1303.4h16v8h-16zM542.4 1303.4h16v8h-16zM670.4 1303.4h40v8h-40zM318.4 1311.4h48v8h-48zM478.4 1311.4h16v8h-16zM542.4 1311.4h24v8h-24zM670.4 1311.4h40v8h-40zM302.4 1319.4h48v8h-48zM478.4 1319.4h8v8h-8zM550.4 1319.4h16v8h-16zM662.4 1319.4h48v8h-48zM294.4 1327.4h48v8h-48zM478.4 1327.4h8v8h-8zM558.4 1327.4h16v8h-16zM654.4 1327.4h48v8h-48zM286.4 1335.4h48v8h-48zM478.4 1335.4h16v8h-16zM558.4 1335.4h24v8h-24zM654.4 1335.4h48v8h-48zM278.4 1343.4h48v8h-48zM478.4 1343.4h16v8h-16zM558.4 1343.4h24v8h-24zM646.4 1343.4h56v8h-56zM270.4 1351.4h48v8h-48zM486.4 1351.4h8v8h-8zM566.4 1351.4h24v8h-24zM646.4 1351.4h48v8h-48zM270.4 1359.4h40v8h-40zM486.4 1359.4h8v8h-8zM566.4 1359.4h32v8h-32zM638.4 1359.4h56v8h-56zM262.4 1367.4h40v8h-40zM486.4 1367.4h16v8h-16zM566.4 1367.4h32v8h-32zM630.4 1367.4h64v8h-64zM254.4 1375.4h40v8h-40zM486.4 1375.4h16v8h-16zM566.4 1375.4h40v8h-40zM622.4 1375.4h72v8h-72zM254.4 1383.4h32v8h-32zM494.4 1383.4h16v8h-16zM566.4 1383.4h128v8h-128zM246.4 1391.4h32v8h-32zM502.4 1391.4h16v8h-16zM558.4 1391.4h136v8h-136zM238.4 1399.4h32v8h-32zM502.4 1399.4h192v8h-192zM230.4 1407.4h32v8h-32zM510.4 1407.4h176v8h-176zM222.4 1415.4h32v8h-32zM518.4 1415.4h168v8h-168zM214.4 1423.4h32v8h-32zM526.4 1423.4h152v8h-152zM214.4 1431.4h24v8h-24zM526.4 1431.4h144v8h-144zM206.4 1439.4h24v8h-24zM534.4 1439.4h136v8h-136zM206.4 1447.4h16v8h-16zM534.4 1447.4h136v8h-136zM198.4 1455.4h24v8h-24zM542.4 1455.4h128v8h-128zM198.4 1463.4h16v8h-16zM310.4 1463.4h16v8h-16zM542.4 1463.4h136v8h-136zM198.4 1471.4h16v8h-16zM310.4 1471.4h24v8h-24zM550.4 1471.4h136v8h-136zM198.4 1479.4h16v8h-16zM310.4 1479.4h24v8h-24zM550.4 1479.4h136v8h-136zM198.4 1487.4h16v8h-16zM302.4 1487.4h32v8h-32zM558.4 1487.4h136v8h-136zM206.4 1495.4h8v8h-8zM302.4 1495.4h32v8h-32zM566.4 1495.4h128v8h-128zM206.4 1503.4h8v8h-8zM302.4 1503.4h32v8h-32zM574.4 1503.4h120v8h-120zM206.4 1511.4h8v8h-8zM294.4 1511.4h16v8h-16zM326.4 1511.4h16v8h-16zM574.4 1511.4h120v8h-120zM206.4 1519.4h16v8h-16zM294.4 1519.4h8v8h-8zM326.4 1519.4h16v8h-16zM574.4 1519.4h112v8h-112zM214.4 1527.4h8v8h-8zM294.4 1527.4h8v8h-8zM334.4 1527.4h8v8h-8zM574.4 1527.4h112v8h-112zM214.4 1535.4h8v8h-8zM286.4 1535.4h16v8h-16zM334.4 1535.4h8v8h-8zM574.4 1535.4h104v8h-104zM214.4 1543.4h8v8h-8zM286.4 1543.4h8v8h-8zM334.4 1543.4h8v8h-8zM574.4 1543.4h96v8h-96zM206.4 1551.4h8v8h-8zM286.4 1551.4h8v8h-8zM574.4 1551.4h88v8h-88zM198.4 1559.4h16v8h-16zM342.4 1559.4h8v8h-8zM566.4 1559.4h88v8h-88zM198.4 1567.4h8v8h-8zM294.4 1567.4h8v8h-8zM342.4 1567.4h8v8h-8zM566.4 1567.4h80v8h-80zM190.4 1575.4h8v8h-8zM294.4 1575.4h8v8h-8zM342.4 1575.4h8v8h-8zM566.4 1575.4h64v8h-64zM190.4 1583.4h8v8h-8zM294.4 1583.4h8v8h-8zM342.4 1583.4h8v8h-8zM566.4 1583.4h64v8h-64zM182.4 1591.4h16v8h-16zM294.4 1591.4h8v8h-8zM342.4 1591.4h8v8h-8zM566.4 1591.4h56v8h-56zM182.4 1599.4h16v8h-16zM294.4 1599.4h8v8h-8zM334.4 1599.4h8v8h-8zM558.4 1599.4h56v8h-56zM190.4 1607.4h8v8h-8zM294.4 1607.4h8v8h-8zM334.4 1607.4h8v8h-8zM558.4 1607.4h56v8h-56zM190.4 1615.4h8v8h-8zM294.4 1615.4h8v8h-8zM334.4 1615.4h8v8h-8zM558.4 1615.4h56v8h-56zM198.4 1623.4h8v8h-8zM294.4 1623.4h8v8h-8zM334.4 1623.4h8v8h-8zM550.4 1623.4h56v8h-56zM198.4 1631.4h16v8h-16zM294.4 1631.4h8v8h-8zM326.4 1631.4h8v8h-8zM550.4 1631.4h56v8h-56zM206.4 1639.4h8v8h-8zM294.4 1639.4h16v8h-16zM326.4 1639.4h8v8h-8zM550.4 1639.4h56v8h-56zM206.4 1647.4h16v8h-16zM302.4 1647.4h32v8h-32zM550.4 1647.4h56v8h-56zM214.4 1655.4h8v8h-8zM302.4 1655.4h24v8h-24zM550.4 1655.4h48v8h-48zM214.4 1663.4h16v8h-16zM302.4 1663.4h16v8h-16zM542.4 1663.4h56v8h-56z"/>
<path fill="#EFF0F8" d="M534.4 1215.4h24v8h-24zM654.4 1215.4h24v8h-24zM526.4 1223.4h32v8h-32zM654.4 1223.4h24v8h-24zM526.4 1231.4h32v8h-32zM654.4 1231.4h24v8h-24zM526.4 1239.4h32v8h-32zM654.4 1239.4h24v8h-24zM526.4 1247.4h32v8h-32zM654.4 1247.4h24v8h-24zM526.4 1255.4h32v8h-32zM654.4 1255.4h24v8h-24zM534.4 1263.4h24v8h-24zM654.4 1263.4h24v8h-24zM454.4 1271.4h24v8h-24zM542.4 1271.4h16v8h-16zM654.4 1271.4h24v8h-24zM446.4 1279.4h40v8h-40zM542.4 1279.4h16v8h-16zM654.4 1279.4h24v8h-24zM438.4 1287.4h48v8h-48zM550.4 1287.4h16v8h-16zM654.4 1287.4h24v8h-24zM422.4 1295.4h64v8h-64zM550.4 1295.4h16v8h-16zM654.4 1295.4h24v8h-24zM390.4 1303.4h48v8h-48zM462.4 1303.4h16v8h-16zM558.4 1303.4h16v8h-16zM646.4 1303.4h24v8h-24zM366.4 1311.4h48v8h-48zM462.4 1311.4h16v8h-16zM566.4 1311.4h16v8h-16zM638.4 1311.4h32v8h-32zM350.4 1319.4h40v8h-40zM462.4 1319.4h16v8h-16zM566.4 1319.4h24v8h-24zM630.4 1319.4h32v8h-32zM342.4 1327.4h40v8h-40zM470.4 1327.4h8v8h-8zM574.4 1327.4h32v8h-32zM622.4 1327.4h32v8h-32zM334.4 1335.4h32v8h-32zM470.4 1335.4h8v8h-8zM582.4 1335.4h72v8h-72zM326.4 1343.4h32v8h-32zM470.4 1343.4h8v8h-8zM582.4 1343.4h64v8h-64zM318.4 1351.4h40v8h-40zM470.4 1351.4h16v8h-16zM590.4 1351.4h56v8h-56zM310.4 1359.4h40v8h-40zM470.4 1359.4h16v8h-16zM598.4 1359.4h40v8h-40zM302.4 1367.4h40v8h-40zM478.4 1367.4h8v8h-8zM598.4 1367.4h32v8h-32zM294.4 1375.4h40v8h-40zM478.4 1375.4h8v8h-8zM606.4 1375.4h16v8h-16zM286.4 1383.4h48v8h-48zM478.4 1383.4h16v8h-16zM278.4 1391.4h48v8h-48zM486.4 1391.4h16v8h-16zM270.4 1399.4h56v8h-56zM486.4 1399.4h16v8h-16zM262.4 1407.4h64v8h-64zM494.4 1407.4h16v8h-16zM254.4 1415.4h72v8h-72zM494.4 1415.4h24v8h-24zM246.4 1423.4h80v8h-80zM502.4 1423.4h24v8h-24zM238.4 1431.4h96v8h-96zM502.4 1431.4h24v8h-24zM230.4 1439.4h112v8h-112zM510.4 1439.4h24v8h-24zM222.4 1447.4h24v8h-24zM278.4 1447.4h64v8h-64zM510.4 1447.4h24v8h-24zM222.4 1455.4h16v8h-16zM286.4 1455.4h56v8h-56zM518.4 1455.4h24v8h-24zM214.4 1463.4h16v8h-16zM286.4 1463.4h24v8h-24zM326.4 1463.4h16v8h-16zM518.4 1463.4h24v8h-24zM214.4 1471.4h16v8h-16zM294.4 1471.4h16v8h-16zM334.4 1471.4h8v8h-8zM518.4 1471.4h32v8h-32zM214.4 1479.4h8v8h-8zM294.4 1479.4h16v8h-16zM334.4 1479.4h8v8h-8zM518.4 1479.4h32v8h-32zM214.4 1487.4h8v8h-8zM294.4 1487.4h8v8h-8zM334.4 1487.4h8v8h-8zM526.4 1487.4h32v8h-32zM214.4 1495.4h8v8h-8zM294.4 1495.4h8v8h-8zM334.4 1495.4h8v8h-8zM526.4 1495.4h40v8h-40zM214.4 1503.4h8v8h-8zM286.4 1503.4h16v8h-16zM334.4 1503.4h8v8h-8zM534.4 1503.4h40v8h-40zM214.4 1511.4h8v8h-8zM286.4 1511.4h8v8h-8zM342.4 1511.4h8v8h-8zM534.4 1511.4h40v8h-40zM222.4 1519.4h8v8h-8zM286.4 1519.4h8v8h-8zM342.4 1519.4h8v8h-8zM534.4 1519.4h40v8h-40zM222.4 1527.4h8v8h-8zM286.4 1527.4h8v8h-8zM342.4 1527.4h8v8h-8zM542.4 1527.4h32v8h-32zM222.4 1535.4h8v8h-8zM278.4 1535.4h8v8h-8zM342.4 1535.4h8v8h-8zM542.4 1535.4h32v8h-32zM222.4 1543.4h8v8h-8zM278.4 1543.4h8v8h-8zM342.4 1543.4h8v8h-8zM542.4 1543.4h32v8h-32zM214.4 1551.4h8v8h-8zM342.4 1551.4h8v8h-8zM542.4 1551.4h32v8h-32zM214.4 1559.4h8v8h-8zM286.4 1559.4h8v8h-8zM350.4 1559.4h8v8h-8zM542.4 1559.4h24v8h-24zM206.4 1567.4h8v8h-8zM286.4 1567.4h8v8h-8zM350.4 1567.4h8v8h-8zM542.4 1567.4h24v8h-24zM198.4 1575.4h16v8h-16zM286.4 1575.4h8v8h-8zM350.4 1575.4h8v8h-8zM542.4 1575.4h24v8h-24zM198.4 1583.4h8v8h-8zM286.4 1583.4h8v8h-8zM350.4 1583.4h8v8h-8zM534.4 1583.4h32v8h-32zM198.4 1591.4h8v8h-8zM286.4 1591.4h8v8h-8zM534.4 1591.4h32v8h-32zM198.4 1599.4h8v8h-8zM286.4 1599.4h8v8h-8zM342.4 1599.4h8v8h-8zM526.4 1599.4h32v8h-32zM198.4 1607.4h8v8h-8zM286.4 1607.4h8v8h-8zM342.4 1607.4h8v8h-8zM526.4 1607.4h32v8h-32zM198.4 1615.4h16v8h-16zM286.4 1615.4h8v8h-8zM342.4 1615.4h8v8h-8zM518.4 1615.4h40v8h-40zM206.4 1623.4h8v8h-8zM518.4 1623.4h32v8h-32zM214.4 1631.4h8v8h-8zM334.4 1631.4h8v8h-8zM510.4 1631.4h40v8h-40zM214.4 1639.4h8v8h-8zM286.4 1639.4h8v8h-8zM334.4 1639.4h8v8h-8zM510.4 1639.4h40v8h-40zM222.4 1647.4h8v8h-8zM286.4 1647.4h16v8h-16zM334.4 1647.4h8v8h-8zM510.4 1647.4h40v8h-40zM222.4 1655.4h16v8h-16zM286.4 1655.4h16v8h-16zM326.4 1655.4h8v8h-8zM510.4 1655.4h40v8h-40zM230.4 1663.4h8v8h-8zM286.4 1663.4h16v8h-16zM318.4 1663.4h16v8h-16zM510.4 1663.4h32v8h-32z"/>
<path fill="#EAECF6" d="M558.4 1215.4h32v8h-32zM622.4 1215.4h32v8h-32zM558.4 1223.4h24v8h-24zM630.4 1223.4h24v8h-24zM558.4 1231.4h16v8h-16zM630.4 1231.4h24v8h-24zM558.4 1239.4h16v8h-16zM638.4 1239.4h16v8h-16zM558.4 1247.4h16v8h-16zM638.4 1247.4h16v8h-16zM558.4 1255.4h16v8h-16zM638.4 1255.4h16v8h-16zM558.4 1263.4h16v8h-16zM638.4 1263.4h16v8h-16zM558.4 1271.4h16v8h-16zM638.4 1271.4h16v8h-16zM558.4 1279.4h16v8h-16zM638.4 1279.4h16v8h-16zM566.4 1287.4h16v8h-16zM638.4 1287.4h16v8h-16zM566.4 1295.4h16v8h-16zM630.4 1295.4h24v8h-24zM438.4 1303.4h24v8h-24zM574.4 1303.4h24v8h-24zM622.4 1303.4h24v8h-24zM414.4 1311.4h48v8h-48zM582.4 1311.4h56v8h-56zM390.4 1319.4h32v8h-32zM446.4 1319.4h16v8h-16zM590.4 1319.4h40v8h-40zM382.4 1327.4h24v8h-24zM454.4 1327.4h16v8h-16zM606.4 1327.4h16v8h-16zM366.4 1335.4h32v8h-32zM462.4 1335.4h8v8h-8zM358.4 1343.4h32v8h-32zM462.4 1343.4h8v8h-8zM358.4 1351.4h24v8h-24zM462.4 1351.4h8v8h-8zM350.4 1359.4h24v8h-24zM462.4 1359.4h8v8h-8zM342.4 1367.4h24v8h-24zM462.4 1367.4h16v8h-16zM334.4 1375.4h24v8h-24zM462.4 1375.4h16v8h-16zM334.4 1383.4h24v8h-24zM462.4 1383.4h16v8h-16zM326.4 1391.4h24v8h-24zM462.4 1391.4h24v8h-24zM326.4 1399.4h16v8h-16zM470.4 1399.4h16v8h-16zM326.4 1407.4h16v8h-16zM478.4 1407.4h16v8h-16zM326.4 1415.4h16v8h-16zM478.4 1415.4h16v8h-16zM326.4 1423.4h16v8h-16zM486.4 1423.4h16v8h-16zM334.4 1431.4h16v8h-16zM494.4 1431.4h8v8h-8zM342.4 1439.4h8v8h-8zM494.4 1439.4h16v8h-16zM246.4 1447.4h32v8h-32zM342.4 1447.4h8v8h-8zM494.4 1447.4h16v8h-16zM238.4 1455.4h48v8h-48zM342.4 1455.4h8v8h-8zM502.4 1455.4h16v8h-16zM230.4 1463.4h56v8h-56zM342.4 1463.4h8v8h-8zM502.4 1463.4h16v8h-16zM230.4 1471.4h16v8h-16zM270.4 1471.4h24v8h-24zM342.4 1471.4h8v8h-8zM502.4 1471.4h16v8h-16zM222.4 1479.4h16v8h-16zM278.4 1479.4h16v8h-16zM342.4 1479.4h8v8h-8zM510.4 1479.4h8v8h-8zM222.4 1487.4h16v8h-16zM278.4 1487.4h16v8h-16zM342.4 1487.4h8v8h-8zM510.4 1487.4h16v8h-16zM222.4 1495.4h16v8h-16zM278.4 1495.4h16v8h-16zM342.4 1495.4h8v8h-8zM510.4 1495.4h16v8h-16zM222.4 1503.4h16v8h-16zM278.4 1503.4h8v8h-8zM342.4 1503.4h8v8h-8zM518.4 1503.4h16v8h-16zM222.4 1511.4h16v8h-16zM278.4 1511.4h8v8h-8zM518.4 1511.4h16v8h-16zM230.4 1519.4h8v8h-8zM270.4 1519.4h16v8h-16zM518.4 1519.4h16v8h-16zM230.4 1527.4h8v8h-8zM270.4 1527.4h16v8h-16zM350.4 1527.4h8v8h-8zM526.4 1527.4h16v8h-16zM230.4 1535.4h8v8h-8zM270.4 1535.4h8v8h-8zM350.4 1535.4h8v8h-8zM526.4 1535.4h16v8h-16zM270.4 1543.4h8v8h-8zM350.4 1543.4h8v8h-8zM526.4 1543.4h16v8h-16zM222.4 1551.4h8v8h-8zM278.4 1551.4h8v8h-8zM350.4 1551.4h8v8h-8zM526.4 1551.4h16v8h-16zM222.4 1559.4h8v8h-8zM278.4 1559.4h8v8h-8zM358.4 1559.4h8v8h-8zM526.4 1559.4h16v8h-16zM214.4 1567.4h8v8h-8zM278.4 1567.4h8v8h-8zM358.4 1567.4h8v8h-8zM526.4 1567.4h16v8h-16zM278.4 1575.4h8v8h-8zM358.4 1575.4h8v8h-8zM518.4 1575.4h24v8h-24zM206.4 1583.4h8v8h-8zM278.4 1583.4h8v8h-8zM358.4 1583.4h8v8h-8zM518.4 1583.4h16v8h-16zM206.4 1591.4h8v8h-8zM278.4 1591.4h8v8h-8zM350.4 1591.4h8v8h-8zM510.4 1591.4h24v8h-24zM206.4 1599.4h8v8h-8zM350.4 1599.4h8v8h-8zM502.4 1599.4h24v8h-24zM206.4 1607.4h8v8h-8zM350.4 1607.4h8v8h-8zM494.4 1607.4h32v8h-32zM486.4 1615.4h32v8h-32zM214.4 1623.4h8v8h-8zM286.4 1623.4h8v8h-8zM342.4 1623.4h8v8h-8zM478.4 1623.4h40v8h-40zM222.4 1631.4h8v8h-8zM286.4 1631.4h8v8h-8zM342.4 1631.4h8v8h-8zM478.4 1631.4h32v8h-32zM222.4 1639.4h8v8h-8zM342.4 1639.4h8v8h-8zM478.4 1639.4h32v8h-32zM230.4 1647.4h8v8h-8zM278.4 1647.4h8v8h-8zM478.4 1647.4h32v8h-32zM238.4 1655.4h8v8h-8zM278.4 1655.4h8v8h-8zM334.4 1655.4h8v8h-8zM478.4 1655.4h32v8h-32zM238.4 1663.4h48v8h-48zM334.4 1663.4h8v8h-8zM478.4 1663.4h32v8h-32z"/>
<path fill="#E5E7F5" d="M590.4 1215.4h32v8h-32zM582.4 1223.4h48v8h-48zM574.4 1231.4h56v8h-56zM574.4 1239.4h24v8h-24zM614.4 1239.4h24v8h-24zM574.4 1247.4h16v8h-16zM622.4 1247.4h16v8h-16zM574.4 1255.4h8v8h-8zM622.4 1255.4h16v8h-16zM574.4 1263.4h8v8h-8zM622.4 1263.4h16v8h-16zM574.4 1271.4h8v8h-8zM622.4 1271.4h16v8h-16zM574.4 1279.4h16v8h-16zM622.4 1279.4h16v8h-16zM582.4 1287.4h16v8h-16zM606.4 1287.4h32v8h-32zM582.4 1295.4h48v8h-48zM598.4 1303.4h24v8h-24zM422.4 1319.4h24v8h-24zM406.4 1327.4h48v8h-48zM398.4 1335.4h16v8h-16zM446.4 1335.4h16v8h-16zM390.4 1343.4h16v8h-16zM454.4 1343.4h8v8h-8zM382.4 1351.4h24v8h-24zM454.4 1351.4h8v8h-8zM374.4 1359.4h32v8h-32zM446.4 1359.4h16v8h-16zM366.4 1367.4h32v8h-32zM446.4 1367.4h16v8h-16zM358.4 1375.4h32v8h-32zM438.4 1375.4h24v8h-24zM358.4 1383.4h16v8h-16zM422.4 1383.4h40v8h-40zM350.4 1391.4h16v8h-16zM430.4 1391.4h32v8h-32zM342.4 1399.4h16v8h-16zM446.4 1399.4h24v8h-24zM342.4 1407.4h16v8h-16zM454.4 1407.4h24v8h-24zM342.4 1415.4h16v8h-16zM462.4 1415.4h16v8h-16zM342.4 1423.4h16v8h-16zM470.4 1423.4h16v8h-16zM350.4 1431.4h8v8h-8zM478.4 1431.4h16v8h-16zM350.4 1439.4h8v8h-8zM486.4 1439.4h8v8h-8zM350.4 1447.4h8v8h-8zM486.4 1447.4h8v8h-8zM350.4 1455.4h8v8h-8zM486.4 1455.4h16v8h-16zM350.4 1463.4h8v8h-8zM494.4 1463.4h8v8h-8zM246.4 1471.4h24v8h-24zM350.4 1471.4h8v8h-8zM494.4 1471.4h8v8h-8zM238.4 1479.4h40v8h-40zM350.4 1479.4h8v8h-8zM494.4 1479.4h16v8h-16zM238.4 1487.4h40v8h-40zM350.4 1487.4h8v8h-8zM502.4 1487.4h8v8h-8zM238.4 1495.4h8v8h-8zM262.4 1495.4h16v8h-16zM350.4 1495.4h8v8h-8zM502.4 1495.4h8v8h-8zM238.4 1503.4h16v8h-16zM262.4 1503.4h16v8h-16zM350.4 1503.4h8v8h-8zM502.4 1503.4h16v8h-16zM238.4 1511.4h40v8h-40zM350.4 1511.4h8v8h-8zM510.4 1511.4h8v8h-8zM238.4 1519.4h32v8h-32zM350.4 1519.4h8v8h-8zM510.4 1519.4h8v8h-8zM238.4 1527.4h32v8h-32zM510.4 1527.4h16v8h-16zM238.4 1535.4h32v8h-32zM358.4 1535.4h8v8h-8zM518.4 1535.4h8v8h-8zM230.4 1543.4h16v8h-16zM262.4 1543.4h8v8h-8zM358.4 1543.4h8v8h-8zM518.4 1543.4h8v8h-8zM230.4 1551.4h8v8h-8zM270.4 1551.4h8v8h-8zM358.4 1551.4h8v8h-8zM518.4 1551.4h8v8h-8zM270.4 1559.4h8v8h-8zM518.4 1559.4h8v8h-8zM222.4 1567.4h8v8h-8zM270.4 1567.4h8v8h-8zM366.4 1567.4h8v8h-8zM510.4 1567.4h16v8h-16zM214.4 1575.4h8v8h-8zM270.4 1575.4h8v8h-8zM366.4 1575.4h8v8h-8zM502.4 1575.4h16v8h-16zM214.4 1583.4h8v8h-8zM366.4 1583.4h8v8h-8zM494.4 1583.4h24v8h-24zM214.4 1591.4h8v8h-8zM358.4 1591.4h8v8h-8zM486.4 1591.4h24v8h-24zM214.4 1599.4h8v8h-8zM278.4 1599.4h8v8h-8zM358.4 1599.4h8v8h-8zM470.4 1599.4h32v8h-32zM214.4 1607.4h8v8h-8zM278.4 1607.4h8v8h-8zM462.4 1607.4h32v8h-32zM214.4 1615.4h8v8h-8zM278.4 1615.4h8v8h-8zM350.4 1615.4h8v8h-8zM454.4 1615.4h32v8h-32zM222.4 1623.4h8v8h-8zM278.4 1623.4h8v8h-8zM350.4 1623.4h8v8h-8zM454.4 1623.4h24v8h-24zM278.4 1631.4h8v8h-8zM454.4 1631.4h24v8h-24zM230.4 1639.4h8v8h-8zM278.4 1639.4h8v8h-8zM454.4 1639.4h24v8h-24zM238.4 1647.4h8v8h-8zM270.4 1647.4h8v8h-8zM342.4 1647.4h8v8h-8zM454.4 1647.4h24v8h-24zM246.4 1655.4h32v8h-32zM342.4 1655.4h8v8h-8zM454.4 1655.4h24v8h-24zM342.4 1663.4h8v8h-8zM454.4 1663.4h24v8h-24z"/>
<path fill="#DFE2F2" d="M598.4 1239.4h16v8h-16zM590.4 1247.4h32v8h-32zM582.4 1255.4h40v8h-40zM582.4 1263.4h40v8h-40zM582.4 1271.4h40v8h-40zM590.4 1279.4h32v8h-32zM598.4 1287.4h8v8h-8zM414.4 1335.4h32v8h-32zM406.4 1343.4h48v8h-48zM406.4 1351.4h48v8h-48zM406.4 1359.4h40v8h-40zM398.4 1367.4h48v8h-48zM390.4 1375.4h48v8h-48zM374.4 1383.4h48v8h-48zM366.4 1391.4h64v8h-64zM358.4 1399.4h16v8h-16zM414.4 1399.4h32v8h-32zM358.4 1407.4h8v8h-8zM430.4 1407.4h24v8h-24zM358.4 1415.4h8v8h-8zM446.4 1415.4h16v8h-16zM358.4 1423.4h8v8h-8zM462.4 1423.4h8v8h-8zM358.4 1431.4h8v8h-8zM470.4 1431.4h8v8h-8zM358.4 1439.4h8v8h-8zM470.4 1439.4h16v8h-16zM358.4 1447.4h8v8h-8zM478.4 1447.4h8v8h-8zM358.4 1455.4h8v8h-8zM478.4 1455.4h8v8h-8zM358.4 1463.4h8v8h-8zM486.4 1463.4h8v8h-8zM358.4 1471.4h8v8h-8zM486.4 1471.4h8v8h-8zM358.4 1479.4h8v8h-8zM486.4 1479.4h8v8h-8zM358.4 1487.4h8v8h-8zM494.4 1487.4h8v8h-8zM246.4 1495.4h16v8h-16zM358.4 1495.4h8v8h-8zM494.4 1495.4h8v8h-8zM254.4 1503.4h8v8h-8zM358.4 1503.4h8v8h-8zM494.4 1503.4h8v8h-8zM358.4 1511.4h8v8h-8zM502.4 1511.4h8v8h-8zM358.4 1519.4h8v8h-8zM502.4 1519.4h8v8h-8zM358.4 1527.4h8v8h-8zM502.4 1527.4h8v8h-8zM510.4 1535.4h8v8h-8zM246.4 1543.4h16v8h-16zM366.4 1543.4h8v8h-8zM510.4 1543.4h8v8h-8zM238.4 1551.4h32v8h-32zM366.4 1551.4h8v8h-8zM510.4 1551.4h8v8h-8zM230.4 1559.4h16v8h-16zM262.4 1559.4h8v8h-8zM366.4 1559.4h16v8h-16zM502.4 1559.4h16v8h-16zM230.4 1567.4h8v8h-8zM262.4 1567.4h8v8h-8zM374.4 1567.4h8v8h-8zM502.4 1567.4h8v8h-8zM222.4 1575.4h8v8h-8zM374.4 1575.4h8v8h-8zM494.4 1575.4h8v8h-8zM222.4 1583.4h8v8h-8zM270.4 1583.4h8v8h-8zM374.4 1583.4h8v8h-8zM478.4 1583.4h16v8h-16zM222.4 1591.4h8v8h-8zM270.4 1591.4h8v8h-8zM366.4 1591.4h16v8h-16zM454.4 1591.4h32v8h-32zM222.4 1599.4h8v8h-8zM270.4 1599.4h8v8h-8zM366.4 1599.4h8v8h-8zM446.4 1599.4h24v8h-24zM222.4 1607.4h8v8h-8zM270.4 1607.4h8v8h-8zM358.4 1607.4h8v8h-8zM438.4 1607.4h24v8h-24zM222.4 1615.4h8v8h-8zM358.4 1615.4h8v8h-8zM430.4 1615.4h24v8h-24zM430.4 1623.4h24v8h-24zM230.4 1631.4h8v8h-8zM270.4 1631.4h8v8h-8zM350.4 1631.4h8v8h-8zM430.4 1631.4h24v8h-24zM238.4 1639.4h8v8h-8zM270.4 1639.4h8v8h-8zM350.4 1639.4h8v8h-8zM430.4 1639.4h24v8h-24zM246.4 1647.4h24v8h-24zM350.4 1647.4h8v8h-8zM430.4 1647.4h24v8h-24zM350.4 1655.4h8v8h-8zM438.4 1655.4h16v8h-16zM350.4 1663.4h8v8h-8zM438.4 1663.4h16v8h-16z"/>
<path fill="#DADCF0" d="M374.4 1399.4h40v8h-40zM366.4 1407.4h16v8h-16zM414.4 1407.4h16v8h-16zM366.4 1415.4h8v8h-8zM430.4 1415.4h16v8h-16zM446.4 1423.4h16v8h-16zM454.4 1431.4h16v8h-16zM462.4 1439.4h8v8h-8zM470.4 1447.4h8v8h-8zM470.4 1455.4h8v8h-8zM478.4 1463.4h8v8h-8zM478.4 1471.4h8v8h-8zM478.4 1479.4h8v8h-8zM486.4 1487.4h8v8h-8zM486.4 1495.4h8v8h-8zM494.4 1511.4h8v8h-8zM366.4 1519.4h8v8h-8zM494.4 1519.4h8v8h-8zM366.4 1527.4h8v8h-8zM366.4 1535.4h8v8h-8zM502.4 1535.4h8v8h-8zM374.4 1543.4h8v8h-8zM502.4 1543.4h8v8h-8zM374.4 1551.4h8v8h-8zM502.4 1551.4h8v8h-8zM246.4 1559.4h16v8h-16zM382.4 1559.4h8v8h-8zM494.4 1559.4h8v8h-8zM238.4 1567.4h24v8h-24zM382.4 1567.4h8v8h-8zM486.4 1567.4h16v8h-16zM230.4 1575.4h8v8h-8zM262.4 1575.4h8v8h-8zM382.4 1575.4h16v8h-16zM470.4 1575.4h24v8h-24zM230.4 1583.4h8v8h-8zM262.4 1583.4h8v8h-8zM382.4 1583.4h16v8h-16zM454.4 1583.4h24v8h-24zM230.4 1591.4h8v8h-8zM262.4 1591.4h8v8h-8zM382.4 1591.4h16v8h-16zM438.4 1591.4h16v8h-16zM230.4 1599.4h8v8h-8zM262.4 1599.4h8v8h-8zM374.4 1599.4h16v8h-16zM422.4 1599.4h24v8h-24zM230.4 1607.4h8v8h-8zM366.4 1607.4h16v8h-16zM414.4 1607.4h24v8h-24zM230.4 1615.4h8v8h-8zM270.4 1615.4h8v8h-8zM366.4 1615.4h8v8h-8zM414.4 1615.4h16v8h-16zM230.4 1623.4h8v8h-8zM270.4 1623.4h8v8h-8zM358.4 1623.4h8v8h-8zM414.4 1623.4h16v8h-16zM238.4 1631.4h8v8h-8zM262.4 1631.4h8v8h-8zM358.4 1631.4h8v8h-8zM414.4 1631.4h16v8h-16zM246.4 1639.4h24v8h-24zM358.4 1639.4h8v8h-8zM414.4 1639.4h16v8h-16zM358.4 1647.4h8v8h-8zM422.4 1647.4h8v8h-8zM358.4 1655.4h8v8h-8zM422.4 1655.4h16v8h-16zM358.4 1663.4h8v8h-8zM422.4 1663.4h16v8h-16z"/>
<path fill="#D4D7EE" d="M382.4 1407.4h32v8h-32zM374.4 1415.4h8v8h-8zM414.4 1415.4h16v8h-16zM366.4 1423.4h8v8h-8zM430.4 1423.4h16v8h-16zM366.4 1431.4h8v8h-8zM446.4 1431.4h8v8h-8zM366.4 1439.4h8v8h-8zM454.4 1439.4h8v8h-8zM366.4 1447.4h8v8h-8zM462.4 1447.4h8v8h-8zM366.4 1455.4h8v8h-8zM462.4 1455.4h8v8h-8zM366.4 1463.4h8v8h-8zM470.4 1463.4h8v8h-8zM366.4 1471.4h8v8h-8zM470.4 1471.4h8v8h-8zM366.4 1479.4h8v8h-8zM366.4 1487.4h8v8h-8zM478.4 1487.4h8v8h-8zM366.4 1495.4h8v8h-8zM478.4 1495.4h8v8h-8zM366.4 1503.4h8v8h-8zM486.4 1503.4h8v8h-8zM366.4 1511.4h8v8h-8zM486.4 1511.4h8v8h-8zM486.4 1519.4h8v8h-8zM374.4 1527.4h8v8h-8zM494.4 1527.4h8v8h-8zM374.4 1535.4h8v8h-8zM494.4 1535.4h8v8h-8zM382.4 1543.4h8v8h-8zM494.4 1543.4h8v8h-8zM382.4 1551.4h8v8h-8zM494.4 1551.4h8v8h-8zM390.4 1559.4h8v8h-8zM486.4 1559.4h8v8h-8zM390.4 1567.4h16v8h-16zM478.4 1567.4h8v8h-8zM238.4 1575.4h24v8h-24zM398.4 1575.4h16v8h-16zM454.4 1575.4h16v8h-16zM238.4 1583.4h24v8h-24zM398.4 1583.4h56v8h-56zM238.4 1591.4h24v8h-24zM398.4 1591.4h40v8h-40zM238.4 1599.4h8v8h-8zM254.4 1599.4h8v8h-8zM390.4 1599.4h32v8h-32zM238.4 1607.4h8v8h-8zM262.4 1607.4h8v8h-8zM382.4 1607.4h32v8h-32zM238.4 1615.4h8v8h-8zM262.4 1615.4h8v8h-8zM374.4 1615.4h8v8h-8zM398.4 1615.4h16v8h-16zM238.4 1623.4h8v8h-8zM262.4 1623.4h8v8h-8zM366.4 1623.4h8v8h-8zM406.4 1623.4h8v8h-8zM246.4 1631.4h16v8h-16zM366.4 1631.4h8v8h-8zM406.4 1631.4h8v8h-8zM406.4 1639.4h8v8h-8zM406.4 1647.4h16v8h-16zM366.4 1655.4h8v8h-8zM406.4 1655.4h16v8h-16zM366.4 1663.4h16v8h-16zM398.4 1663.4h24v8h-24z"/>
<path fill="#CFD1EB" d="M382.4 1415.4h32v8h-32zM374.4 1423.4h8v8h-8zM422.4 1423.4h8v8h-8zM374.4 1431.4h8v8h-8zM438.4 1431.4h8v8h-8zM374.4 1439.4h8v8h-8zM446.4 1439.4h8v8h-8zM374.4 1447.4h8v8h-8zM454.4 1447.4h8v8h-8zM374.4 1463.4h8v8h-8zM462.4 1463.4h8v8h-8zM374.4 1471.4h8v8h-8zM462.4 1471.4h8v8h-8zM470.4 1479.4h8v8h-8zM470.4 1487.4h8v8h-8zM478.4 1503.4h8v8h-8zM374.4 1511.4h8v8h-8zM478.4 1511.4h8v8h-8zM374.4 1519.4h8v8h-8zM486.4 1527.4h8v8h-8zM382.4 1535.4h8v8h-8zM486.4 1535.4h8v8h-8zM486.4 1543.4h8v8h-8zM390.4 1551.4h8v8h-8zM486.4 1551.4h8v8h-8zM398.4 1559.4h8v8h-8zM478.4 1559.4h8v8h-8zM406.4 1567.4h8v8h-8zM462.4 1567.4h16v8h-16zM414.4 1575.4h40v8h-40zM246.4 1599.4h8v8h-8zM246.4 1607.4h16v8h-16zM246.4 1615.4h16v8h-16zM382.4 1615.4h16v8h-16zM246.4 1623.4h16v8h-16zM374.4 1623.4h32v8h-32zM374.4 1631.4h8v8h-8zM390.4 1631.4h16v8h-16zM366.4 1639.4h16v8h-16zM390.4 1639.4h16v8h-16zM366.4 1647.4h40v8h-40zM374.4 1655.4h32v8h-32zM382.4 1663.4h16v8h-16z"/>
<path fill="#C9CCE9" d="M382.4 1423.4h40v8h-40zM382.4 1431.4h8v8h-8zM422.4 1431.4h16v8h-16zM438.4 1439.4h8v8h-8zM446.4 1447.4h8v8h-8zM374.4 1455.4h8v8h-8zM454.4 1455.4h8v8h-8zM454.4 1463.4h8v8h-8zM374.4 1479.4h8v8h-8zM462.4 1479.4h8v8h-8zM374.4 1487.4h8v8h-8zM462.4 1487.4h8v8h-8zM374.4 1495.4h8v8h-8zM470.4 1495.4h8v8h-8zM374.4 1503.4h8v8h-8zM470.4 1503.4h8v8h-8zM382.4 1519.4h8v8h-8zM478.4 1519.4h8v8h-8zM382.4 1527.4h8v8h-8zM478.4 1527.4h8v8h-8zM390.4 1535.4h8v8h-8zM390.4 1543.4h8v8h-8zM398.4 1551.4h8v8h-8zM478.4 1551.4h8v8h-8zM406.4 1559.4h8v8h-8zM470.4 1559.4h8v8h-8zM414.4 1567.4h16v8h-16zM446.4 1567.4h16v8h-16zM382.4 1631.4h8v8h-8zM382.4 1639.4h8v8h-8z"/>
<path fill="#C6C9E7" d="M390.4 1431.4h32v8h-32zM382.4 1439.4h8v8h-8zM430.4 1439.4h8v8h-8zM382.4 1447.4h8v8h-8zM438.4 1447.4h8v8h-8zM382.4 1455.4h8v8h-8zM446.4 1455.4h8v8h-8zM382.4 1463.4h8v8h-8zM446.4 1463.4h8v8h-8zM382.4 1471.4h8v8h-8zM454.4 1471.4h8v8h-8zM454.4 1479.4h8v8h-8zM462.4 1495.4h8v8h-8zM382.4 1503.4h8v8h-8zM382.4 1511.4h8v8h-8zM470.4 1511.4h8v8h-8zM390.4 1519.4h8v8h-8zM390.4 1527.4h8v8h-8zM398.4 1535.4h8v8h-8zM478.4 1535.4h8v8h-8zM398.4 1543.4h8v8h-8zM478.4 1543.4h8v8h-8zM406.4 1551.4h8v8h-8zM470.4 1551.4h8v8h-8zM414.4 1559.4h8v8h-8zM462.4 1559.4h8v8h-8zM430.4 1567.4h16v8h-16z"/>
<path fill="#C3C7E5" d="M390.4 1439.4h16v8h-16zM414.4 1439.4h16v8h-16zM390.4 1447.4h8v8h-8zM430.4 1447.4h8v8h-8zM438.4 1455.4h8v8h-8zM446.4 1471.4h8v8h-8zM382.4 1479.4h8v8h-8zM446.4 1479.4h8v8h-8zM382.4 1487.4h8v8h-8zM454.4 1487.4h8v8h-8zM382.4 1495.4h8v8h-8zM454.4 1495.4h8v8h-8zM462.4 1503.4h8v8h-8zM390.4 1511.4h8v8h-8zM462.4 1511.4h8v8h-8zM398.4 1519.4h8v8h-8zM470.4 1519.4h8v8h-8zM398.4 1527.4h8v8h-8zM470.4 1527.4h8v8h-8zM406.4 1535.4h8v8h-8zM470.4 1535.4h8v8h-8zM406.4 1543.4h8v8h-8zM470.4 1543.4h8v8h-8zM414.4 1551.4h8v8h-8zM422.4 1559.4h40v8h-40z"/>
<path fill="#C0C4E4" d="M406.4 1439.4h8v8h-8zM398.4 1447.4h8v8h-8zM422.4 1447.4h8v8h-8zM390.4 1455.4h8v8h-8zM430.4 1455.4h8v8h-8zM390.4 1463.4h8v8h-8zM438.4 1463.4h8v8h-8zM390.4 1471.4h8v8h-8zM438.4 1471.4h8v8h-8zM390.4 1479.4h8v8h-8zM438.4 1479.4h8v8h-8zM390.4 1487.4h8v8h-8zM446.4 1487.4h8v8h-8zM390.4 1495.4h8v8h-8zM446.4 1495.4h8v8h-8zM390.4 1503.4h16v8h-16zM454.4 1503.4h8v8h-8zM398.4 1511.4h8v8h-8zM454.4 1511.4h8v8h-8zM406.4 1519.4h8v8h-8zM462.4 1519.4h8v8h-8zM406.4 1527.4h8v8h-8zM462.4 1527.4h8v8h-8zM414.4 1535.4h8v8h-8zM414.4 1543.4h8v8h-8zM422.4 1551.4h16v8h-16zM462.4 1551.4h8v8h-8z"/>
<path fill="#BEC1E2" d="M406.4 1447.4h16v8h-16zM398.4 1455.4h32v8h-32zM398.4 1463.4h8v8h-8zM422.4 1463.4h16v8h-16zM398.4 1471.4h8v8h-8zM422.4 1471.4h16v8h-16zM398.4 1479.4h8v8h-8zM422.4 1479.4h16v8h-16zM398.4 1487.4h48v8h-48zM398.4 1495.4h24v8h-24zM430.4 1495.4h16v8h-16zM406.4 1503.4h16v8h-16zM438.4 1503.4h16v8h-16zM406.4 1511.4h16v8h-16zM446.4 1511.4h8v8h-8zM414.4 1519.4h8v8h-8zM454.4 1519.4h8v8h-8zM414.4 1527.4h16v8h-16zM454.4 1527.4h8v8h-8zM422.4 1535.4h8v8h-8zM462.4 1535.4h8v8h-8zM422.4 1543.4h16v8h-16zM462.4 1543.4h8v8h-8zM438.4 1551.4h24v8h-24z"/>
<path fill="#BBBFE0" d="M406.4 1463.4h16v8h-16zM406.4 1471.4h16v8h-16zM406.4 1479.4h16v8h-16zM422.4 1495.4h8v8h-8zM422.4 1503.4h16v8h-16zM422.4 1511.4h24v8h-24zM422.4 1519.4h32v8h-32zM430.4 1527.4h24v8h-24zM430.4 1535.4h32v8h-32zM438.4 1543.4h24v8h-24z"/>
</g></g>
<linearGradient id="heg" x1="0" y1="1" x2="0" y2="0">
<stop offset="0%" stop-color="#FDFDFE"/>
<stop offset="6%" stop-color="#E6E8F5"/>
<stop offset="12.5%" stop-color="#C9CCE9"/>
<stop offset="20%" stop-color="#B8BCDE"/>
<stop offset="29%" stop-color="#BBBBC0"/>
<stop offset="37.5%" stop-color="#C6C1A3"/>
<stop offset="46%" stop-color="#D1C486"/>
<stop offset="54%" stop-color="#DCC66D"/>
<stop offset="62.5%" stop-color="#E2C259"/>
<stop offset="71%" stop-color="#E3B64F"/>
<stop offset="79%" stop-color="#E1A84D"/>
<stop offset="87.5%" stop-color="#DF9749"/>
<stop offset="96%" stop-color="#DB8844"/>
<stop offset="100%" stop-color="#D98040"/>
</linearGradient>
<rect x="690.5" y="1239.9" width="42.2" height="403.3" fill="url(#heg)"/>
<rect x="118.9" y="1239.9" width="613.8" height="403.3" fill="none" stroke="#231F20" stroke-width="1.8"/>
<path d="M690.5,1239.9 V1643.2" stroke="#231F20" stroke-width="1.8"/>
<text transform="translate(723.2,1316.5) rotate(-90)" font-size="40" fill="#231F20" textLength="73.9" lengthAdjust="spacingAndGlyphs">0.14</text>
<text transform="translate(723.4,1636.4) rotate(-90)" font-size="40" fill="#231F20" textLength="20.4" lengthAdjust="spacingAndGlyphs">0</text>
<text transform="translate(722.5,1446.7) rotate(-90)" font-size="40" fill="#231F20" textLength="36.8" lengthAdjust="spacingAndGlyphs">|P|</text>
<text transform="translate(708.9,1409.4) rotate(-90)" font-size="24" fill="#231F20" textLength="10.7" lengthAdjust="spacingAndGlyphs">2</text>
<text x="27" y="1240.6" font-size="39" fill="#231F20" textLength="36.8" lengthAdjust="spacingAndGlyphs">e)</text>
<text x="125" y="1683.2" font-size="38.5" fill="#231F20" textLength="21.3" lengthAdjust="spacingAndGlyphs">0</text>
<text x="661.5" y="1683.2" font-size="38.5" fill="#231F20" textLength="41.9" lengthAdjust="spacingAndGlyphs">24</text>
<text x="356.1" y="1691.8" font-size="40" fill="#231F20" textLength="162.8" lengthAdjust="spacingAndGlyphs">Time (&#181;s)</text>
<filter id="hf" x="751" y="1215" width="622" height="452.7" filterUnits="userSpaceOnUse"><feGaussianBlur stdDeviation="5.5"/></filter>
<clipPath id="hfc"><rect x="775.5" y="1239.5" width="573" height="403.7"/></clipPath>
<g clip-path="url(#hfc)"><g filter="url(#hf)">
<path fill="#FDFDFE" d="M751 1215h288v8h-288zM751 1223h288v8h-288zM751 1231h288v8h-288zM751 1239h288v8h-288zM751 1247h288v8h-288zM751 1255h280v8h-280zM751 1263h280v8h-280zM751 1271h280v8h-280zM751 1279h280v8h-280zM751 1287h272v8h-272zM751 1295h264v8h-264zM751 1303h232v8h-232zM751 1311h208v8h-208zM1367 1311h8v8h-8zM751 1319h184v8h-184zM1367 1319h8v8h-8zM751 1327h168v8h-168zM1367 1327h8v8h-8zM751 1335h160v8h-160zM1367 1335h8v8h-8zM751 1343h144v8h-144zM1367 1343h8v8h-8zM751 1351h136v8h-136zM1367 1351h8v8h-8zM751 1359h128v8h-128zM1367 1359h8v8h-8zM751 1367h120v8h-120zM1367 1367h8v8h-8zM751 1375h112v8h-112zM1367 1375h8v8h-8zM751 1383h112v8h-112zM751 1391h104v8h-104zM751 1399h96v8h-96zM751 1407h96v8h-96zM751 1415h88v8h-88zM751 1423h88v8h-88zM751 1431h88v8h-88zM1367 1431h8v8h-8zM751 1439h80v8h-80zM1367 1439h8v8h-8zM751 1447h80v8h-80zM1367 1447h8v8h-8zM751 1455h80v8h-80zM1367 1455h8v8h-8zM751 1463h80v8h-80zM1359 1463h16v8h-16zM751 1471h72v8h-72zM1359 1471h16v8h-16zM751 1479h72v8h-72zM1351 1479h24v8h-24zM751 1487h72v8h-72zM1351 1487h24v8h-24zM751 1495h72v8h-72zM1343 1495h32v8h-32zM751 1503h72v8h-72zM1343 1503h32v8h-32zM751 1511h64v8h-64zM1335 1511h40v8h-40zM751 1519h64v8h-64zM1327 1519h48v8h-48zM751 1527h64v8h-64zM1319 1527h56v8h-56zM751 1535h64v8h-64zM1319 1535h56v8h-56zM751 1543h64v8h-64zM1311 1543h64v8h-64zM751 1551h64v8h-64zM1303 1551h72v8h-72zM751 1559h56v8h-56zM1295 1559h80v8h-80zM751 1567h56v8h-56zM1287 1567h88v8h-88zM751 1575h56v8h-56zM1271 1575h104v8h-104zM751 1583h56v8h-56zM1263 1583h112v8h-112zM751 1591h56v8h-56zM1255 1591h120v8h-120zM751 1599h56v8h-56zM1239 1599h136v8h-136zM751 1607h56v8h-56zM1223 1607h152v8h-152zM751 1615h56v8h-56zM1207 1615h168v8h-168zM751 1623h56v8h-56zM1191 1623h184v8h-184zM751 1631h56v8h-56zM1167 1631h208v8h-208zM751 1639h56v8h-56zM1135 1639h240v8h-240zM751 1647h56v8h-56zM1127 1647h248v8h-248zM751 1655h56v8h-56zM1119 1655h256v8h-256zM751 1663h56v8h-56zM1111 1663h264v8h-264z"/>
<path fill="#F8F9FC" d="M1039 1215h32v8h-32zM1359 1215h16v8h-16zM1039 1223h32v8h-32zM1351 1223h24v8h-24zM1039 1231h24v8h-24zM1351 1231h24v8h-24zM1039 1239h24v8h-24zM1351 1239h24v8h-24zM1039 1247h24v8h-24zM1351 1247h24v8h-24zM1031 1255h32v8h-32zM1351 1255h24v8h-24zM1031 1263h32v8h-32zM1351 1263h24v8h-24zM1031 1271h32v8h-32zM1351 1271h24v8h-24zM1031 1279h24v8h-24zM1351 1279h24v8h-24zM1023 1287h32v8h-32zM1343 1287h32v8h-32zM1015 1295h40v8h-40zM1343 1295h32v8h-32zM983 1303h64v8h-64zM1343 1303h32v8h-32zM959 1311h88v8h-88zM1343 1311h24v8h-24zM935 1319h96v8h-96zM1343 1319h24v8h-24zM919 1327h64v8h-64zM1343 1327h24v8h-24zM911 1335h40v8h-40zM1343 1335h24v8h-24zM895 1343h40v8h-40zM1343 1343h24v8h-24zM887 1351h32v8h-32zM1335 1351h32v8h-32zM879 1359h32v8h-32zM1335 1359h32v8h-32zM871 1367h24v8h-24zM1335 1367h32v8h-32zM863 1375h24v8h-24zM1343 1375h24v8h-24zM863 1383h24v8h-24zM1343 1383h32v8h-32zM855 1391h24v8h-24zM1343 1391h32v8h-32zM847 1399h24v8h-24zM1343 1399h32v8h-32zM847 1407h24v8h-24zM1343 1407h32v8h-32zM839 1415h24v8h-24zM1343 1415h32v8h-32zM839 1423h24v8h-24zM1343 1423h32v8h-32zM839 1431h24v8h-24zM1343 1431h24v8h-24zM831 1439h24v8h-24zM1343 1439h24v8h-24zM831 1447h24v8h-24zM1343 1447h24v8h-24zM831 1455h24v8h-24zM1335 1455h32v8h-32zM831 1463h24v8h-24zM1335 1463h24v8h-24zM823 1471h32v8h-32zM1335 1471h24v8h-24zM823 1479h32v8h-32zM1327 1479h24v8h-24zM823 1487h24v8h-24zM1327 1487h24v8h-24zM823 1495h24v8h-24zM1319 1495h24v8h-24zM823 1503h24v8h-24zM1311 1503h32v8h-32zM815 1511h32v8h-32zM1311 1511h24v8h-24zM815 1519h24v8h-24zM1303 1519h24v8h-24zM815 1527h24v8h-24zM1295 1527h24v8h-24zM815 1535h24v8h-24zM1287 1535h32v8h-32zM815 1543h24v8h-24zM1279 1543h32v8h-32zM815 1551h24v8h-24zM1271 1551h32v8h-32zM807 1559h32v8h-32zM1263 1559h32v8h-32zM807 1567h32v8h-32zM1255 1567h32v8h-32zM807 1575h24v8h-24zM1239 1575h32v8h-32zM807 1583h24v8h-24zM1231 1583h32v8h-32zM807 1591h24v8h-24zM1215 1591h40v8h-40zM807 1599h24v8h-24zM1191 1599h48v8h-48zM807 1607h24v8h-24zM1167 1607h56v8h-56zM807 1615h24v8h-24zM1119 1615h88v8h-88zM807 1623h24v8h-24zM1103 1623h88v8h-88zM807 1631h24v8h-24zM1095 1631h72v8h-72zM807 1639h24v8h-24zM1095 1639h40v8h-40zM807 1647h24v8h-24zM1087 1647h40v8h-40zM807 1655h24v8h-24zM1087 1655h32v8h-32zM807 1663h24v8h-24zM1087 1663h24v8h-24z"/>
<path fill="#F3F4FA" d="M1071 1215h8v8h-8zM1343 1215h16v8h-16zM1071 1223h8v8h-8zM1343 1223h8v8h-8zM1063 1231h16v8h-16zM1343 1231h8v8h-8zM1063 1239h16v8h-16zM1343 1239h8v8h-8zM1063 1247h16v8h-16zM1343 1247h8v8h-8zM1063 1255h16v8h-16zM1343 1255h8v8h-8zM1063 1263h8v8h-8zM1335 1263h16v8h-16zM1063 1271h8v8h-8zM1335 1271h16v8h-16zM1055 1279h16v8h-16zM1335 1279h16v8h-16zM1055 1287h16v8h-16zM1335 1287h8v8h-8zM1055 1295h8v8h-8zM1335 1295h8v8h-8zM1047 1303h16v8h-16zM1327 1303h16v8h-16zM1047 1311h16v8h-16zM1327 1311h16v8h-16zM1031 1319h24v8h-24zM1327 1319h16v8h-16zM983 1327h64v8h-64zM1327 1327h16v8h-16zM951 1335h48v8h-48zM1327 1335h16v8h-16zM935 1343h32v8h-32zM1327 1343h16v8h-16zM919 1351h24v8h-24zM1327 1351h8v8h-8zM911 1359h16v8h-16zM1319 1359h16v8h-16zM895 1367h16v8h-16zM1319 1367h16v8h-16zM887 1375h16v8h-16zM1319 1375h24v8h-24zM887 1383h8v8h-8zM1327 1383h16v8h-16zM879 1391h16v8h-16zM1327 1391h16v8h-16zM871 1399h16v8h-16zM1327 1399h16v8h-16zM871 1407h8v8h-8zM1327 1407h16v8h-16zM863 1415h16v8h-16zM1327 1415h16v8h-16zM863 1423h16v8h-16zM1327 1423h16v8h-16zM863 1431h8v8h-8zM1327 1431h16v8h-16zM855 1439h16v8h-16zM1327 1439h16v8h-16zM855 1447h16v8h-16zM1327 1447h16v8h-16zM855 1455h8v8h-8zM1327 1455h8v8h-8zM855 1463h8v8h-8zM1319 1463h16v8h-16zM855 1471h8v8h-8zM1319 1471h16v8h-16zM855 1479h8v8h-8zM1311 1479h16v8h-16zM847 1487h16v8h-16zM1311 1487h16v8h-16zM847 1495h16v8h-16zM1303 1495h16v8h-16zM847 1503h16v8h-16zM1303 1503h8v8h-8zM847 1511h8v8h-8zM1295 1511h16v8h-16zM839 1519h16v8h-16zM1287 1519h16v8h-16zM839 1527h16v8h-16zM1279 1527h16v8h-16zM839 1535h16v8h-16zM1271 1535h16v8h-16zM839 1543h16v8h-16zM1263 1543h16v8h-16zM839 1551h16v8h-16zM1255 1551h16v8h-16zM839 1559h8v8h-8zM1247 1559h16v8h-16zM839 1567h8v8h-8zM1231 1567h24v8h-24zM831 1575h16v8h-16zM1215 1575h24v8h-24zM831 1583h16v8h-16zM1199 1583h32v8h-32zM831 1591h16v8h-16zM1183 1591h32v8h-32zM831 1599h16v8h-16zM1111 1599h8v8h-8zM1143 1599h48v8h-48zM831 1607h16v8h-16zM1095 1607h72v8h-72zM831 1615h16v8h-16zM1087 1615h32v8h-32zM831 1623h16v8h-16zM1087 1623h16v8h-16zM831 1631h16v8h-16zM1079 1631h16v8h-16zM831 1639h16v8h-16zM1079 1639h16v8h-16zM831 1647h16v8h-16zM1071 1647h16v8h-16zM831 1655h8v8h-8zM1071 1655h16v8h-16zM831 1663h8v8h-8zM1071 1663h16v8h-16z"/>
<path fill="#EFF0F8" d="M1079 1215h16v8h-16zM1335 1215h8v8h-8zM1079 1223h8v8h-8zM1335 1223h8v8h-8zM1079 1231h8v8h-8zM1335 1231h8v8h-8zM1079 1239h8v8h-8zM1335 1239h8v8h-8zM1079 1247h8v8h-8zM1327 1247h16v8h-16zM1079 1255h8v8h-8zM1327 1255h16v8h-16zM1071 1263h16v8h-16zM1327 1263h8v8h-8zM1071 1271h8v8h-8zM1327 1271h8v8h-8zM1071 1279h8v8h-8zM1327 1279h8v8h-8zM1071 1287h8v8h-8zM1327 1287h8v8h-8zM1063 1295h16v8h-16zM1319 1295h16v8h-16zM1063 1303h8v8h-8zM1319 1303h8v8h-8zM1063 1311h8v8h-8zM1319 1311h8v8h-8zM1055 1319h8v8h-8zM1319 1319h8v8h-8zM1047 1327h16v8h-16zM1319 1327h8v8h-8zM999 1335h56v8h-56zM1319 1335h8v8h-8zM967 1343h32v8h-32zM1311 1343h16v8h-16zM943 1351h24v8h-24zM1311 1351h16v8h-16zM927 1359h16v8h-16zM1311 1359h8v8h-8zM911 1367h16v8h-16zM1311 1367h8v8h-8zM903 1375h16v8h-16zM1311 1375h8v8h-8zM895 1383h16v8h-16zM1311 1383h16v8h-16zM895 1391h8v8h-8zM1311 1391h16v8h-16zM887 1399h8v8h-8zM1311 1399h16v8h-16zM879 1407h8v8h-8zM1311 1407h16v8h-16zM879 1415h8v8h-8zM1311 1415h16v8h-16zM879 1423h8v8h-8zM1319 1423h8v8h-8zM871 1431h8v8h-8zM1319 1431h8v8h-8zM871 1439h8v8h-8zM1311 1439h16v8h-16zM871 1447h8v8h-8zM1311 1447h16v8h-16zM863 1455h16v8h-16zM1311 1455h16v8h-16zM863 1463h8v8h-8zM1311 1463h8v8h-8zM863 1471h8v8h-8zM1311 1471h8v8h-8zM863 1479h8v8h-8zM1303 1479h8v8h-8zM863 1487h8v8h-8zM1303 1487h8v8h-8zM863 1495h8v8h-8zM1295 1495h8v8h-8zM863 1503h8v8h-8zM1287 1503h16v8h-16zM855 1511h16v8h-16zM1287 1511h8v8h-8zM855 1519h8v8h-8zM1279 1519h8v8h-8zM855 1527h8v8h-8zM1271 1527h8v8h-8zM855 1535h8v8h-8zM1263 1535h8v8h-8zM855 1543h8v8h-8zM1255 1543h8v8h-8zM855 1551h8v8h-8zM1239 1551h16v8h-16zM847 1559h8v8h-8zM1231 1559h16v8h-16zM847 1567h8v8h-8zM1215 1567h16v8h-16zM847 1575h8v8h-8zM1199 1575h16v8h-16zM847 1583h8v8h-8zM1175 1583h24v8h-24zM847 1591h8v8h-8zM1103 1591h80v8h-80zM847 1599h8v8h-8zM1087 1599h24v8h-24zM1119 1599h24v8h-24zM847 1607h8v8h-8zM1087 1607h8v8h-8zM847 1615h8v8h-8zM1079 1615h8v8h-8zM847 1623h8v8h-8zM1071 1623h16v8h-16zM847 1631h8v8h-8zM1071 1631h8v8h-8zM847 1639h8v8h-8zM1071 1639h8v8h-8zM847 1647h8v8h-8zM1063 1647h8v8h-8zM839 1655h8v8h-8zM1063 1655h8v8h-8zM839 1663h8v8h-8zM1063 1663h8v8h-8z"/>
<path fill="#EAECF6" d="M1327 1215h8v8h-8zM1087 1223h8v8h-8zM1327 1223h8v8h-8zM1087 1231h8v8h-8zM1327 1231h8v8h-8zM1087 1239h8v8h-8zM1327 1239h8v8h-8zM1087 1247h8v8h-8zM1087 1255h8v8h-8zM1319 1255h8v8h-8zM1319 1263h8v8h-8zM1079 1271h8v8h-8zM1319 1271h8v8h-8zM1079 1279h8v8h-8zM1319 1279h8v8h-8zM1079 1287h8v8h-8zM1319 1287h8v8h-8zM1079 1295h8v8h-8zM1071 1303h8v8h-8zM1311 1303h8v8h-8zM1071 1311h8v8h-8zM1311 1311h8v8h-8zM1063 1319h8v8h-8zM1311 1319h8v8h-8zM1063 1327h8v8h-8zM1311 1327h8v8h-8zM1055 1335h8v8h-8zM1311 1335h8v8h-8zM999 1343h56v8h-56zM967 1351h24v8h-24zM1303 1351h8v8h-8zM943 1359h16v8h-16zM1303 1359h8v8h-8zM927 1367h8v8h-8zM1303 1367h8v8h-8zM919 1375h8v8h-8zM1303 1375h8v8h-8zM911 1383h8v8h-8zM1303 1383h8v8h-8zM903 1391h8v8h-8zM1303 1391h8v8h-8zM895 1399h8v8h-8zM1303 1399h8v8h-8zM887 1407h8v8h-8zM1303 1407h8v8h-8zM887 1415h8v8h-8zM1303 1415h8v8h-8zM887 1423h8v8h-8zM1303 1423h16v8h-16zM879 1431h8v8h-8zM1303 1431h16v8h-16zM879 1439h8v8h-8zM1303 1439h8v8h-8zM879 1447h8v8h-8zM1303 1447h8v8h-8zM879 1455h8v8h-8zM1303 1455h8v8h-8zM871 1463h8v8h-8zM1303 1463h8v8h-8zM871 1471h8v8h-8zM1295 1471h16v8h-16zM871 1479h8v8h-8zM1295 1479h8v8h-8zM871 1487h8v8h-8zM1295 1487h8v8h-8zM871 1495h8v8h-8zM1287 1495h8v8h-8zM871 1503h8v8h-8zM1279 1503h8v8h-8zM1279 1511h8v8h-8zM863 1519h8v8h-8zM1271 1519h8v8h-8zM863 1527h8v8h-8zM1263 1527h8v8h-8zM863 1535h8v8h-8zM1255 1535h8v8h-8zM1239 1543h16v8h-16zM1231 1551h8v8h-8zM855 1559h8v8h-8zM1215 1559h16v8h-16zM855 1567h8v8h-8zM1199 1567h16v8h-16zM855 1575h8v8h-8zM1175 1575h24v8h-24zM855 1583h8v8h-8zM1095 1583h80v8h-80zM855 1591h8v8h-8zM1087 1591h16v8h-16zM855 1599h8v8h-8zM1079 1599h8v8h-8zM855 1607h8v8h-8zM1071 1607h16v8h-16zM1071 1615h8v8h-8zM1063 1623h8v8h-8zM1063 1631h8v8h-8zM1063 1639h8v8h-8zM1055 1647h8v8h-8zM847 1655h8v8h-8zM1055 1655h8v8h-8zM847 1663h8v8h-8zM1055 1663h8v8h-8z"/>
<path fill="#E5E7F5" d="M1095 1215h8v8h-8zM1319 1215h8v8h-8zM1095 1223h8v8h-8zM1319 1223h8v8h-8zM1095 1231h8v8h-8zM1319 1231h8v8h-8zM1095 1239h8v8h-8zM1319 1239h8v8h-8zM1319 1247h8v8h-8zM1087 1263h8v8h-8zM1087 1271h8v8h-8zM1311 1271h8v8h-8zM1087 1279h8v8h-8zM1311 1279h8v8h-8zM1087 1287h8v8h-8zM1311 1287h8v8h-8zM1311 1295h8v8h-8zM1079 1303h8v8h-8zM1079 1311h8v8h-8zM1303 1311h8v8h-8zM1071 1319h8v8h-8zM1303 1319h8v8h-8zM1071 1327h8v8h-8zM1303 1327h8v8h-8zM1063 1335h8v8h-8zM1303 1335h8v8h-8zM1055 1343h8v8h-8zM1303 1343h8v8h-8zM991 1351h56v8h-56zM959 1359h24v8h-24zM1295 1359h8v8h-8zM935 1367h16v8h-16zM1295 1367h8v8h-8zM927 1375h8v8h-8zM1295 1375h8v8h-8zM919 1383h8v8h-8zM1295 1383h8v8h-8zM911 1391h8v8h-8zM1295 1391h8v8h-8zM903 1399h8v8h-8zM1295 1399h8v8h-8zM895 1407h8v8h-8zM1295 1407h8v8h-8zM895 1415h8v8h-8zM1295 1415h8v8h-8zM1295 1423h8v8h-8zM887 1431h8v8h-8zM1295 1431h8v8h-8zM887 1439h8v8h-8zM1295 1439h8v8h-8zM1295 1447h8v8h-8zM1295 1455h8v8h-8zM879 1463h8v8h-8zM1295 1463h8v8h-8zM879 1471h8v8h-8zM879 1479h8v8h-8zM1287 1479h8v8h-8zM879 1487h8v8h-8zM1287 1487h8v8h-8zM879 1495h8v8h-8zM1279 1495h8v8h-8zM1271 1503h8v8h-8zM871 1511h8v8h-8zM1271 1511h8v8h-8zM871 1519h8v8h-8zM1263 1519h8v8h-8zM1255 1527h8v8h-8zM1239 1535h16v8h-16zM863 1543h8v8h-8zM1231 1543h8v8h-8zM863 1551h8v8h-8zM1223 1551h8v8h-8zM863 1559h8v8h-8zM1207 1559h8v8h-8zM863 1567h8v8h-8zM1183 1567h16v8h-16zM1095 1575h80v8h-80zM1087 1583h8v8h-8zM1079 1591h8v8h-8zM1071 1599h8v8h-8zM855 1615h8v8h-8zM1063 1615h8v8h-8zM855 1623h8v8h-8zM855 1631h8v8h-8zM1055 1631h8v8h-8zM855 1639h8v8h-8zM1055 1639h8v8h-8zM855 1647h8v8h-8zM855 1655h8v8h-8zM855 1663h8v8h-8z"/>
<path fill="#DFE2F2" d="M1103 1215h8v8h-8zM1103 1223h8v8h-8zM1311 1223h8v8h-8zM1311 1231h8v8h-8zM1311 1239h8v8h-8zM1095 1247h8v8h-8zM1311 1247h8v8h-8zM1095 1255h8v8h-8zM1311 1255h8v8h-8zM1095 1263h8v8h-8zM1311 1263h8v8h-8zM1095 1271h8v8h-8zM1303 1287h8v8h-8zM1087 1295h8v8h-8zM1303 1295h8v8h-8zM1087 1303h8v8h-8zM1303 1303h8v8h-8zM1079 1319h8v8h-8zM1071 1335h8v8h-8zM1295 1335h8v8h-8zM1063 1343h8v8h-8zM1295 1343h8v8h-8zM1047 1351h16v8h-16zM1295 1351h8v8h-8zM983 1359h24v8h-24zM951 1367h16v8h-16zM935 1375h8v8h-8zM927 1383h8v8h-8zM1287 1383h8v8h-8zM1287 1391h8v8h-8zM1287 1399h8v8h-8zM903 1407h8v8h-8zM1287 1407h8v8h-8zM1287 1415h8v8h-8zM895 1423h8v8h-8zM1287 1423h8v8h-8zM895 1431h8v8h-8zM1287 1431h8v8h-8zM1287 1439h8v8h-8zM887 1447h8v8h-8zM1287 1447h8v8h-8zM887 1455h8v8h-8zM1287 1455h8v8h-8zM887 1463h8v8h-8zM1287 1463h8v8h-8zM887 1471h8v8h-8zM1287 1471h8v8h-8zM1279 1479h8v8h-8zM1279 1487h8v8h-8zM1271 1495h8v8h-8zM879 1503h8v8h-8zM879 1511h8v8h-8zM1263 1511h8v8h-8zM1255 1519h8v8h-8zM871 1527h8v8h-8zM1247 1527h8v8h-8zM871 1535h8v8h-8zM1231 1535h8v8h-8zM871 1543h8v8h-8zM1223 1543h8v8h-8zM1207 1551h16v8h-16zM1191 1559h16v8h-16zM1151 1567h32v8h-32zM863 1575h8v8h-8zM1087 1575h8v8h-8zM863 1583h8v8h-8zM1079 1583h8v8h-8zM863 1591h8v8h-8zM1071 1591h8v8h-8zM863 1599h8v8h-8zM863 1607h8v8h-8zM1063 1607h8v8h-8zM863 1615h8v8h-8zM1055 1623h8v8h-8zM1047 1647h8v8h-8zM1047 1655h8v8h-8zM1047 1663h8v8h-8z"/>
<path fill="#DADCF0" d="M1311 1215h8v8h-8zM1103 1231h8v8h-8zM1103 1239h8v8h-8zM1103 1247h8v8h-8zM1303 1263h8v8h-8zM1303 1271h8v8h-8zM1095 1279h8v8h-8zM1303 1279h8v8h-8zM1095 1287h8v8h-8zM1295 1303h8v8h-8zM1087 1311h8v8h-8zM1295 1311h8v8h-8zM1295 1319h8v8h-8zM1079 1327h8v8h-8zM1295 1327h8v8h-8zM1071 1343h8v8h-8zM1063 1351h8v8h-8zM1287 1351h8v8h-8zM1007 1359h48v8h-48zM1287 1359h8v8h-8zM967 1367h16v8h-16zM1287 1367h8v8h-8zM943 1375h16v8h-16zM1287 1375h8v8h-8zM919 1391h8v8h-8zM911 1399h8v8h-8zM1279 1407h8v8h-8zM903 1415h8v8h-8zM1279 1415h8v8h-8zM903 1423h8v8h-8zM895 1439h8v8h-8zM895 1447h8v8h-8zM1279 1455h8v8h-8zM1279 1463h8v8h-8zM1279 1471h8v8h-8zM887 1479h8v8h-8zM887 1487h8v8h-8zM1271 1487h8v8h-8zM887 1495h8v8h-8zM1263 1495h8v8h-8zM1263 1503h8v8h-8zM1255 1511h8v8h-8zM879 1519h8v8h-8zM1247 1519h8v8h-8zM1239 1527h8v8h-8zM1223 1535h8v8h-8zM1215 1543h8v8h-8zM871 1551h8v8h-8zM1199 1551h8v8h-8zM871 1559h8v8h-8zM1167 1559h24v8h-24zM871 1567h8v8h-8zM1087 1567h64v8h-64zM1079 1575h8v8h-8zM1071 1583h8v8h-8zM1063 1591h8v8h-8zM1063 1599h8v8h-8zM1055 1615h8v8h-8zM863 1623h8v8h-8zM863 1631h8v8h-8zM1047 1631h8v8h-8zM863 1639h8v8h-8zM1047 1639h8v8h-8zM863 1647h8v8h-8zM863 1655h8v8h-8zM863 1663h8v8h-8z"/>
<path fill="#D4D7EE" d="M1111 1215h8v8h-8zM1111 1223h8v8h-8zM1303 1223h8v8h-8zM1111 1231h8v8h-8zM1303 1231h8v8h-8zM1303 1239h8v8h-8zM1303 1247h8v8h-8zM1103 1255h8v8h-8zM1303 1255h8v8h-8zM1103 1263h8v8h-8zM1103 1271h8v8h-8zM1295 1287h8v8h-8zM1095 1295h8v8h-8zM1295 1295h8v8h-8zM1095 1303h8v8h-8zM1087 1319h8v8h-8zM1079 1335h8v8h-8zM1287 1335h8v8h-8zM1287 1343h8v8h-8zM1055 1359h8v8h-8zM983 1367h24v8h-24zM1279 1367h8v8h-8zM959 1375h8v8h-8zM1279 1375h8v8h-8zM935 1383h8v8h-8zM1279 1383h8v8h-8zM927 1391h8v8h-8zM1279 1391h8v8h-8zM919 1399h8v8h-8zM1279 1399h8v8h-8zM911 1407h8v8h-8zM911 1415h8v8h-8zM1279 1423h8v8h-8zM903 1431h8v8h-8zM1279 1431h8v8h-8zM903 1439h8v8h-8zM1279 1439h8v8h-8zM1279 1447h8v8h-8zM895 1455h8v8h-8zM895 1463h8v8h-8zM1271 1463h8v8h-8zM895 1471h8v8h-8zM1271 1471h8v8h-8zM1271 1479h8v8h-8zM1263 1487h8v8h-8zM887 1503h8v8h-8zM1255 1503h8v8h-8zM887 1511h8v8h-8zM1247 1511h8v8h-8zM1239 1519h8v8h-8zM879 1527h8v8h-8zM1231 1527h8v8h-8zM879 1535h8v8h-8zM1215 1535h8v8h-8zM1207 1543h8v8h-8zM1183 1551h16v8h-16zM1087 1559h80v8h-80zM1079 1567h8v8h-8zM871 1575h8v8h-8zM1071 1575h8v8h-8zM871 1583h8v8h-8zM871 1591h8v8h-8zM1055 1607h8v8h-8zM1047 1623h8v8h-8z"/>
<path fill="#CFD1EB" d="M1303 1215h8v8h-8zM1111 1239h8v8h-8zM1111 1247h8v8h-8zM1295 1263h8v8h-8zM1295 1271h8v8h-8zM1103 1279h8v8h-8zM1295 1279h8v8h-8zM1103 1287h8v8h-8zM1095 1311h8v8h-8zM1287 1311h8v8h-8zM1287 1319h8v8h-8zM1087 1327h8v8h-8zM1287 1327h8v8h-8zM1079 1343h8v8h-8zM1071 1351h8v8h-8zM1279 1351h8v8h-8zM1063 1359h8v8h-8zM1279 1359h8v8h-8zM1007 1367h48v8h-48zM967 1375h16v8h-16zM943 1383h16v8h-16zM935 1391h8v8h-8zM1271 1391h8v8h-8zM1271 1399h8v8h-8zM919 1407h8v8h-8zM1271 1407h8v8h-8zM1271 1415h8v8h-8zM911 1423h8v8h-8zM1271 1423h8v8h-8zM1271 1431h8v8h-8zM1271 1439h8v8h-8zM903 1447h8v8h-8zM1271 1447h8v8h-8zM903 1455h8v8h-8zM1271 1455h8v8h-8zM1263 1471h8v8h-8zM895 1479h8v8h-8zM1263 1479h8v8h-8zM895 1487h8v8h-8zM1255 1495h8v8h-8zM1247 1503h8v8h-8zM1239 1511h8v8h-8zM887 1519h8v8h-8zM1231 1519h8v8h-8zM1223 1527h8v8h-8zM1207 1535h8v8h-8zM879 1543h8v8h-8zM1191 1543h16v8h-16zM879 1551h8v8h-8zM1159 1551h24v8h-24zM1079 1559h8v8h-8zM1071 1567h8v8h-8zM1063 1583h8v8h-8zM871 1599h8v8h-8zM1055 1599h8v8h-8zM871 1607h8v8h-8zM871 1615h8v8h-8zM1047 1615h8v8h-8zM871 1623h8v8h-8zM1039 1639h8v8h-8zM1039 1647h8v8h-8zM1039 1655h8v8h-8zM1039 1663h8v8h-8z"/>
<path fill="#C9CCE9" d="M1119 1215h8v8h-8zM1119 1223h8v8h-8zM1295 1247h8v8h-8zM1111 1255h8v8h-8zM1295 1255h8v8h-8zM1111 1263h8v8h-8zM1103 1295h8v8h-8zM1287 1295h8v8h-8zM1287 1303h8v8h-8zM1095 1319h8v8h-8zM1087 1335h8v8h-8zM1279 1335h8v8h-8zM1279 1343h8v8h-8zM1079 1351h8v8h-8zM1071 1359h8v8h-8zM1055 1367h8v8h-8zM983 1375h24v8h-24zM1271 1375h8v8h-8zM959 1383h8v8h-8zM1271 1383h8v8h-8zM927 1399h8v8h-8zM919 1415h8v8h-8zM911 1431h8v8h-8zM911 1439h8v8h-8zM1263 1439h8v8h-8zM1263 1447h8v8h-8zM1263 1455h8v8h-8zM903 1463h8v8h-8zM1263 1463h8v8h-8zM1255 1479h8v8h-8zM1255 1487h8v8h-8zM895 1495h8v8h-8zM1247 1495h8v8h-8zM895 1503h8v8h-8zM1231 1511h8v8h-8zM1223 1519h8v8h-8zM887 1527h8v8h-8zM1215 1527h8v8h-8zM1199 1535h8v8h-8zM1175 1543h16v8h-16zM1087 1551h72v8h-72zM879 1559h8v8h-8zM879 1567h8v8h-8zM1063 1575h8v8h-8zM1055 1591h8v8h-8zM1047 1607h8v8h-8zM871 1631h8v8h-8zM1039 1631h8v8h-8zM871 1639h8v8h-8zM871 1647h8v8h-8zM871 1655h8v8h-8zM871 1663h8v8h-8z"/>
<path fill="#C6C9E7" d="M1295 1215h8v8h-8zM1295 1223h8v8h-8zM1119 1231h8v8h-8zM1295 1231h8v8h-8zM1119 1239h8v8h-8zM1295 1239h8v8h-8zM1111 1271h8v8h-8zM1111 1279h8v8h-8zM1287 1279h8v8h-8zM1287 1287h8v8h-8zM1103 1303h8v8h-8zM1103 1311h8v8h-8zM1279 1319h8v8h-8zM1095 1327h8v8h-8zM1279 1327h8v8h-8zM1087 1343h8v8h-8zM1271 1359h8v8h-8zM1063 1367h8v8h-8zM1271 1367h8v8h-8zM1007 1375h32v8h-32zM967 1383h16v8h-16zM943 1391h8v8h-8zM1263 1391h8v8h-8zM935 1399h8v8h-8zM1263 1399h8v8h-8zM927 1407h8v8h-8zM1263 1407h8v8h-8zM1263 1415h8v8h-8zM919 1423h8v8h-8zM1263 1423h8v8h-8zM1263 1431h8v8h-8zM911 1447h8v8h-8zM1255 1463h8v8h-8zM903 1471h8v8h-8zM1255 1471h8v8h-8zM903 1479h8v8h-8zM1247 1487h8v8h-8zM1239 1503h8v8h-8zM895 1511h8v8h-8zM1215 1519h8v8h-8zM1207 1527h8v8h-8zM887 1535h8v8h-8zM1191 1535h8v8h-8zM1143 1543h32v8h-32zM1079 1551h8v8h-8zM1071 1559h8v8h-8zM1063 1567h8v8h-8zM879 1575h8v8h-8zM879 1583h8v8h-8zM1055 1583h8v8h-8zM1047 1599h8v8h-8zM1039 1623h8v8h-8z"/>
<path fill="#C3C7E5" d="M1119 1247h8v8h-8zM1287 1263h8v8h-8zM1287 1271h8v8h-8zM1111 1287h8v8h-8zM1111 1295h8v8h-8zM1279 1303h8v8h-8zM1279 1311h8v8h-8zM1103 1319h8v8h-8zM1095 1335h8v8h-8zM1271 1343h8v8h-8zM1271 1351h8v8h-8zM1079 1359h8v8h-8zM1071 1367h8v8h-8zM1039 1375h24v8h-24zM983 1383h16v8h-16zM1263 1383h8v8h-8zM951 1391h8v8h-8zM927 1415h8v8h-8zM1255 1423h8v8h-8zM919 1431h8v8h-8zM1255 1431h8v8h-8zM1255 1439h8v8h-8zM1255 1447h8v8h-8zM911 1455h8v8h-8zM1255 1455h8v8h-8zM911 1463h8v8h-8zM1247 1479h8v8h-8zM903 1487h8v8h-8zM1239 1495h8v8h-8zM1231 1503h8v8h-8zM1223 1511h8v8h-8zM895 1519h8v8h-8zM1199 1527h8v8h-8zM1175 1535h16v8h-16zM887 1543h8v8h-8zM1111 1543h32v8h-32zM887 1551h8v8h-8zM879 1591h8v8h-8zM879 1599h8v8h-8zM879 1607h8v8h-8zM1039 1615h8v8h-8zM1031 1647h8v8h-8zM1031 1655h8v8h-8zM1031 1663h8v8h-8z"/>
<path fill="#C0C4E4" d="M1127 1215h8v8h-8zM1127 1223h8v8h-8zM1287 1239h8v8h-8zM1287 1247h8v8h-8zM1119 1255h8v8h-8zM1287 1255h8v8h-8zM1119 1263h8v8h-8zM1279 1287h8v8h-8zM1279 1295h8v8h-8zM1111 1303h8v8h-8zM1271 1335h8v8h-8zM1087 1351h8v8h-8zM1263 1367h8v8h-8zM1263 1375h8v8h-8zM999 1383h16v8h-16zM959 1391h16v8h-16zM943 1399h8v8h-8zM1255 1399h8v8h-8zM935 1407h8v8h-8zM1255 1407h8v8h-8zM1255 1415h8v8h-8zM927 1423h8v8h-8zM919 1439h8v8h-8zM919 1447h8v8h-8zM1247 1455h8v8h-8zM1247 1463h8v8h-8zM911 1471h8v8h-8zM1247 1471h8v8h-8zM1239 1487h8v8h-8zM903 1495h8v8h-8zM1231 1495h8v8h-8zM903 1503h8v8h-8zM1223 1503h8v8h-8zM1215 1511h8v8h-8zM1207 1519h8v8h-8zM895 1527h8v8h-8zM1191 1527h8v8h-8zM1151 1535h24v8h-24zM1079 1543h32v8h-32zM1071 1551h8v8h-8zM887 1559h8v8h-8zM1063 1559h8v8h-8zM1055 1575h8v8h-8zM1047 1591h8v8h-8zM1039 1607h8v8h-8zM879 1615h8v8h-8zM879 1623h8v8h-8zM879 1631h8v8h-8zM1031 1639h8v8h-8z"/>
<path fill="#BEC1E2" d="M1287 1215h8v8h-8zM1287 1223h8v8h-8zM1127 1231h8v8h-8zM1287 1231h8v8h-8zM1127 1239h8v8h-8zM1119 1271h8v8h-8zM1119 1279h8v8h-8zM1279 1279h8v8h-8zM1111 1311h8v8h-8zM1271 1319h8v8h-8zM1103 1327h8v8h-8zM1271 1327h8v8h-8zM1095 1343h8v8h-8zM1087 1359h8v8h-8zM1263 1359h8v8h-8zM1079 1367h8v8h-8zM1063 1375h8v8h-8zM1015 1383h24v8h-24zM975 1391h8v8h-8zM1255 1391h8v8h-8zM951 1399h8v8h-8zM935 1415h8v8h-8zM1247 1423h8v8h-8zM927 1431h8v8h-8zM1247 1431h8v8h-8zM1247 1439h8v8h-8zM1247 1447h8v8h-8zM919 1455h8v8h-8zM1239 1471h8v8h-8zM911 1479h8v8h-8zM1239 1479h8v8h-8zM1231 1487h8v8h-8zM1215 1503h8v8h-8zM1207 1511h8v8h-8zM1199 1519h8v8h-8zM1175 1527h16v8h-16zM1119 1535h32v8h-32zM887 1567h8v8h-8zM1055 1567h8v8h-8zM1047 1583h8v8h-8zM1031 1631h8v8h-8zM879 1639h8v8h-8zM879 1647h8v8h-8zM879 1655h8v8h-8zM879 1663h8v8h-8z"/>
<path fill="#BBBFE0" d="M1127 1247h8v8h-8zM1279 1263h8v8h-8zM1279 1271h8v8h-8zM1119 1287h8v8h-8zM1271 1303h8v8h-8zM1271 1311h8v8h-8zM1111 1319h8v8h-8zM1103 1335h8v8h-8zM1263 1343h8v8h-8zM1263 1351h8v8h-8zM1071 1375h8v8h-8zM1039 1383h24v8h-24zM1255 1383h8v8h-8zM983 1391h16v8h-16zM959 1399h8v8h-8zM943 1407h8v8h-8zM1247 1407h8v8h-8zM1247 1415h8v8h-8zM927 1439h8v8h-8zM1239 1447h8v8h-8zM1239 1455h8v8h-8zM919 1463h8v8h-8zM1239 1463h8v8h-8zM1231 1479h8v8h-8zM911 1487h8v8h-8zM1223 1495h8v8h-8zM903 1511h8v8h-8zM1199 1511h8v8h-8zM1191 1519h8v8h-8zM1151 1527h24v8h-24zM895 1535h8v8h-8zM1095 1535h24v8h-24zM895 1543h8v8h-8zM1071 1543h8v8h-8zM1063 1551h8v8h-8zM887 1575h8v8h-8zM1039 1599h8v8h-8zM1031 1623h8v8h-8z"/>
<path fill="#B8BCDE" d="M1135 1215h8v8h-8zM1135 1223h8v8h-8zM1279 1247h8v8h-8zM1127 1255h8v8h-8zM1279 1255h8v8h-8zM1127 1263h8v8h-8zM1119 1295h8v8h-8zM1271 1295h8v8h-8zM1263 1335h8v8h-8zM1095 1351h8v8h-8zM1255 1367h8v8h-8zM1255 1375h8v8h-8zM999 1391h16v8h-16zM967 1399h8v8h-8zM1247 1399h8v8h-8zM951 1407h8v8h-8zM943 1415h8v8h-8zM935 1423h8v8h-8zM1239 1431h8v8h-8zM1239 1439h8v8h-8zM927 1447h8v8h-8zM919 1471h8v8h-8zM1231 1471h8v8h-8zM1223 1487h8v8h-8zM911 1495h8v8h-8zM1215 1495h8v8h-8zM1207 1503h8v8h-8zM1191 1511h8v8h-8zM903 1519h8v8h-8zM1175 1519h16v8h-16zM1127 1527h24v8h-24zM1079 1535h16v8h-16zM895 1551h8v8h-8zM1055 1559h8v8h-8zM1047 1575h8v8h-8zM887 1583h8v8h-8zM887 1591h8v8h-8zM1039 1591h8v8h-8zM1031 1615h8v8h-8z"/>
<path fill="#B8BCDA" d="M1279 1215h8v8h-8zM1279 1223h8v8h-8zM1135 1231h8v8h-8zM1279 1231h8v8h-8zM1279 1239h8v8h-8zM1127 1271h8v8h-8zM1271 1279h8v8h-8zM1271 1287h8v8h-8zM1119 1303h8v8h-8zM1111 1327h8v8h-8zM1263 1327h8v8h-8zM1103 1343h8v8h-8zM1095 1359h8v8h-8zM1255 1359h8v8h-8zM1087 1367h8v8h-8zM1079 1375h8v8h-8zM1063 1383h8v8h-8zM1015 1391h8v8h-8zM1247 1391h8v8h-8zM975 1399h16v8h-16zM1239 1415h8v8h-8zM1239 1423h8v8h-8zM935 1431h8v8h-8zM1231 1447h8v8h-8zM927 1455h8v8h-8zM1231 1455h8v8h-8zM1231 1463h8v8h-8zM1223 1479h8v8h-8zM1215 1487h8v8h-8zM1207 1495h8v8h-8zM911 1503h8v8h-8zM1199 1503h8v8h-8zM1183 1511h8v8h-8zM1159 1519h16v8h-16zM903 1527h8v8h-8zM1119 1527h8v8h-8zM895 1559h8v8h-8zM887 1599h8v8h-8zM887 1607h8v8h-8zM1023 1647h8v8h-8zM1023 1655h8v8h-8zM1023 1663h8v8h-8z"/>
<path fill="#B9BCD6" d="M1135 1239h8v8h-8zM1271 1271h8v8h-8zM1127 1279h8v8h-8zM1127 1287h8v8h-8zM1119 1311h8v8h-8zM1263 1311h8v8h-8zM1263 1319h8v8h-8zM1111 1335h8v8h-8zM1255 1351h8v8h-8zM1071 1383h8v8h-8zM1247 1383h8v8h-8zM1023 1391h24v8h-24zM991 1399h8v8h-8zM959 1407h8v8h-8zM1239 1407h8v8h-8zM951 1415h8v8h-8zM943 1423h8v8h-8zM935 1439h8v8h-8zM1231 1439h8v8h-8zM927 1463h8v8h-8zM1223 1471h8v8h-8zM919 1479h8v8h-8zM1215 1479h8v8h-8zM1199 1495h8v8h-8zM1191 1503h8v8h-8zM1175 1511h8v8h-8zM1143 1519h16v8h-16zM1103 1527h16v8h-16zM1071 1535h8v8h-8zM1063 1543h8v8h-8zM1055 1551h8v8h-8zM895 1567h8v8h-8zM1047 1567h8v8h-8zM1039 1583h8v8h-8zM1031 1607h8v8h-8zM887 1615h8v8h-8zM887 1623h8v8h-8zM1023 1639h8v8h-8z"/>
<path fill="#B9BCD2" d="M1135 1247h8v8h-8zM1135 1255h8v8h-8zM1271 1255h8v8h-8zM1271 1263h8v8h-8zM1127 1295h8v8h-8zM1263 1303h8v8h-8zM1119 1319h8v8h-8zM1255 1343h8v8h-8zM1103 1351h8v8h-8zM1095 1367h8v8h-8zM1247 1375h8v8h-8zM1047 1391h16v8h-16zM999 1399h8v8h-8zM1239 1399h8v8h-8zM967 1407h8v8h-8zM1231 1423h8v8h-8zM943 1431h8v8h-8zM1231 1431h8v8h-8zM935 1447h8v8h-8zM1223 1455h8v8h-8zM1223 1463h8v8h-8zM919 1487h8v8h-8zM1207 1487h8v8h-8zM1183 1503h8v8h-8zM911 1511h8v8h-8zM1167 1511h8v8h-8zM1127 1519h16v8h-16zM1087 1527h16v8h-16zM903 1535h8v8h-8zM887 1631h8v8h-8zM1023 1631h8v8h-8zM887 1639h8v8h-8zM887 1647h8v8h-8zM887 1655h8v8h-8z"/>
<path fill="#BABBCD" d="M1143 1215h8v8h-8zM1143 1223h8v8h-8zM1271 1239h8v8h-8zM1271 1247h8v8h-8zM1135 1263h8v8h-8zM1263 1287h8v8h-8zM1263 1295h8v8h-8zM1127 1303h8v8h-8zM1119 1327h8v8h-8zM1255 1335h8v8h-8zM1111 1343h8v8h-8zM1247 1367h8v8h-8zM1087 1375h8v8h-8zM1079 1383h8v8h-8zM1063 1391h8v8h-8zM1239 1391h8v8h-8zM1007 1399h8v8h-8zM975 1407h16v8h-16zM959 1415h8v8h-8zM1231 1415h8v8h-8zM951 1423h8v8h-8zM1223 1439h8v8h-8zM1223 1447h8v8h-8zM935 1455h8v8h-8zM927 1471h8v8h-8zM1215 1471h8v8h-8zM1207 1479h8v8h-8zM1199 1487h8v8h-8zM919 1495h8v8h-8zM1191 1495h8v8h-8zM1175 1503h8v8h-8zM1151 1511h16v8h-16zM911 1519h8v8h-8zM1119 1519h8v8h-8zM1071 1527h16v8h-16zM1063 1535h8v8h-8zM903 1543h8v8h-8zM1047 1559h8v8h-8zM895 1575h8v8h-8zM1039 1575h8v8h-8zM1031 1599h8v8h-8zM1023 1623h8v8h-8zM887 1663h8v8h-8z"/>
<path fill="#BABBC9" d="M1271 1215h8v8h-8zM1271 1223h8v8h-8zM1143 1231h8v8h-8zM1271 1231h8v8h-8zM1135 1271h8v8h-8zM1135 1279h8v8h-8zM1263 1279h8v8h-8zM1127 1311h8v8h-8zM1255 1327h8v8h-8zM1103 1359h8v8h-8zM1247 1359h8v8h-8zM1239 1383h8v8h-8zM1015 1399h16v8h-16zM991 1407h8v8h-8zM1231 1407h8v8h-8zM967 1415h8v8h-8zM1223 1431h8v8h-8zM943 1439h8v8h-8zM1215 1455h8v8h-8zM1215 1463h8v8h-8zM1207 1471h8v8h-8zM1199 1479h8v8h-8zM1191 1487h8v8h-8zM1183 1495h8v8h-8zM1167 1503h8v8h-8zM1135 1511h16v8h-16zM1111 1519h8v8h-8zM1055 1543h8v8h-8zM903 1551h8v8h-8zM895 1583h8v8h-8zM1031 1591h8v8h-8zM1023 1615h8v8h-8z"/>
<path fill="#BABBC5" d="M1143 1239h8v8h-8zM1143 1247h8v8h-8zM1263 1271h8v8h-8zM1135 1287h8v8h-8zM1255 1311h8v8h-8zM1127 1319h8v8h-8zM1255 1319h8v8h-8zM1119 1335h8v8h-8zM1111 1351h8v8h-8zM1247 1351h8v8h-8zM1095 1375h8v8h-8zM1239 1375h8v8h-8zM1071 1391h8v8h-8zM1031 1399h24v8h-24zM1231 1399h8v8h-8zM999 1407h8v8h-8zM959 1423h8v8h-8zM1223 1423h8v8h-8zM951 1431h8v8h-8zM943 1447h8v8h-8zM1215 1447h8v8h-8zM935 1463h8v8h-8zM927 1479h8v8h-8zM1175 1495h8v8h-8zM919 1503h8v8h-8zM1159 1503h8v8h-8zM1127 1511h8v8h-8zM1095 1519h16v8h-16zM911 1527h8v8h-8zM1047 1551h8v8h-8zM1039 1567h8v8h-8zM895 1591h8v8h-8zM895 1599h8v8h-8z"/>
<path fill="#BBBBC1" d="M1143 1255h8v8h-8zM1263 1255h8v8h-8zM1263 1263h8v8h-8zM1135 1295h8v8h-8zM1255 1303h8v8h-8zM1247 1343h8v8h-8zM1103 1367h8v8h-8zM1087 1383h8v8h-8zM1079 1391h8v8h-8zM1231 1391h8v8h-8zM1055 1399h8v8h-8zM1007 1407h8v8h-8zM975 1415h8v8h-8zM1223 1415h8v8h-8zM951 1439h8v8h-8zM1215 1439h8v8h-8zM943 1455h8v8h-8zM1207 1463h8v8h-8zM935 1471h8v8h-8zM1199 1471h8v8h-8zM1191 1479h8v8h-8zM927 1487h8v8h-8zM1183 1487h8v8h-8zM1151 1503h8v8h-8zM919 1511h8v8h-8zM1119 1511h8v8h-8zM1087 1519h8v8h-8zM1063 1527h8v8h-8zM1055 1535h8v8h-8zM903 1559h8v8h-8zM1031 1583h8v8h-8zM895 1607h8v8h-8zM1023 1607h8v8h-8zM1015 1647h8v8h-8zM1015 1655h8v8h-8zM1015 1663h8v8h-8z"/>
<path fill="#BCBCBD" d="M1151 1215h8v8h-8zM1151 1223h8v8h-8zM1263 1247h8v8h-8zM1143 1263h8v8h-8zM1255 1295h8v8h-8zM1135 1303h8v8h-8zM1127 1327h8v8h-8zM1247 1335h8v8h-8zM1119 1343h8v8h-8zM1111 1359h8v8h-8zM1239 1367h8v8h-8zM1063 1399h8v8h-8zM1015 1407h8v8h-8zM983 1415h8v8h-8zM967 1423h8v8h-8zM959 1431h8v8h-8zM1215 1431h8v8h-8zM1207 1455h8v8h-8zM1183 1479h8v8h-8zM1175 1487h8v8h-8zM1167 1495h8v8h-8zM1143 1503h8v8h-8zM1111 1511h8v8h-8zM1071 1519h16v8h-16zM911 1535h8v8h-8zM903 1567h8v8h-8zM895 1615h8v8h-8zM895 1623h8v8h-8zM1015 1639h8v8h-8z"/>
<path fill="#BEBDB8" d="M1263 1215h8v8h-8zM1263 1223h8v8h-8zM1151 1231h8v8h-8zM1263 1231h8v8h-8zM1263 1239h8v8h-8zM1143 1271h8v8h-8zM1255 1279h8v8h-8zM1255 1287h8v8h-8zM1135 1311h8v8h-8zM1247 1327h8v8h-8zM1239 1359h8v8h-8zM1103 1375h8v8h-8zM1231 1383h8v8h-8zM1071 1399h8v8h-8zM1023 1407h8v8h-8zM1223 1407h8v8h-8zM991 1415h8v8h-8zM1215 1423h8v8h-8zM951 1447h8v8h-8zM1207 1447h8v8h-8zM943 1463h8v8h-8zM1199 1463h8v8h-8zM1191 1471h8v8h-8zM927 1495h8v8h-8zM1159 1495h8v8h-8zM1127 1503h16v8h-16zM1103 1511h8v8h-8zM919 1519h8v8h-8zM1047 1543h8v8h-8zM1039 1559h8v8h-8zM1031 1575h8v8h-8zM1023 1599h8v8h-8zM895 1631h8v8h-8zM1015 1631h8v8h-8z"/>
<path fill="#C0BDB4" d="M1151 1239h8v8h-8zM1255 1271h8v8h-8zM1143 1279h8v8h-8zM1143 1287h8v8h-8zM1247 1319h8v8h-8zM1127 1335h8v8h-8zM1119 1351h8v8h-8zM1239 1351h8v8h-8zM1231 1375h8v8h-8zM1095 1383h8v8h-8zM1087 1391h8v8h-8zM1223 1399h8v8h-8zM1031 1407h16v8h-16zM999 1415h8v8h-8zM975 1423h8v8h-8zM959 1439h8v8h-8zM1207 1439h8v8h-8zM1199 1455h8v8h-8zM1191 1463h8v8h-8zM1183 1471h8v8h-8zM935 1479h8v8h-8zM1175 1479h8v8h-8zM1167 1487h8v8h-8zM1151 1495h8v8h-8zM1095 1511h8v8h-8zM1055 1527h8v8h-8zM911 1543h8v8h-8zM903 1575h8v8h-8zM895 1639h8v8h-8zM895 1647h8v8h-8zM895 1655h8v8h-8zM895 1663h8v8h-8z"/>
<path fill="#C1BEB0" d="M1151 1247h8v8h-8zM1255 1255h8v8h-8zM1255 1263h8v8h-8zM1143 1295h8v8h-8zM1247 1303h8v8h-8zM1247 1311h8v8h-8zM1135 1319h8v8h-8zM1239 1343h8v8h-8zM1111 1367h8v8h-8zM1223 1391h8v8h-8zM1079 1399h8v8h-8zM1047 1407h16v8h-16zM1007 1415h8v8h-8zM1215 1415h8v8h-8zM983 1423h8v8h-8zM967 1431h8v8h-8zM1207 1431h8v8h-8zM951 1455h8v8h-8zM943 1471h8v8h-8zM1159 1487h8v8h-8zM1143 1495h8v8h-8zM927 1503h8v8h-8zM1119 1503h8v8h-8zM1087 1511h8v8h-8zM1063 1519h8v8h-8zM1047 1535h8v8h-8zM911 1551h8v8h-8zM1039 1551h8v8h-8zM903 1583h8v8h-8zM1023 1591h8v8h-8zM1015 1623h8v8h-8z"/>
<path fill="#C3BFAC" d="M1159 1215h8v8h-8zM1159 1223h8v8h-8zM1255 1247h8v8h-8zM1151 1255h8v8h-8zM1151 1263h8v8h-8zM1247 1295h8v8h-8zM1143 1303h8v8h-8zM1135 1327h8v8h-8zM1239 1335h8v8h-8zM1127 1343h8v8h-8zM1119 1359h8v8h-8zM1231 1367h8v8h-8zM1063 1407h8v8h-8zM1215 1407h8v8h-8zM1015 1415h8v8h-8zM991 1423h8v8h-8zM959 1447h8v8h-8zM1199 1447h8v8h-8zM1191 1455h8v8h-8zM1183 1463h8v8h-8zM1175 1471h8v8h-8zM1167 1479h8v8h-8zM935 1487h8v8h-8zM1135 1495h8v8h-8zM1111 1503h8v8h-8zM1079 1511h8v8h-8zM919 1527h8v8h-8zM1031 1567h8v8h-8zM903 1591h8v8h-8zM1015 1615h8v8h-8z"/>
<path fill="#C4C0A7" d="M1255 1223h8v8h-8zM1159 1231h8v8h-8zM1255 1231h8v8h-8zM1255 1239h8v8h-8zM1151 1271h8v8h-8zM1247 1287h8v8h-8zM1239 1327h8v8h-8zM1231 1359h8v8h-8zM1111 1375h8v8h-8zM1103 1383h8v8h-8zM1223 1383h8v8h-8zM1095 1391h8v8h-8zM1087 1399h8v8h-8zM1071 1407h8v8h-8zM1023 1415h8v8h-8zM999 1423h8v8h-8zM1207 1423h8v8h-8zM975 1431h8v8h-8zM967 1439h8v8h-8zM1199 1439h8v8h-8zM951 1463h8v8h-8zM1151 1487h8v8h-8zM1127 1495h8v8h-8zM1103 1503h8v8h-8zM927 1511h8v8h-8zM1071 1511h8v8h-8zM1055 1519h8v8h-8zM1039 1543h8v8h-8zM911 1559h8v8h-8zM1023 1583h8v8h-8zM903 1599h8v8h-8z"/>
<path fill="#C6C1A3" d="M1255 1215h8v8h-8zM1159 1239h8v8h-8zM1247 1271h8v8h-8zM1151 1279h8v8h-8zM1247 1279h8v8h-8zM1143 1311h8v8h-8zM1239 1319h8v8h-8zM1135 1335h8v8h-8zM1127 1351h8v8h-8zM1231 1351h8v8h-8zM1223 1375h8v8h-8zM1215 1399h8v8h-8zM1031 1415h8v8h-8zM1207 1415h8v8h-8zM1199 1431h8v8h-8zM1191 1447h8v8h-8zM959 1455h8v8h-8zM1167 1471h8v8h-8zM943 1479h8v8h-8zM1159 1479h8v8h-8zM1143 1487h8v8h-8zM935 1495h8v8h-8zM1119 1495h8v8h-8zM1095 1503h8v8h-8zM1063 1511h8v8h-8zM1047 1527h8v8h-8zM919 1535h8v8h-8zM1031 1559h8v8h-8zM903 1607h8v8h-8zM1015 1607h8v8h-8zM1007 1663h8v8h-8z"/>
<path fill="#C8C19F" d="M1159 1247h8v8h-8zM1247 1263h8v8h-8zM1151 1287h8v8h-8zM1151 1295h8v8h-8zM1239 1311h8v8h-8zM1143 1319h8v8h-8zM1231 1343h8v8h-8zM1119 1367h8v8h-8zM1215 1391h8v8h-8zM1079 1407h8v8h-8zM1039 1415h16v8h-16zM1007 1423h8v8h-8zM983 1431h8v8h-8zM967 1447h8v8h-8zM1183 1455h8v8h-8zM1175 1463h8v8h-8zM951 1471h8v8h-8zM1135 1487h8v8h-8zM1111 1495h8v8h-8zM1087 1503h8v8h-8zM927 1519h8v8h-8zM911 1567h8v8h-8zM1023 1575h8v8h-8zM903 1615h8v8h-8zM1007 1647h8v8h-8zM1007 1655h8v8h-8z"/>
<path fill="#C9C29A" d="M1167 1215h8v8h-8zM1247 1247h8v8h-8zM1159 1255h8v8h-8zM1247 1255h8v8h-8zM1239 1295h8v8h-8zM1239 1303h8v8h-8zM1143 1327h8v8h-8zM1231 1335h8v8h-8zM1135 1343h8v8h-8zM1127 1359h8v8h-8zM1223 1367h8v8h-8zM1111 1383h8v8h-8zM1103 1391h8v8h-8zM1095 1399h8v8h-8zM1207 1407h8v8h-8zM1055 1415h16v8h-16zM1015 1423h8v8h-8zM1199 1423h8v8h-8zM991 1431h8v8h-8zM975 1439h8v8h-8zM1191 1439h8v8h-8zM1159 1471h8v8h-8zM1151 1479h8v8h-8zM935 1503h8v8h-8zM1079 1503h8v8h-8zM1047 1519h8v8h-8zM1039 1535h8v8h-8zM919 1543h8v8h-8zM1031 1551h8v8h-8zM1015 1599h8v8h-8zM903 1623h8v8h-8zM1007 1639h8v8h-8z"/>
<path fill="#CBC296" d="M1167 1223h8v8h-8zM1167 1231h8v8h-8zM1247 1231h8v8h-8zM1247 1239h8v8h-8zM1159 1263h8v8h-8zM1159 1271h8v8h-8zM1239 1287h8v8h-8zM1151 1303h8v8h-8zM1231 1327h8v8h-8zM1223 1359h8v8h-8zM1119 1375h8v8h-8zM1215 1383h8v8h-8zM1087 1407h8v8h-8zM1071 1415h8v8h-8zM1023 1423h8v8h-8zM999 1431h8v8h-8zM1183 1447h8v8h-8zM1175 1455h8v8h-8zM959 1463h8v8h-8zM1167 1463h8v8h-8zM943 1487h8v8h-8zM1127 1487h8v8h-8zM1103 1495h8v8h-8zM1071 1503h8v8h-8zM1055 1511h8v8h-8zM1023 1567h8v8h-8zM911 1575h8v8h-8zM903 1631h8v8h-8zM1007 1631h8v8h-8z"/>
<path fill="#CCC392" d="M1247 1215h8v8h-8zM1247 1223h8v8h-8zM1167 1239h8v8h-8zM1159 1279h8v8h-8zM1239 1279h8v8h-8zM1151 1311h8v8h-8zM1231 1319h8v8h-8zM1143 1335h8v8h-8zM1135 1351h8v8h-8zM1223 1351h8v8h-8zM1127 1367h8v8h-8zM1215 1375h8v8h-8zM1207 1399h8v8h-8zM1199 1415h8v8h-8zM1191 1431h8v8h-8zM983 1439h8v8h-8zM967 1455h8v8h-8zM951 1479h8v8h-8zM1143 1479h8v8h-8zM1119 1487h8v8h-8zM1095 1495h8v8h-8zM1063 1503h8v8h-8zM935 1511h8v8h-8zM927 1527h8v8h-8zM1031 1543h8v8h-8zM919 1551h8v8h-8zM1015 1591h8v8h-8zM903 1639h8v8h-8zM903 1647h8v8h-8zM903 1655h8v8h-8z"/>
<path fill="#CEC38E" d="M1167 1247h8v8h-8zM1239 1263h8v8h-8zM1239 1271h8v8h-8zM1159 1287h8v8h-8zM1231 1311h8v8h-8zM1151 1319h8v8h-8zM1223 1343h8v8h-8zM1119 1383h8v8h-8zM1111 1391h8v8h-8zM1207 1391h8v8h-8zM1103 1399h8v8h-8zM1095 1407h8v8h-8zM1199 1407h8v8h-8zM1079 1415h8v8h-8zM1031 1423h16v8h-16zM1191 1423h8v8h-8zM1007 1431h8v8h-8zM1183 1439h8v8h-8zM975 1447h8v8h-8zM1175 1447h8v8h-8zM1167 1455h8v8h-8zM1159 1463h8v8h-8zM959 1471h8v8h-8zM1151 1471h8v8h-8zM1135 1479h8v8h-8zM1111 1487h8v8h-8zM943 1495h8v8h-8zM1087 1495h8v8h-8zM1039 1527h8v8h-8zM911 1583h8v8h-8zM1007 1623h8v8h-8zM903 1663h8v8h-8z"/>
<path fill="#D0C489" d="M1239 1247h8v8h-8zM1167 1255h8v8h-8zM1239 1255h8v8h-8zM1159 1295h8v8h-8zM1231 1303h8v8h-8zM1151 1327h8v8h-8zM1223 1335h8v8h-8zM1143 1343h8v8h-8zM1135 1359h8v8h-8zM1215 1367h8v8h-8zM1047 1423h24v8h-24zM1015 1431h8v8h-8zM991 1439h8v8h-8zM967 1463h8v8h-8zM1127 1479h8v8h-8zM1103 1487h8v8h-8zM1079 1495h8v8h-8zM1047 1511h8v8h-8zM927 1535h8v8h-8zM919 1559h8v8h-8zM1023 1559h8v8h-8zM1015 1583h8v8h-8zM911 1591h8v8h-8zM1007 1615h8v8h-8z"/>
<path fill="#D1C485" d="M1175 1215h8v8h-8zM1175 1223h8v8h-8zM1175 1231h8v8h-8zM1239 1231h8v8h-8zM1239 1239h8v8h-8zM1167 1263h8v8h-8zM1167 1271h8v8h-8zM1231 1287h8v8h-8zM1231 1295h8v8h-8zM1159 1303h8v8h-8zM1223 1327h8v8h-8zM1215 1359h8v8h-8zM1127 1375h8v8h-8zM1207 1383h8v8h-8zM1199 1399h8v8h-8zM1087 1415h8v8h-8zM1191 1415h8v8h-8zM1071 1423h8v8h-8zM1023 1431h8v8h-8zM1183 1431h8v8h-8zM999 1439h8v8h-8zM983 1447h8v8h-8zM975 1455h8v8h-8zM1151 1463h8v8h-8zM1143 1471h8v8h-8zM1119 1479h8v8h-8zM951 1487h8v8h-8zM1071 1495h8v8h-8zM943 1503h8v8h-8zM1055 1503h8v8h-8zM935 1519h8v8h-8zM1031 1535h8v8h-8zM911 1599h8v8h-8zM1007 1607h8v8h-8z"/>
<path fill="#D3C481" d="M1239 1215h8v8h-8zM1239 1223h8v8h-8zM1175 1239h8v8h-8zM1167 1279h8v8h-8zM1231 1279h8v8h-8zM1159 1311h8v8h-8zM1223 1319h8v8h-8zM1151 1335h8v8h-8zM1143 1351h8v8h-8zM1215 1351h8v8h-8zM1135 1367h8v8h-8zM1207 1375h8v8h-8zM1119 1391h8v8h-8zM1111 1399h8v8h-8zM1103 1407h8v8h-8zM1175 1439h8v8h-8zM1167 1447h8v8h-8zM1159 1455h8v8h-8zM1135 1471h8v8h-8zM959 1479h8v8h-8zM1095 1487h8v8h-8zM1063 1495h8v8h-8zM1039 1519h8v8h-8zM1023 1551h8v8h-8zM919 1567h8v8h-8zM1015 1575h8v8h-8z"/>
<path fill="#D5C57D" d="M1175 1247h8v8h-8zM1231 1263h8v8h-8zM1231 1271h8v8h-8zM1167 1287h8v8h-8zM1167 1295h8v8h-8zM1223 1311h8v8h-8zM1159 1319h8v8h-8zM1151 1343h8v8h-8zM1215 1343h8v8h-8zM1207 1367h8v8h-8zM1127 1383h8v8h-8zM1199 1391h8v8h-8zM1191 1407h8v8h-8zM1095 1415h8v8h-8zM1079 1423h8v8h-8zM1183 1423h8v8h-8zM1031 1431h8v8h-8zM1007 1439h8v8h-8zM1143 1463h8v8h-8zM967 1471h8v8h-8zM1127 1471h8v8h-8zM1111 1479h8v8h-8zM1087 1487h8v8h-8zM1039 1511h8v8h-8zM927 1543h8v8h-8zM911 1607h8v8h-8zM999 1663h8v8h-8z"/>
<path fill="#D6C57A" d="M1183 1215h8v8h-8zM1183 1223h8v8h-8zM1231 1247h8v8h-8zM1175 1255h8v8h-8zM1231 1255h8v8h-8zM1175 1263h8v8h-8zM1223 1295h8v8h-8zM1167 1303h8v8h-8zM1223 1303h8v8h-8zM1159 1327h8v8h-8zM1215 1335h8v8h-8zM1143 1359h8v8h-8zM1135 1375h8v8h-8zM1199 1383h8v8h-8zM1183 1415h8v8h-8zM1087 1423h8v8h-8zM1039 1431h32v8h-32zM1175 1431h8v8h-8zM1015 1439h8v8h-8zM1167 1439h8v8h-8zM991 1447h8v8h-8zM1159 1447h8v8h-8zM983 1455h8v8h-8zM1151 1455h8v8h-8zM975 1463h8v8h-8zM1103 1479h8v8h-8zM1079 1487h8v8h-8zM951 1495h8v8h-8zM1055 1495h8v8h-8zM1047 1503h8v8h-8zM943 1511h8v8h-8zM935 1527h8v8h-8zM1031 1527h8v8h-8zM1023 1543h8v8h-8zM1015 1567h8v8h-8zM1007 1599h8v8h-8zM911 1615h8v8h-8zM999 1647h8v8h-8zM999 1655h8v8h-8z"/>
<path fill="#D8C576" d="M1231 1215h8v8h-8zM1231 1223h8v8h-8zM1183 1231h8v8h-8zM1231 1231h8v8h-8zM1183 1239h8v8h-8zM1231 1239h8v8h-8zM1175 1271h8v8h-8zM1223 1279h8v8h-8zM1223 1287h8v8h-8zM1167 1311h8v8h-8zM1215 1327h8v8h-8zM1159 1335h8v8h-8zM1151 1351h8v8h-8zM1207 1359h8v8h-8zM1143 1367h8v8h-8zM1127 1391h8v8h-8zM1119 1399h8v8h-8zM1191 1399h8v8h-8zM1111 1407h8v8h-8zM1103 1415h8v8h-8zM1071 1431h8v8h-8zM1023 1439h8v8h-8zM999 1447h8v8h-8zM1135 1463h8v8h-8zM1119 1471h8v8h-8zM1095 1479h8v8h-8zM1071 1487h8v8h-8zM1023 1535h8v8h-8zM927 1551h8v8h-8zM919 1575h8v8h-8zM911 1623h8v8h-8zM999 1639h8v8h-8z"/>
<path fill="#DAC672" d="M1183 1247h8v8h-8zM1223 1263h8v8h-8zM1223 1271h8v8h-8zM1175 1279h8v8h-8zM1175 1287h8v8h-8zM1215 1311h8v8h-8zM1167 1319h8v8h-8zM1215 1319h8v8h-8zM1207 1351h8v8h-8zM1199 1375h8v8h-8zM1135 1383h8v8h-8zM1191 1391h8v8h-8zM1183 1407h8v8h-8zM1095 1423h8v8h-8zM1175 1423h8v8h-8zM1079 1431h8v8h-8zM1031 1439h8v8h-8zM1159 1439h8v8h-8zM1007 1447h8v8h-8zM1151 1447h8v8h-8zM1143 1455h8v8h-8zM1111 1471h8v8h-8zM967 1479h8v8h-8zM1087 1479h8v8h-8zM959 1487h8v8h-8zM1063 1487h8v8h-8zM1031 1519h8v8h-8zM1015 1559h8v8h-8zM1007 1591h8v8h-8zM911 1631h8v8h-8zM999 1631h8v8h-8z"/>
<path fill="#DCC66E" d="M1191 1215h8v8h-8zM1191 1223h8v8h-8zM1191 1231h8v8h-8zM1223 1231h8v8h-8zM1223 1239h8v8h-8zM1223 1247h8v8h-8zM1183 1255h8v8h-8zM1223 1255h8v8h-8zM1183 1263h8v8h-8zM1175 1295h8v8h-8zM1215 1295h8v8h-8zM1175 1303h8v8h-8zM1215 1303h8v8h-8zM1167 1327h8v8h-8zM1207 1335h8v8h-8zM1159 1343h8v8h-8zM1207 1343h8v8h-8zM1151 1359h8v8h-8zM1199 1367h8v8h-8zM1143 1375h8v8h-8zM1191 1383h8v8h-8zM1127 1399h8v8h-8zM1119 1407h8v8h-8zM1111 1415h8v8h-8zM1175 1415h8v8h-8zM1103 1423h8v8h-8zM1087 1431h8v8h-8zM1167 1431h8v8h-8zM1039 1439h24v8h-24zM991 1455h8v8h-8zM983 1463h8v8h-8zM1119 1463h16v8h-16zM975 1471h8v8h-8zM1103 1471h8v8h-8zM1079 1479h8v8h-8zM1055 1487h8v8h-8zM1047 1495h8v8h-8zM951 1503h8v8h-8zM1039 1503h8v8h-8zM943 1519h8v8h-8zM935 1535h8v8h-8zM919 1583h8v8h-8zM1007 1583h8v8h-8zM999 1623h8v8h-8zM911 1639h8v8h-8zM911 1647h8v8h-8z"/>
<path fill="#DDC66B" d="M1223 1215h8v8h-8zM1223 1223h8v8h-8zM1191 1239h8v8h-8zM1191 1247h8v8h-8zM1183 1271h8v8h-8zM1215 1271h8v8h-8zM1183 1279h8v8h-8zM1215 1279h8v8h-8zM1215 1287h8v8h-8zM1175 1311h8v8h-8zM1207 1319h8v8h-8zM1207 1327h8v8h-8zM1167 1335h8v8h-8zM1159 1351h8v8h-8zM1199 1359h8v8h-8zM1151 1367h8v8h-8zM1191 1375h8v8h-8zM1135 1391h8v8h-8zM1183 1399h8v8h-8zM1167 1423h8v8h-8zM1095 1431h8v8h-8zM1063 1439h24v8h-24zM1151 1439h8v8h-8zM1015 1447h8v8h-8zM1143 1447h8v8h-8zM1135 1455h8v8h-8zM1111 1463h8v8h-8zM1087 1471h16v8h-16zM1071 1479h8v8h-8zM1023 1527h8v8h-8zM1015 1551h8v8h-8zM927 1559h8v8h-8zM911 1655h8v8h-8zM911 1663h8v8h-8z"/>
<path fill="#DEC568" d="M1199 1215h8v8h-8zM1215 1215h8v8h-8zM1199 1223h8v8h-8zM1215 1223h8v8h-8zM1199 1231h8v8h-8zM1215 1231h8v8h-8zM1199 1239h8v8h-8zM1215 1239h8v8h-8zM1215 1247h8v8h-8zM1191 1255h8v8h-8zM1215 1255h8v8h-8zM1191 1263h8v8h-8zM1215 1263h8v8h-8zM1183 1287h8v8h-8zM1183 1295h8v8h-8zM1207 1295h8v8h-8zM1183 1303h8v8h-8zM1207 1303h8v8h-8zM1207 1311h8v8h-8zM1175 1319h8v8h-8zM1175 1327h8v8h-8zM1199 1335h8v8h-8zM1167 1343h8v8h-8zM1199 1343h8v8h-8zM1199 1351h8v8h-8zM1159 1359h8v8h-8zM1191 1367h8v8h-8zM1143 1383h8v8h-8zM1183 1391h8v8h-8zM1135 1399h8v8h-8zM1127 1407h8v8h-8zM1175 1407h8v8h-8zM1119 1415h8v8h-8zM1111 1423h8v8h-8zM1159 1431h8v8h-8zM1087 1439h8v8h-8zM1023 1447h16v8h-16zM1135 1447h8v8h-8zM999 1455h8v8h-8zM1127 1455h8v8h-8zM1103 1463h8v8h-8zM1079 1471h8v8h-8zM1063 1479h8v8h-8zM967 1487h8v8h-8zM959 1495h8v8h-8zM951 1511h8v8h-8zM1031 1511h8v8h-8zM1007 1575h8v8h-8zM919 1591h8v8h-8zM999 1615h8v8h-8z"/>
<path fill="#DEC465" d="M1207 1215h8v8h-8zM1207 1223h8v8h-8zM1207 1231h8v8h-8zM1207 1239h8v8h-8zM1199 1247h16v8h-16zM1199 1255h16v8h-16zM1199 1263h16v8h-16zM1191 1271h24v8h-24zM1191 1279h24v8h-24zM1191 1287h24v8h-24zM1191 1295h16v8h-16zM1191 1303h16v8h-16zM1183 1311h24v8h-24zM1183 1319h8v8h-8zM1199 1319h8v8h-8zM1199 1327h8v8h-8zM1175 1335h8v8h-8zM1167 1351h8v8h-8zM1191 1351h8v8h-8zM1191 1359h8v8h-8zM1159 1367h8v8h-8zM1151 1375h8v8h-8zM1183 1383h8v8h-8zM1143 1391h8v8h-8zM1175 1399h8v8h-8zM1167 1415h8v8h-8zM1159 1423h8v8h-8zM1103 1431h8v8h-8zM1151 1431h8v8h-8zM1095 1439h8v8h-8zM1143 1439h8v8h-8zM1039 1447h56v8h-56zM1007 1455h8v8h-8zM1111 1455h16v8h-16zM991 1463h8v8h-8zM1079 1463h24v8h-24zM983 1471h8v8h-8zM1071 1471h8v8h-8zM975 1479h8v8h-8zM1055 1479h8v8h-8zM1047 1487h8v8h-8zM1039 1495h8v8h-8zM1031 1503h8v8h-8zM943 1527h8v8h-8zM935 1543h8v8h-8zM1015 1543h8v8h-8zM927 1567h8v8h-8zM1007 1567h8v8h-8zM919 1599h8v8h-8zM999 1607h8v8h-8z"/>
<path fill="#DFC462" d="M1191 1319h8v8h-8zM1183 1327h16v8h-16zM1183 1335h16v8h-16zM1175 1343h24v8h-24zM1175 1351h16v8h-16zM1167 1359h8v8h-8zM1183 1359h8v8h-8zM1183 1367h8v8h-8zM1159 1375h8v8h-8zM1183 1375h8v8h-8zM1151 1383h8v8h-8zM1175 1391h8v8h-8zM1143 1399h8v8h-8zM1167 1399h8v8h-8zM1135 1407h8v8h-8zM1167 1407h8v8h-8zM1127 1415h8v8h-8zM1159 1415h8v8h-8zM1119 1423h8v8h-8zM1151 1423h8v8h-8zM1111 1431h16v8h-16zM1143 1431h8v8h-8zM1103 1439h16v8h-16zM1135 1439h8v8h-8zM1095 1447h40v8h-40zM1015 1455h16v8h-16zM1063 1455h48v8h-48zM1071 1463h8v8h-8zM1063 1471h8v8h-8zM1047 1479h8v8h-8zM1023 1519h8v8h-8z"/>
<path fill="#E0C35F" d="M1175 1359h8v8h-8zM1167 1367h16v8h-16zM1167 1375h16v8h-16zM1159 1383h24v8h-24zM1151 1391h24v8h-24zM1151 1399h16v8h-16zM1143 1407h24v8h-24zM1135 1415h24v8h-24zM1127 1423h24v8h-24zM1127 1431h16v8h-16zM1119 1439h16v8h-16zM1031 1455h32v8h-32zM999 1463h8v8h-8zM1055 1463h16v8h-16zM991 1471h8v8h-8zM1047 1471h16v8h-16zM1039 1487h8v8h-8zM1031 1495h8v8h-8zM959 1503h8v8h-8zM951 1519h8v8h-8zM1015 1535h8v8h-8zM935 1551h8v8h-8zM999 1599h8v8h-8zM919 1607h8v8h-8z"/>
<path fill="#E1C35C" d="M1007 1463h8v8h-8zM1039 1463h16v8h-16zM983 1479h8v8h-8zM1039 1479h8v8h-8zM975 1487h8v8h-8zM967 1495h8v8h-8zM1023 1511h8v8h-8zM1015 1527h8v8h-8zM943 1535h8v8h-8zM1007 1559h8v8h-8zM927 1575h8v8h-8zM919 1615h8v8h-8zM991 1655h8v8h-8zM991 1663h8v8h-8z"/>
<path fill="#E2C259" d="M1015 1463h24v8h-24zM999 1471h8v8h-8zM1039 1471h8v8h-8zM1031 1487h8v8h-8zM1023 1503h8v8h-8zM959 1511h8v8h-8zM1007 1551h8v8h-8zM999 1591h8v8h-8zM991 1639h8v8h-8zM991 1647h8v8h-8z"/>
<path fill="#E2C058" d="M1007 1471h8v8h-8zM1023 1471h16v8h-16zM991 1479h8v8h-8zM1031 1479h8v8h-8zM983 1487h8v8h-8zM1023 1487h8v8h-8zM1023 1495h8v8h-8zM1015 1519h8v8h-8zM951 1527h8v8h-8zM935 1559h8v8h-8zM927 1583h8v8h-8zM999 1583h8v8h-8zM919 1623h8v8h-8zM991 1631h8v8h-8z"/>
<path fill="#E2BE56" d="M1015 1471h8v8h-8zM999 1479h8v8h-8zM1023 1479h8v8h-8zM975 1495h8v8h-8zM967 1503h8v8h-8zM1015 1511h8v8h-8zM943 1543h8v8h-8zM1007 1543h8v8h-8zM999 1575h8v8h-8zM919 1631h8v8h-8z"/>
<path fill="#E2BD55" d="M1007 1479h16v8h-16zM991 1487h8v8h-8zM1015 1487h8v8h-8zM1015 1495h8v8h-8zM1015 1503h8v8h-8zM959 1519h8v8h-8zM1007 1527h8v8h-8zM1007 1535h8v8h-8zM935 1567h8v8h-8zM991 1623h8v8h-8zM919 1639h8v8h-8zM919 1647h8v8h-8z"/>
<path fill="#E3BB53" d="M999 1487h16v8h-16zM983 1495h8v8h-8zM967 1511h8v8h-8zM1007 1519h8v8h-8zM951 1535h8v8h-8zM999 1567h8v8h-8zM927 1591h8v8h-8zM991 1615h8v8h-8zM919 1655h8v8h-8zM919 1663h8v8h-8z"/>
<path fill="#E3B952" d="M991 1495h8v8h-8zM1007 1495h8v8h-8zM975 1503h8v8h-8zM1007 1503h8v8h-8zM1007 1511h8v8h-8zM943 1551h8v8h-8zM999 1559h8v8h-8zM927 1599h8v8h-8zM991 1607h8v8h-8z"/>
<path fill="#E3B750" d="M999 1495h8v8h-8zM959 1527h8v8h-8zM999 1551h8v8h-8zM935 1575h8v8h-8zM991 1599h8v8h-8z"/>
<path fill="#E3B64F" d="M983 1503h24v8h-24zM975 1511h8v8h-8zM999 1511h8v8h-8zM967 1519h8v8h-8zM999 1519h8v8h-8zM999 1527h8v8h-8zM999 1535h8v8h-8zM999 1543h8v8h-8zM943 1559h8v8h-8zM991 1591h8v8h-8zM927 1607h8v8h-8z"/>
<path fill="#E3B34F" d="M991 1511h8v8h-8zM951 1543h8v8h-8zM991 1583h8v8h-8zM927 1615h8v8h-8z"/>
<path fill="#E2B14E" d="M983 1511h8v8h-8zM975 1519h8v8h-8zM991 1519h8v8h-8zM967 1527h8v8h-8zM959 1535h8v8h-8zM991 1575h8v8h-8zM935 1583h8v8h-8zM983 1655h8v8h-8zM983 1663h8v8h-8z"/>
<path fill="#E2AF4E" d="M983 1519h8v8h-8zM991 1527h8v8h-8zM951 1551h8v8h-8zM991 1559h8v8h-8zM943 1567h8v8h-8zM991 1567h8v8h-8zM927 1623h8v8h-8zM983 1639h8v8h-8zM983 1647h8v8h-8z"/>
<path fill="#E2AD4E" d="M975 1527h16v8h-16zM991 1535h8v8h-8zM991 1543h8v8h-8zM991 1551h8v8h-8zM983 1631h8v8h-8z"/>
<path fill="#E1AB4D" d="M967 1535h8v8h-8zM959 1543h8v8h-8zM935 1591h8v8h-8zM983 1615h8v8h-8zM983 1623h8v8h-8zM927 1631h8v8h-8zM927 1639h8v8h-8z"/>
<path fill="#E1A84D" d="M975 1535h16v8h-16zM951 1559h8v8h-8zM943 1575h8v8h-8zM935 1599h8v8h-8zM983 1607h8v8h-8zM927 1647h8v8h-8zM927 1655h8v8h-8zM927 1663h8v8h-8z"/>
<path fill="#E1A64D" d="M967 1543h8v8h-8zM983 1543h8v8h-8zM959 1551h8v8h-8zM983 1551h8v8h-8zM983 1559h8v8h-8zM983 1591h8v8h-8zM983 1599h8v8h-8z"/>
<path fill="#E0A44C" d="M975 1543h8v8h-8zM951 1567h8v8h-8zM983 1567h8v8h-8zM983 1575h8v8h-8zM943 1583h8v8h-8zM983 1583h8v8h-8zM935 1607h8v8h-8z"/>
<path fill="#E0A14B" d="M967 1551h16v8h-16zM959 1559h8v8h-8z"/>
<path fill="#E09E4B" d="M975 1559h8v8h-8zM935 1615h8v8h-8z"/>
<path fill="#E09C4A" d="M967 1559h8v8h-8zM959 1567h8v8h-8zM975 1567h8v8h-8zM951 1575h8v8h-8zM943 1591h8v8h-8zM935 1623h8v8h-8zM975 1647h8v8h-8zM975 1655h8v8h-8zM975 1663h8v8h-8z"/>
<path fill="#DF9A4A" d="M967 1567h8v8h-8zM975 1575h8v8h-8zM975 1623h8v8h-8zM975 1631h8v8h-8zM975 1639h8v8h-8z"/>
<path fill="#DF9749" d="M959 1575h8v8h-8zM951 1583h8v8h-8zM975 1583h8v8h-8zM975 1591h8v8h-8zM943 1599h8v8h-8zM975 1599h8v8h-8zM975 1607h8v8h-8zM975 1615h8v8h-8zM935 1631h8v8h-8z"/>
<path fill="#DE9548" d="M967 1575h8v8h-8zM943 1607h8v8h-8zM935 1639h8v8h-8zM935 1647h8v8h-8zM935 1655h8v8h-8z"/>
<path fill="#DE9348" d="M959 1583h16v8h-16zM951 1591h8v8h-8zM935 1663h8v8h-8z"/>
<path fill="#DD9047" d="M967 1591h8v8h-8zM943 1615h8v8h-8z"/>
<path fill="#DD8E46" d="M959 1591h8v8h-8zM951 1599h8v8h-8zM967 1599h8v8h-8zM943 1623h8v8h-8z"/>
<path fill="#DC8C45" d="M951 1607h8v8h-8zM967 1607h8v8h-8zM967 1615h8v8h-8zM967 1623h8v8h-8zM967 1631h8v8h-8zM967 1639h8v8h-8zM967 1647h8v8h-8zM967 1655h8v8h-8zM967 1663h8v8h-8z"/>
<path fill="#DB8A45" d="M959 1599h8v8h-8zM943 1631h8v8h-8z"/>
<path fill="#DB8844" d="M959 1607h8v8h-8zM951 1615h16v8h-16zM943 1639h8v8h-8zM943 1647h8v8h-8zM943 1655h8v8h-8zM943 1663h8v8h-8z"/>
<path fill="#DA8542" d="M951 1623h16v8h-16z"/>
<path fill="#DA8241" d="M951 1631h16v8h-16zM959 1639h8v8h-8zM959 1647h8v8h-8zM959 1655h8v8h-8zM959 1663h8v8h-8z"/>
<path fill="#D98040" d="M951 1639h8v8h-8zM951 1647h8v8h-8zM951 1655h8v8h-8zM951 1663h8v8h-8z"/>
</g></g>
<linearGradient id="hfg" x1="0" y1="1" x2="0" y2="0">
<stop offset="0%" stop-color="#FDFDFE"/>
<stop offset="6%" stop-color="#E6E8F5"/>
<stop offset="12.5%" stop-color="#C9CCE9"/>
<stop offset="20%" stop-color="#B8BCDE"/>
<stop offset="29%" stop-color="#BBBBC0"/>
<stop offset="37.5%" stop-color="#C6C1A3"/>
<stop offset="46%" stop-color="#D1C486"/>
<stop offset="54%" stop-color="#DCC66D"/>
<stop offset="62.5%" stop-color="#E2C259"/>
<stop offset="71%" stop-color="#E3B64F"/>
<stop offset="79%" stop-color="#E1A84D"/>
<stop offset="87.5%" stop-color="#DF9749"/>
<stop offset="96%" stop-color="#DB8844"/>
<stop offset="100%" stop-color="#D98040"/>
</linearGradient>
<rect x="1348.5" y="1239.5" width="41.8" height="403.7" fill="url(#hfg)"/>
<rect x="775.5" y="1239.5" width="614.8" height="403.7" fill="none" stroke="#231F20" stroke-width="1.8"/>
<path d="M1348.5,1239.5 V1643.2" stroke="#231F20" stroke-width="1.8"/>
<text transform="translate(1381.2,1316.5) rotate(-90)" font-size="40" fill="#231F20" textLength="73.9" lengthAdjust="spacingAndGlyphs">0.14</text>
<text transform="translate(1381.4,1636.4) rotate(-90)" font-size="40" fill="#231F20" textLength="20.4" lengthAdjust="spacingAndGlyphs">0</text>
<text transform="translate(1380.5,1446.7) rotate(-90)" font-size="40" fill="#231F20" textLength="36.8" lengthAdjust="spacingAndGlyphs">|P|</text>
<text transform="translate(1366.9,1409.4) rotate(-90)" font-size="24" fill="#231F20" textLength="10.7" lengthAdjust="spacingAndGlyphs">2</text>
<text x="750.1" y="1239.6" font-size="39" fill="#231F20" textLength="26.3" lengthAdjust="spacingAndGlyphs">f)</text>
<text x="784.7" y="1683.2" font-size="38.5" fill="#231F20" textLength="21.3" lengthAdjust="spacingAndGlyphs">0</text>
<text x="1315.8" y="1683.2" font-size="38.5" fill="#231F20" textLength="42.3" lengthAdjust="spacingAndGlyphs">24</text>
<text x="1016" y="1691.8" font-size="40" fill="#231F20" textLength="162.5" lengthAdjust="spacingAndGlyphs">Time (&#181;s)</text>
<text transform="translate(104.1,1299.8) rotate(-90)" font-size="40" fill="#231F20" textLength="53.8" lengthAdjust="spacingAndGlyphs">0.5</text>
<text transform="translate(105,1648.9) rotate(-90)" font-size="40" fill="#231F20" textLength="66.8" lengthAdjust="spacingAndGlyphs">-0.5</text>
<text transform="translate(104.1,1447.6) rotate(-90)" font-size="40" fill="#231F20" textLength="23.1" lengthAdjust="spacingAndGlyphs">z</text>
<text transform="translate(43.2,1495.8) rotate(-90)" font-size="43" fill="#231F20" textLength="146.9" lengthAdjust="spacingAndGlyphs">Position</text>
</svg></body></html>
